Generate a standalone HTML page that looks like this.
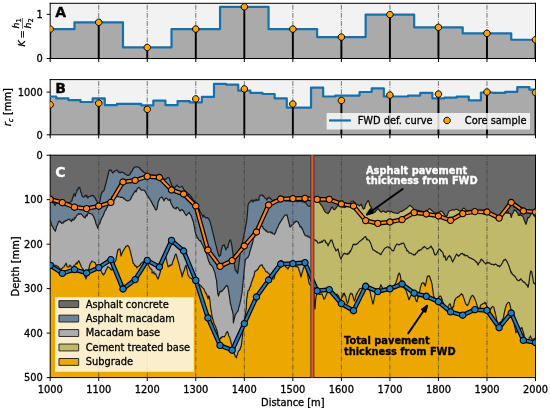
<!DOCTYPE html>
<html><head><meta charset="utf-8"><title>Figure</title>
<style>html,body{margin:0;padding:0;background:#fff;overflow:hidden}svg{display:block}
text{font-family:"DejaVu Sans","Liberation Sans",sans-serif}</style></head>
<body>
<svg width="550" height="410" viewBox="0 0 550 410" version="1.1">
<defs>
<style type="text/css">*{stroke-linejoin: round; stroke-linecap: butt}</style>
</defs>
<g id="figure_1">
<g id="patch_1">
<path d="M 0 410 
L 550 410 
L 550 0 
L 0 0 
z
" style="fill: #ffffff"/>
</g>
<g id="axes_1">
<g id="patch_2">
<path d="M 50.2 58.5 
L 535.5 58.5 
L 535.5 3.3 
L 50.2 3.3 
z
" style="fill: #f2f2f2"/>
</g>
<g id="FillBetweenPolyCollection_1">
<g clip-path="url(#p1112a721fc)">
<path d="M 50.2 -351.5 
L 50.2 -380.86 
L 74.46 -380.86 
L 74.46 -387.71 
L 122.99 -387.71 
L 122.99 -362.54 
L 171.52 -362.54 
L 171.52 -380.95 
L 220.05 -380.95 
L 220.05 -403.16 
L 268.58 -403.16 
L 268.58 -380.91 
L 317.11 -380.91 
L 317.11 -372.91 
L 365.64 -372.91 
L 365.64 -395.43 
L 414.17 -395.43 
L 414.17 -382.63 
L 462.70 -382.63 
L 462.70 -376.67 
L 511.23 -376.67 
L 511.23 -370.26 
L 535.5 -370.26 
L 535.5 -351.5 
L 535.5 -351.5 
L 511.23 -351.5 
L 511.23 -351.5 
L 462.70 -351.5 
L 462.70 -351.5 
L 414.17 -351.5 
L 414.17 -351.5 
L 365.64 -351.5 
L 365.64 -351.5 
L 317.11 -351.5 
L 317.11 -351.5 
L 268.58 -351.5 
L 268.58 -351.5 
L 220.05 -351.5 
L 220.05 -351.5 
L 171.52 -351.5 
L 171.52 -351.5 
L 122.99 -351.5 
L 122.99 -351.5 
L 74.46 -351.5 
L 74.46 -351.5 
L 50.2 -351.5 
z
" transform="translate(0 410)" style="fill: #aaaaaa"/>
</g>
</g>
<g id="line2d_1">
<path d="M 98.73 58.5 
L 98.73 3.3 
" clip-path="url(#p1112a721fc)" style="fill: none; stroke-dasharray: 4.80,1.27,0.80,1.27; stroke-dashoffset: 0; stroke: #3c3c3c; stroke-opacity: 0.8; stroke-width: 0.85"/>
</g>
<g id="line2d_2">
<path d="M 147.26 58.5 
L 147.26 3.3 
" clip-path="url(#p1112a721fc)" style="fill: none; stroke-dasharray: 4.80,1.27,0.80,1.27; stroke-dashoffset: 0; stroke: #3c3c3c; stroke-opacity: 0.8; stroke-width: 0.85"/>
</g>
<g id="line2d_3">
<path d="M 195.79 58.5 
L 195.79 3.3 
" clip-path="url(#p1112a721fc)" style="fill: none; stroke-dasharray: 4.80,1.27,0.80,1.27; stroke-dashoffset: 0; stroke: #3c3c3c; stroke-opacity: 0.8; stroke-width: 0.85"/>
</g>
<g id="line2d_4">
<path d="M 244.32 58.5 
L 244.32 3.3 
" clip-path="url(#p1112a721fc)" style="fill: none; stroke-dasharray: 4.80,1.27,0.80,1.27; stroke-dashoffset: 0; stroke: #3c3c3c; stroke-opacity: 0.8; stroke-width: 0.85"/>
</g>
<g id="line2d_5">
<path d="M 292.85 58.5 
L 292.85 3.3 
" clip-path="url(#p1112a721fc)" style="fill: none; stroke-dasharray: 4.80,1.27,0.80,1.27; stroke-dashoffset: 0; stroke: #3c3c3c; stroke-opacity: 0.8; stroke-width: 0.85"/>
</g>
<g id="line2d_6">
<path d="M 341.38 58.5 
L 341.38 3.3 
" clip-path="url(#p1112a721fc)" style="fill: none; stroke-dasharray: 4.80,1.27,0.80,1.27; stroke-dashoffset: 0; stroke: #3c3c3c; stroke-opacity: 0.8; stroke-width: 0.85"/>
</g>
<g id="line2d_7">
<path d="M 389.91 58.5 
L 389.91 3.3 
" clip-path="url(#p1112a721fc)" style="fill: none; stroke-dasharray: 4.80,1.27,0.80,1.27; stroke-dashoffset: 0; stroke: #3c3c3c; stroke-opacity: 0.8; stroke-width: 0.85"/>
</g>
<g id="line2d_8">
<path d="M 438.44 58.5 
L 438.44 3.3 
" clip-path="url(#p1112a721fc)" style="fill: none; stroke-dasharray: 4.80,1.27,0.80,1.27; stroke-dashoffset: 0; stroke: #3c3c3c; stroke-opacity: 0.8; stroke-width: 0.85"/>
</g>
<g id="line2d_9">
<path d="M 486.97 58.5 
L 486.97 3.3 
" clip-path="url(#p1112a721fc)" style="fill: none; stroke-dasharray: 4.80,1.27,0.80,1.27; stroke-dashoffset: 0; stroke: #3c3c3c; stroke-opacity: 0.8; stroke-width: 0.85"/>
</g>
<g id="patch_3">
<path d="M 50.2 58.5 
L 50.2 3.3 
" style="fill: none; stroke: #000000; stroke-linejoin: miter; stroke-linecap: square"/>
</g>
<g id="patch_4">
<path d="M 535.5 58.5 
L 535.5 3.3 
" style="fill: none; stroke: #000000; stroke-linejoin: miter; stroke-linecap: square"/>
</g>
<g id="patch_5">
<path d="M 50.2 58.5 
L 535.5 58.5 
" style="fill: none; stroke: #000000; stroke-linejoin: miter; stroke-linecap: square"/>
</g>
<g id="patch_6">
<path d="M 50.2 3.3 
L 535.5 3.3 
" style="fill: none; stroke: #000000; stroke-linejoin: miter; stroke-linecap: square"/>
</g>
<g id="matplotlib.axis_1">
<g id="xtick_1">
<g id="line2d_10">
<g>
<path d="M 0 0 
L 0 3.5 
" transform="translate(50.2 58.5)" style="stroke: #000000"/>
</g>
</g>
</g>
<g id="xtick_2">
<g id="line2d_11">
<g>
<path d="M 0 0 
L 0 3.5 
" transform="translate(98.73 58.5)" style="stroke: #000000"/>
</g>
</g>
</g>
<g id="xtick_3">
<g id="line2d_12">
<g>
<path d="M 0 0 
L 0 3.5 
" transform="translate(147.26 58.5)" style="stroke: #000000"/>
</g>
</g>
</g>
<g id="xtick_4">
<g id="line2d_13">
<g>
<path d="M 0 0 
L 0 3.5 
" transform="translate(195.79 58.5)" style="stroke: #000000"/>
</g>
</g>
</g>
<g id="xtick_5">
<g id="line2d_14">
<g>
<path d="M 0 0 
L 0 3.5 
" transform="translate(244.32 58.5)" style="stroke: #000000"/>
</g>
</g>
</g>
<g id="xtick_6">
<g id="line2d_15">
<g>
<path d="M 0 0 
L 0 3.5 
" transform="translate(292.85 58.5)" style="stroke: #000000"/>
</g>
</g>
</g>
<g id="xtick_7">
<g id="line2d_16">
<g>
<path d="M 0 0 
L 0 3.5 
" transform="translate(341.38 58.5)" style="stroke: #000000"/>
</g>
</g>
</g>
<g id="xtick_8">
<g id="line2d_17">
<g>
<path d="M 0 0 
L 0 3.5 
" transform="translate(389.91 58.5)" style="stroke: #000000"/>
</g>
</g>
</g>
<g id="xtick_9">
<g id="line2d_18">
<g>
<path d="M 0 0 
L 0 3.5 
" transform="translate(438.44 58.5)" style="stroke: #000000"/>
</g>
</g>
</g>
<g id="xtick_10">
<g id="line2d_19">
<g>
<path d="M 0 0 
L 0 3.5 
" transform="translate(486.97 58.5)" style="stroke: #000000"/>
</g>
</g>
</g>
<g id="xtick_11">
<g id="line2d_20">
<g>
<path d="M 0 0 
L 0 3.5 
" transform="translate(535.5 58.5)" style="stroke: #000000"/>
</g>
</g>
</g>
</g>
<g id="matplotlib.axis_2">
<g id="ytick_1">
<g id="line2d_21">
<g>
<path d="M 0 0 
L -3.5 0 
" transform="translate(50.2 58.5)" style="stroke: #000000"/>
</g>
</g>
<g id="text_1">
<text style="font-size: 9.85px; font-family: 'DejaVu Sans', sans-serif; text-anchor: end; stroke: #000000; stroke-width: 0.3px" x="42.7" y="62.24" transform="rotate(-0 42.7 62.24)">0</text>
</g>
</g>
<g id="ytick_2">
<g id="line2d_22">
<g>
<path d="M 0 0 
L -3.5 0 
" transform="translate(50.2 14.34)" style="stroke: #000000"/>
</g>
</g>
<g id="text_2">
<text style="font-size: 9.85px; font-family: 'DejaVu Sans', sans-serif; text-anchor: end; stroke: #000000; stroke-width: 0.3px" x="42.7" y="18.08" transform="rotate(-0 42.7 18.08)">1</text>
</g>
</g>
<g id="text_3">
<!-- $K=\dfrac{h_1}{h_2}$ -->
<g transform="translate(25.43 46.43) rotate(-90)">
<text style="stroke: #000000; stroke-width: 0.3px">
<tspan x="0" y="-0.44" style="font-style: oblique; font-size: 9.5px; font-family: 'DejaVu Sans', sans-serif">K</tspan>
<tspan x="17.89" y="-6.40" style="font-style: oblique; font-size: 9.5px; font-family: 'DejaVu Sans', sans-serif">h</tspan>
<tspan x="17.89" y="5.79" style="font-style: oblique; font-size: 9.5px; font-family: 'DejaVu Sans', sans-serif">h</tspan>
<tspan x="8.08" y="-0.44" style="font-size: 9.5px; font-family: 'DejaVu Sans', sans-serif">=</tspan>
<tspan x="23.91" y="-4.76" style="font-size: 6.65px; font-family: 'DejaVu Sans', sans-serif">1</tspan>
<tspan x="23.91" y="7.43" style="font-size: 6.65px; font-family: 'DejaVu Sans', sans-serif">2</tspan>
</text>
<rect x="17.89" y="-3.39" width="10.52" height="0.59"/>
</g>
</g>
</g>
<g id="line2d_23">
<path d="M 50.2 29.13 
L 74.46 29.13 
L 74.46 22.28 
L 122.99 22.28 
L 122.99 47.46 
L 171.52 47.46 
L 171.52 29.04 
L 220.05 29.04 
L 220.05 6.83 
L 268.58 6.83 
L 268.58 29.08 
L 317.11 29.08 
L 317.11 37.08 
L 365.64 37.08 
L 365.64 14.56 
L 414.17 14.56 
L 414.17 27.36 
L 462.70 27.36 
L 462.70 33.32 
L 511.23 33.32 
L 511.23 39.73 
L 535.5 39.73 
" clip-path="url(#p1112a721fc)" style="fill: none; stroke: #1570b0; stroke-width: 2.2; stroke-linecap: square"/>
</g>
<g id="text_4">
<text style="font-weight: 700; font-size: 14px; font-family: 'DejaVu Sans', sans-serif; text-anchor: start; stroke: #000000; stroke-width: 0.3px" x="55.2" y="17.13" transform="rotate(-0 55.2 17.13)">A</text>
</g>
<g id="LineCollection_1">
<path d="M 50.2 58.5 
L 50.2 29.13 
" clip-path="url(#p1112a721fc)" style="fill: none; stroke: #000000; stroke-width: 1.9"/>
<path d="M 98.73 58.5 
L 98.73 22.28 
" clip-path="url(#p1112a721fc)" style="fill: none; stroke: #000000; stroke-width: 1.9"/>
<path d="M 147.26 58.5 
L 147.26 47.46 
" clip-path="url(#p1112a721fc)" style="fill: none; stroke: #000000; stroke-width: 1.9"/>
<path d="M 195.79 58.5 
L 195.79 29.04 
" clip-path="url(#p1112a721fc)" style="fill: none; stroke: #000000; stroke-width: 1.9"/>
<path d="M 244.32 58.5 
L 244.32 6.83 
" clip-path="url(#p1112a721fc)" style="fill: none; stroke: #000000; stroke-width: 1.9"/>
<path d="M 292.85 58.5 
L 292.85 29.08 
" clip-path="url(#p1112a721fc)" style="fill: none; stroke: #000000; stroke-width: 1.9"/>
<path d="M 341.38 58.5 
L 341.38 37.08 
" clip-path="url(#p1112a721fc)" style="fill: none; stroke: #000000; stroke-width: 1.9"/>
<path d="M 389.91 58.5 
L 389.91 14.56 
" clip-path="url(#p1112a721fc)" style="fill: none; stroke: #000000; stroke-width: 1.9"/>
<path d="M 438.44 58.5 
L 438.44 27.36 
" clip-path="url(#p1112a721fc)" style="fill: none; stroke: #000000; stroke-width: 1.9"/>
<path d="M 486.97 58.5 
L 486.97 33.32 
" clip-path="url(#p1112a721fc)" style="fill: none; stroke: #000000; stroke-width: 1.9"/>
<path d="M 535.5 58.5 
L 535.5 39.73 
" clip-path="url(#p1112a721fc)" style="fill: none; stroke: #000000; stroke-width: 1.9"/>
</g>
<g id="line2d_24">
<g clip-path="url(#p1112a721fc)">
<path d="M 0 3.25 
C 0.86 3.25 1.68 2.90 2.29 2.29 
C 2.90 1.68 3.25 0.86 3.25 0 
C 3.25 -0.86 2.90 -1.68 2.29 -2.29 
C 1.68 -2.90 0.86 -3.25 0 -3.25 
C -0.86 -3.25 -1.68 -2.90 -2.29 -2.29 
C -2.90 -1.68 -3.25 -0.86 -3.25 0 
C -3.25 0.86 -2.90 1.68 -2.29 2.29 
C -1.68 2.90 -0.86 3.25 0 3.25 
z
" transform="translate(50.2 29.13)" style="fill: #ffa500; stroke: #000000"/>
<path d="M 0 3.25 
C 0.86 3.25 1.68 2.90 2.29 2.29 
C 2.90 1.68 3.25 0.86 3.25 0 
C 3.25 -0.86 2.90 -1.68 2.29 -2.29 
C 1.68 -2.90 0.86 -3.25 0 -3.25 
C -0.86 -3.25 -1.68 -2.90 -2.29 -2.29 
C -2.90 -1.68 -3.25 -0.86 -3.25 0 
C -3.25 0.86 -2.90 1.68 -2.29 2.29 
C -1.68 2.90 -0.86 3.25 0 3.25 
z
" transform="translate(98.73 22.28)" style="fill: #ffa500; stroke: #000000"/>
<path d="M 0 3.25 
C 0.86 3.25 1.68 2.90 2.29 2.29 
C 2.90 1.68 3.25 0.86 3.25 0 
C 3.25 -0.86 2.90 -1.68 2.29 -2.29 
C 1.68 -2.90 0.86 -3.25 0 -3.25 
C -0.86 -3.25 -1.68 -2.90 -2.29 -2.29 
C -2.90 -1.68 -3.25 -0.86 -3.25 0 
C -3.25 0.86 -2.90 1.68 -2.29 2.29 
C -1.68 2.90 -0.86 3.25 0 3.25 
z
" transform="translate(147.26 47.46)" style="fill: #ffa500; stroke: #000000"/>
<path d="M 0 3.25 
C 0.86 3.25 1.68 2.90 2.29 2.29 
C 2.90 1.68 3.25 0.86 3.25 0 
C 3.25 -0.86 2.90 -1.68 2.29 -2.29 
C 1.68 -2.90 0.86 -3.25 0 -3.25 
C -0.86 -3.25 -1.68 -2.90 -2.29 -2.29 
C -2.90 -1.68 -3.25 -0.86 -3.25 0 
C -3.25 0.86 -2.90 1.68 -2.29 2.29 
C -1.68 2.90 -0.86 3.25 0 3.25 
z
" transform="translate(195.79 29.04)" style="fill: #ffa500; stroke: #000000"/>
<path d="M 0 3.25 
C 0.86 3.25 1.68 2.90 2.29 2.29 
C 2.90 1.68 3.25 0.86 3.25 0 
C 3.25 -0.86 2.90 -1.68 2.29 -2.29 
C 1.68 -2.90 0.86 -3.25 0 -3.25 
C -0.86 -3.25 -1.68 -2.90 -2.29 -2.29 
C -2.90 -1.68 -3.25 -0.86 -3.25 0 
C -3.25 0.86 -2.90 1.68 -2.29 2.29 
C -1.68 2.90 -0.86 3.25 0 3.25 
z
" transform="translate(244.32 6.83)" style="fill: #ffa500; stroke: #000000"/>
<path d="M 0 3.25 
C 0.86 3.25 1.68 2.90 2.29 2.29 
C 2.90 1.68 3.25 0.86 3.25 0 
C 3.25 -0.86 2.90 -1.68 2.29 -2.29 
C 1.68 -2.90 0.86 -3.25 0 -3.25 
C -0.86 -3.25 -1.68 -2.90 -2.29 -2.29 
C -2.90 -1.68 -3.25 -0.86 -3.25 0 
C -3.25 0.86 -2.90 1.68 -2.29 2.29 
C -1.68 2.90 -0.86 3.25 0 3.25 
z
" transform="translate(292.85 29.08)" style="fill: #ffa500; stroke: #000000"/>
<path d="M 0 3.25 
C 0.86 3.25 1.68 2.90 2.29 2.29 
C 2.90 1.68 3.25 0.86 3.25 0 
C 3.25 -0.86 2.90 -1.68 2.29 -2.29 
C 1.68 -2.90 0.86 -3.25 0 -3.25 
C -0.86 -3.25 -1.68 -2.90 -2.29 -2.29 
C -2.90 -1.68 -3.25 -0.86 -3.25 0 
C -3.25 0.86 -2.90 1.68 -2.29 2.29 
C -1.68 2.90 -0.86 3.25 0 3.25 
z
" transform="translate(341.38 37.08)" style="fill: #ffa500; stroke: #000000"/>
<path d="M 0 3.25 
C 0.86 3.25 1.68 2.90 2.29 2.29 
C 2.90 1.68 3.25 0.86 3.25 0 
C 3.25 -0.86 2.90 -1.68 2.29 -2.29 
C 1.68 -2.90 0.86 -3.25 0 -3.25 
C -0.86 -3.25 -1.68 -2.90 -2.29 -2.29 
C -2.90 -1.68 -3.25 -0.86 -3.25 0 
C -3.25 0.86 -2.90 1.68 -2.29 2.29 
C -1.68 2.90 -0.86 3.25 0 3.25 
z
" transform="translate(389.91 14.56)" style="fill: #ffa500; stroke: #000000"/>
<path d="M 0 3.25 
C 0.86 3.25 1.68 2.90 2.29 2.29 
C 2.90 1.68 3.25 0.86 3.25 0 
C 3.25 -0.86 2.90 -1.68 2.29 -2.29 
C 1.68 -2.90 0.86 -3.25 0 -3.25 
C -0.86 -3.25 -1.68 -2.90 -2.29 -2.29 
C -2.90 -1.68 -3.25 -0.86 -3.25 0 
C -3.25 0.86 -2.90 1.68 -2.29 2.29 
C -1.68 2.90 -0.86 3.25 0 3.25 
z
" transform="translate(438.44 27.36)" style="fill: #ffa500; stroke: #000000"/>
<path d="M 0 3.25 
C 0.86 3.25 1.68 2.90 2.29 2.29 
C 2.90 1.68 3.25 0.86 3.25 0 
C 3.25 -0.86 2.90 -1.68 2.29 -2.29 
C 1.68 -2.90 0.86 -3.25 0 -3.25 
C -0.86 -3.25 -1.68 -2.90 -2.29 -2.29 
C -2.90 -1.68 -3.25 -0.86 -3.25 0 
C -3.25 0.86 -2.90 1.68 -2.29 2.29 
C -1.68 2.90 -0.86 3.25 0 3.25 
z
" transform="translate(486.97 33.32)" style="fill: #ffa500; stroke: #000000"/>
<path d="M 0 3.25 
C 0.86 3.25 1.68 2.90 2.29 2.29 
C 2.90 1.68 3.25 0.86 3.25 0 
C 3.25 -0.86 2.90 -1.68 2.29 -2.29 
C 1.68 -2.90 0.86 -3.25 0 -3.25 
C -0.86 -3.25 -1.68 -2.90 -2.29 -2.29 
C -2.90 -1.68 -3.25 -0.86 -3.25 0 
C -3.25 0.86 -2.90 1.68 -2.29 2.29 
C -1.68 2.90 -0.86 3.25 0 3.25 
z
" transform="translate(535.5 39.73)" style="fill: #ffa500; stroke: #000000"/>
</g>
</g>
</g>
<g id="axes_2">
<g id="patch_7">
<path d="M 50.2 134.8 
L 535.5 134.8 
L 535.5 79.6 
L 50.2 79.6 
z
" style="fill: #f2f2f2"/>
</g>
<g id="FillBetweenPolyCollection_2">
<g clip-path="url(#p58a53e73a0)">
<path d="M 50.2 -275.2 
L 50.2 -313.49 
L 56.26 -313.49 
L 56.26 -311.57 
L 68.39 -311.57 
L 68.39 -309.78 
L 80.53 -309.78 
L 80.53 -307.98 
L 92.66 -307.98 
L 92.66 -311.57 
L 104.79 -311.57 
L 104.79 -304.87 
L 116.92 -304.87 
L 116.92 -306.19 
L 129.06 -306.19 
L 129.06 -306.19 
L 141.19 -306.19 
L 141.19 -304.69 
L 153.32 -304.69 
L 153.32 -309.31 
L 165.45 -309.31 
L 165.45 -304.87 
L 177.59 -304.87 
L 177.59 -308.88 
L 189.72 -308.88 
L 189.72 -307.60 
L 201.85 -307.60 
L 201.85 -313.10 
L 213.98 -313.10 
L 213.98 -326.17 
L 226.12 -326.17 
L 226.12 -325.27 
L 238.25 -325.27 
L 238.25 -319.30 
L 250.38 -319.30 
L 250.38 -317.08 
L 262.51 -317.08 
L 262.51 -315.97 
L 274.65 -315.97 
L 274.65 -311.57 
L 286.78 -311.57 
L 286.78 -302.39 
L 298.91 -302.39 
L 298.91 -302.39 
L 311.04 -302.39 
L 311.04 -322.37 
L 323.18 -322.37 
L 323.18 -313.49 
L 335.31 -313.49 
L 335.31 -314.39 
L 347.44 -314.39 
L 347.44 -314.39 
L 359.57 -314.39 
L 359.57 -317.97 
L 371.71 -317.97 
L 371.71 -321.60 
L 383.84 -321.60 
L 383.84 -313.49 
L 395.97 -313.49 
L 395.97 -313.49 
L 408.10 -313.49 
L 408.10 -314.39 
L 420.24 -314.39 
L 420.24 -317.08 
L 432.37 -317.08 
L 432.37 -311.70 
L 444.50 -311.70 
L 444.50 -312.29 
L 456.63 -312.29 
L 456.63 -313.40 
L 468.77 -313.40 
L 468.77 -309.60 
L 480.90 -309.60 
L 480.90 -317.50 
L 493.03 -317.50 
L 493.03 -317.08 
L 505.16 -317.08 
L 505.16 -318.19 
L 517.30 -318.19 
L 517.30 -322.80 
L 529.43 -322.80 
L 529.43 -320.28 
L 535.5 -320.28 
L 535.5 -275.2 
L 535.5 -275.2 
L 529.43 -275.2 
L 529.43 -275.2 
L 517.30 -275.2 
L 517.30 -275.2 
L 505.16 -275.2 
L 505.16 -275.2 
L 493.03 -275.2 
L 493.03 -275.2 
L 480.90 -275.2 
L 480.90 -275.2 
L 468.77 -275.2 
L 468.77 -275.2 
L 456.63 -275.2 
L 456.63 -275.2 
L 444.50 -275.2 
L 444.50 -275.2 
L 432.37 -275.2 
L 432.37 -275.2 
L 420.24 -275.2 
L 420.24 -275.2 
L 408.10 -275.2 
L 408.10 -275.2 
L 395.97 -275.2 
L 395.97 -275.2 
L 383.84 -275.2 
L 383.84 -275.2 
L 371.71 -275.2 
L 371.71 -275.2 
L 359.57 -275.2 
L 359.57 -275.2 
L 347.44 -275.2 
L 347.44 -275.2 
L 335.31 -275.2 
L 335.31 -275.2 
L 323.18 -275.2 
L 323.18 -275.2 
L 311.04 -275.2 
L 311.04 -275.2 
L 298.91 -275.2 
L 298.91 -275.2 
L 286.78 -275.2 
L 286.78 -275.2 
L 274.65 -275.2 
L 274.65 -275.2 
L 262.51 -275.2 
L 262.51 -275.2 
L 250.38 -275.2 
L 250.38 -275.2 
L 238.25 -275.2 
L 238.25 -275.2 
L 226.12 -275.2 
L 226.12 -275.2 
L 213.98 -275.2 
L 213.98 -275.2 
L 201.85 -275.2 
L 201.85 -275.2 
L 189.72 -275.2 
L 189.72 -275.2 
L 177.59 -275.2 
L 177.59 -275.2 
L 165.45 -275.2 
L 165.45 -275.2 
L 153.32 -275.2 
L 153.32 -275.2 
L 141.19 -275.2 
L 141.19 -275.2 
L 129.06 -275.2 
L 129.06 -275.2 
L 116.92 -275.2 
L 116.92 -275.2 
L 104.79 -275.2 
L 104.79 -275.2 
L 92.66 -275.2 
L 92.66 -275.2 
L 80.53 -275.2 
L 80.53 -275.2 
L 68.39 -275.2 
L 68.39 -275.2 
L 56.26 -275.2 
L 56.26 -275.2 
L 50.2 -275.2 
z
" transform="translate(0 410)" style="fill: #aaaaaa"/>
</g>
</g>
<g id="line2d_25">
<path d="M 98.73 134.8 
L 98.73 79.6 
" clip-path="url(#p58a53e73a0)" style="fill: none; stroke-dasharray: 4.80,1.27,0.80,1.27; stroke-dashoffset: 0; stroke: #3c3c3c; stroke-opacity: 0.8; stroke-width: 0.85"/>
</g>
<g id="line2d_26">
<path d="M 147.26 134.8 
L 147.26 79.6 
" clip-path="url(#p58a53e73a0)" style="fill: none; stroke-dasharray: 4.80,1.27,0.80,1.27; stroke-dashoffset: 0; stroke: #3c3c3c; stroke-opacity: 0.8; stroke-width: 0.85"/>
</g>
<g id="line2d_27">
<path d="M 195.79 134.8 
L 195.79 79.6 
" clip-path="url(#p58a53e73a0)" style="fill: none; stroke-dasharray: 4.80,1.27,0.80,1.27; stroke-dashoffset: 0; stroke: #3c3c3c; stroke-opacity: 0.8; stroke-width: 0.85"/>
</g>
<g id="line2d_28">
<path d="M 244.32 134.8 
L 244.32 79.6 
" clip-path="url(#p58a53e73a0)" style="fill: none; stroke-dasharray: 4.80,1.27,0.80,1.27; stroke-dashoffset: 0; stroke: #3c3c3c; stroke-opacity: 0.8; stroke-width: 0.85"/>
</g>
<g id="line2d_29">
<path d="M 292.85 134.8 
L 292.85 79.6 
" clip-path="url(#p58a53e73a0)" style="fill: none; stroke-dasharray: 4.80,1.27,0.80,1.27; stroke-dashoffset: 0; stroke: #3c3c3c; stroke-opacity: 0.8; stroke-width: 0.85"/>
</g>
<g id="line2d_30">
<path d="M 341.38 134.8 
L 341.38 79.6 
" clip-path="url(#p58a53e73a0)" style="fill: none; stroke-dasharray: 4.80,1.27,0.80,1.27; stroke-dashoffset: 0; stroke: #3c3c3c; stroke-opacity: 0.8; stroke-width: 0.85"/>
</g>
<g id="line2d_31">
<path d="M 389.91 134.8 
L 389.91 79.6 
" clip-path="url(#p58a53e73a0)" style="fill: none; stroke-dasharray: 4.80,1.27,0.80,1.27; stroke-dashoffset: 0; stroke: #3c3c3c; stroke-opacity: 0.8; stroke-width: 0.85"/>
</g>
<g id="line2d_32">
<path d="M 438.44 134.8 
L 438.44 79.6 
" clip-path="url(#p58a53e73a0)" style="fill: none; stroke-dasharray: 4.80,1.27,0.80,1.27; stroke-dashoffset: 0; stroke: #3c3c3c; stroke-opacity: 0.8; stroke-width: 0.85"/>
</g>
<g id="line2d_33">
<path d="M 486.97 134.8 
L 486.97 79.6 
" clip-path="url(#p58a53e73a0)" style="fill: none; stroke-dasharray: 4.80,1.27,0.80,1.27; stroke-dashoffset: 0; stroke: #3c3c3c; stroke-opacity: 0.8; stroke-width: 0.85"/>
</g>
<g id="patch_8">
<path d="M 50.2 134.8 
L 50.2 79.6 
" style="fill: none; stroke: #000000; stroke-linejoin: miter; stroke-linecap: square"/>
</g>
<g id="patch_9">
<path d="M 535.5 134.8 
L 535.5 79.6 
" style="fill: none; stroke: #000000; stroke-linejoin: miter; stroke-linecap: square"/>
</g>
<g id="patch_10">
<path d="M 50.2 134.8 
L 535.5 134.8 
" style="fill: none; stroke: #000000; stroke-linejoin: miter; stroke-linecap: square"/>
</g>
<g id="patch_11">
<path d="M 50.2 79.6 
L 535.5 79.6 
" style="fill: none; stroke: #000000; stroke-linejoin: miter; stroke-linecap: square"/>
</g>
<g id="matplotlib.axis_3">
<g id="xtick_12">
<g id="line2d_34">
<g>
<path d="M 0 0 
L 0 3.5 
" transform="translate(50.2 134.8)" style="stroke: #000000"/>
</g>
</g>
</g>
<g id="xtick_13">
<g id="line2d_35">
<g>
<path d="M 0 0 
L 0 3.5 
" transform="translate(98.73 134.8)" style="stroke: #000000"/>
</g>
</g>
</g>
<g id="xtick_14">
<g id="line2d_36">
<g>
<path d="M 0 0 
L 0 3.5 
" transform="translate(147.26 134.8)" style="stroke: #000000"/>
</g>
</g>
</g>
<g id="xtick_15">
<g id="line2d_37">
<g>
<path d="M 0 0 
L 0 3.5 
" transform="translate(195.79 134.8)" style="stroke: #000000"/>
</g>
</g>
</g>
<g id="xtick_16">
<g id="line2d_38">
<g>
<path d="M 0 0 
L 0 3.5 
" transform="translate(244.32 134.8)" style="stroke: #000000"/>
</g>
</g>
</g>
<g id="xtick_17">
<g id="line2d_39">
<g>
<path d="M 0 0 
L 0 3.5 
" transform="translate(292.85 134.8)" style="stroke: #000000"/>
</g>
</g>
</g>
<g id="xtick_18">
<g id="line2d_40">
<g>
<path d="M 0 0 
L 0 3.5 
" transform="translate(341.38 134.8)" style="stroke: #000000"/>
</g>
</g>
</g>
<g id="xtick_19">
<g id="line2d_41">
<g>
<path d="M 0 0 
L 0 3.5 
" transform="translate(389.91 134.8)" style="stroke: #000000"/>
</g>
</g>
</g>
<g id="xtick_20">
<g id="line2d_42">
<g>
<path d="M 0 0 
L 0 3.5 
" transform="translate(438.44 134.8)" style="stroke: #000000"/>
</g>
</g>
</g>
<g id="xtick_21">
<g id="line2d_43">
<g>
<path d="M 0 0 
L 0 3.5 
" transform="translate(486.97 134.8)" style="stroke: #000000"/>
</g>
</g>
</g>
<g id="xtick_22">
<g id="line2d_44">
<g>
<path d="M 0 0 
L 0 3.5 
" transform="translate(535.5 134.8)" style="stroke: #000000"/>
</g>
</g>
</g>
</g>
<g id="matplotlib.axis_4">
<g id="ytick_3">
<g id="line2d_45">
<g>
<path d="M 0 0 
L -3.5 0 
" transform="translate(50.2 134.8)" style="stroke: #000000"/>
</g>
</g>
<g id="text_5">
<text style="font-size: 9.85px; font-family: 'DejaVu Sans', sans-serif; text-anchor: end; stroke: #000000; stroke-width: 0.3px" x="42.7" y="138.54" transform="rotate(-0 42.7 138.54)">0</text>
</g>
</g>
<g id="ytick_4">
<g id="line2d_46">
<g>
<path d="M 0 0 
L -3.5 0 
" transform="translate(50.2 92.10)" style="stroke: #000000"/>
</g>
</g>
<g id="text_6">
<text style="font-size: 9.85px; font-family: 'DejaVu Sans', sans-serif; text-anchor: end; stroke: #000000; stroke-width: 0.3px" x="42.7" y="95.85" transform="rotate(-0 42.7 95.85)">1000</text>
</g>
</g>
<g id="text_7">
<!-- $r_c$ [mm] -->
<g transform="translate(11.58 126.25) rotate(-90)">
<text style="stroke: #000000; stroke-width: 0.3px">
<tspan x="0" y="-0.40" style="font-style: oblique; font-size: 9.85px; font-family: 'DejaVu Sans', sans-serif">r</tspan>
<tspan x="4.05" y="1.23" style="font-style: oblique; font-size: 6.89px; font-family: 'DejaVu Sans', sans-serif">c</tspan>
<tspan x="8.13" y="-0.40" style="font-size: 9.85px; font-family: 'DejaVu Sans', sans-serif"> </tspan>
<tspan x="11.27" y="-0.40" style="font-size: 9.85px; font-family: 'DejaVu Sans', sans-serif">[</tspan>
<tspan x="15.12" y="-0.40" style="font-size: 9.85px; font-family: 'DejaVu Sans', sans-serif">m</tspan>
<tspan x="24.74" y="-0.40" style="font-size: 9.85px; font-family: 'DejaVu Sans', sans-serif">m</tspan>
<tspan x="34.36" y="-0.40" style="font-size: 9.85px; font-family: 'DejaVu Sans', sans-serif">]</tspan>
</text>
</g>
</g>
</g>
<g id="line2d_47">
<path d="M 50.2 96.50 
L 56.26 96.50 
L 56.26 98.42 
L 68.39 98.42 
L 68.39 100.21 
L 80.53 100.21 
L 80.53 102.01 
L 92.66 102.01 
L 92.66 98.42 
L 104.79 98.42 
L 104.79 105.12 
L 116.92 105.12 
L 116.92 103.80 
L 129.06 103.80 
L 129.06 103.80 
L 141.19 103.80 
L 141.19 105.30 
L 153.32 105.30 
L 153.32 100.68 
L 165.45 100.68 
L 165.45 105.12 
L 177.59 105.12 
L 177.59 101.11 
L 189.72 101.11 
L 189.72 102.39 
L 201.85 102.39 
L 201.85 96.89 
L 213.98 96.89 
L 213.98 83.82 
L 226.12 83.82 
L 226.12 84.72 
L 238.25 84.72 
L 238.25 90.69 
L 250.38 90.69 
L 250.38 92.91 
L 262.51 92.91 
L 262.51 94.02 
L 274.65 94.02 
L 274.65 98.42 
L 286.78 98.42 
L 286.78 107.60 
L 298.91 107.60 
L 298.91 107.60 
L 311.04 107.60 
L 311.04 87.62 
L 323.18 87.62 
L 323.18 96.50 
L 335.31 96.50 
L 335.31 95.60 
L 347.44 95.60 
L 347.44 95.60 
L 359.57 95.60 
L 359.57 92.02 
L 371.71 92.02 
L 371.71 88.39 
L 383.84 88.39 
L 383.84 96.50 
L 395.97 96.50 
L 395.97 96.50 
L 408.10 96.50 
L 408.10 95.60 
L 420.24 95.60 
L 420.24 92.91 
L 432.37 92.91 
L 432.37 98.29 
L 444.50 98.29 
L 444.50 97.70 
L 456.63 97.70 
L 456.63 96.59 
L 468.77 96.59 
L 468.77 100.39 
L 480.90 100.39 
L 480.90 92.49 
L 493.03 92.49 
L 493.03 92.91 
L 505.16 92.91 
L 505.16 91.80 
L 517.30 91.80 
L 517.30 87.19 
L 529.43 87.19 
L 529.43 89.71 
L 535.5 89.71 
" clip-path="url(#p58a53e73a0)" style="fill: none; stroke: #1570b0; stroke-width: 2.2; stroke-linecap: square"/>
</g>
<g id="text_8">
<text style="font-weight: 700; font-size: 14px; font-family: 'DejaVu Sans', sans-serif; text-anchor: start; stroke: #000000; stroke-width: 0.3px" x="55.2" y="93.43" transform="rotate(-0 55.2 93.43)">B</text>
</g>
<g id="LineCollection_2">
<path d="M 50.2 134.8 
L 50.2 104.70 
" clip-path="url(#p58a53e73a0)" style="fill: none; stroke: #000000; stroke-width: 1.9"/>
<path d="M 98.73 134.8 
L 98.73 103.20 
" clip-path="url(#p58a53e73a0)" style="fill: none; stroke: #000000; stroke-width: 1.9"/>
<path d="M 147.26 134.8 
L 147.26 109.31 
" clip-path="url(#p58a53e73a0)" style="fill: none; stroke: #000000; stroke-width: 1.9"/>
<path d="M 195.79 134.8 
L 195.79 98.89 
" clip-path="url(#p58a53e73a0)" style="fill: none; stroke: #000000; stroke-width: 1.9"/>
<path d="M 244.32 134.8 
L 244.32 88.90 
" clip-path="url(#p58a53e73a0)" style="fill: none; stroke: #000000; stroke-width: 1.9"/>
<path d="M 292.85 134.8 
L 292.85 104.01 
" clip-path="url(#p58a53e73a0)" style="fill: none; stroke: #000000; stroke-width: 1.9"/>
<path d="M 341.38 134.8 
L 341.38 100.51 
" clip-path="url(#p58a53e73a0)" style="fill: none; stroke: #000000; stroke-width: 1.9"/>
<path d="M 389.91 134.8 
L 389.91 95.09 
" clip-path="url(#p58a53e73a0)" style="fill: none; stroke: #000000; stroke-width: 1.9"/>
<path d="M 438.44 134.8 
L 438.44 94.11 
" clip-path="url(#p58a53e73a0)" style="fill: none; stroke: #000000; stroke-width: 1.9"/>
<path d="M 486.97 134.8 
L 486.97 92.02 
" clip-path="url(#p58a53e73a0)" style="fill: none; stroke: #000000; stroke-width: 1.9"/>
<path d="M 535.5 134.8 
L 535.5 92.49 
" clip-path="url(#p58a53e73a0)" style="fill: none; stroke: #000000; stroke-width: 1.9"/>
</g>
<g id="line2d_48">
<g clip-path="url(#p58a53e73a0)">
<path d="M 0 3.25 
C 0.86 3.25 1.68 2.90 2.29 2.29 
C 2.90 1.68 3.25 0.86 3.25 0 
C 3.25 -0.86 2.90 -1.68 2.29 -2.29 
C 1.68 -2.90 0.86 -3.25 0 -3.25 
C -0.86 -3.25 -1.68 -2.90 -2.29 -2.29 
C -2.90 -1.68 -3.25 -0.86 -3.25 0 
C -3.25 0.86 -2.90 1.68 -2.29 2.29 
C -1.68 2.90 -0.86 3.25 0 3.25 
z
" transform="translate(50.2 104.70)" style="fill: #ffa500; stroke: #000000"/>
<path d="M 0 3.25 
C 0.86 3.25 1.68 2.90 2.29 2.29 
C 2.90 1.68 3.25 0.86 3.25 0 
C 3.25 -0.86 2.90 -1.68 2.29 -2.29 
C 1.68 -2.90 0.86 -3.25 0 -3.25 
C -0.86 -3.25 -1.68 -2.90 -2.29 -2.29 
C -2.90 -1.68 -3.25 -0.86 -3.25 0 
C -3.25 0.86 -2.90 1.68 -2.29 2.29 
C -1.68 2.90 -0.86 3.25 0 3.25 
z
" transform="translate(98.73 103.20)" style="fill: #ffa500; stroke: #000000"/>
<path d="M 0 3.25 
C 0.86 3.25 1.68 2.90 2.29 2.29 
C 2.90 1.68 3.25 0.86 3.25 0 
C 3.25 -0.86 2.90 -1.68 2.29 -2.29 
C 1.68 -2.90 0.86 -3.25 0 -3.25 
C -0.86 -3.25 -1.68 -2.90 -2.29 -2.29 
C -2.90 -1.68 -3.25 -0.86 -3.25 0 
C -3.25 0.86 -2.90 1.68 -2.29 2.29 
C -1.68 2.90 -0.86 3.25 0 3.25 
z
" transform="translate(147.26 109.31)" style="fill: #ffa500; stroke: #000000"/>
<path d="M 0 3.25 
C 0.86 3.25 1.68 2.90 2.29 2.29 
C 2.90 1.68 3.25 0.86 3.25 0 
C 3.25 -0.86 2.90 -1.68 2.29 -2.29 
C 1.68 -2.90 0.86 -3.25 0 -3.25 
C -0.86 -3.25 -1.68 -2.90 -2.29 -2.29 
C -2.90 -1.68 -3.25 -0.86 -3.25 0 
C -3.25 0.86 -2.90 1.68 -2.29 2.29 
C -1.68 2.90 -0.86 3.25 0 3.25 
z
" transform="translate(195.79 98.89)" style="fill: #ffa500; stroke: #000000"/>
<path d="M 0 3.25 
C 0.86 3.25 1.68 2.90 2.29 2.29 
C 2.90 1.68 3.25 0.86 3.25 0 
C 3.25 -0.86 2.90 -1.68 2.29 -2.29 
C 1.68 -2.90 0.86 -3.25 0 -3.25 
C -0.86 -3.25 -1.68 -2.90 -2.29 -2.29 
C -2.90 -1.68 -3.25 -0.86 -3.25 0 
C -3.25 0.86 -2.90 1.68 -2.29 2.29 
C -1.68 2.90 -0.86 3.25 0 3.25 
z
" transform="translate(244.32 88.90)" style="fill: #ffa500; stroke: #000000"/>
<path d="M 0 3.25 
C 0.86 3.25 1.68 2.90 2.29 2.29 
C 2.90 1.68 3.25 0.86 3.25 0 
C 3.25 -0.86 2.90 -1.68 2.29 -2.29 
C 1.68 -2.90 0.86 -3.25 0 -3.25 
C -0.86 -3.25 -1.68 -2.90 -2.29 -2.29 
C -2.90 -1.68 -3.25 -0.86 -3.25 0 
C -3.25 0.86 -2.90 1.68 -2.29 2.29 
C -1.68 2.90 -0.86 3.25 0 3.25 
z
" transform="translate(292.85 104.01)" style="fill: #ffa500; stroke: #000000"/>
<path d="M 0 3.25 
C 0.86 3.25 1.68 2.90 2.29 2.29 
C 2.90 1.68 3.25 0.86 3.25 0 
C 3.25 -0.86 2.90 -1.68 2.29 -2.29 
C 1.68 -2.90 0.86 -3.25 0 -3.25 
C -0.86 -3.25 -1.68 -2.90 -2.29 -2.29 
C -2.90 -1.68 -3.25 -0.86 -3.25 0 
C -3.25 0.86 -2.90 1.68 -2.29 2.29 
C -1.68 2.90 -0.86 3.25 0 3.25 
z
" transform="translate(341.38 100.51)" style="fill: #ffa500; stroke: #000000"/>
<path d="M 0 3.25 
C 0.86 3.25 1.68 2.90 2.29 2.29 
C 2.90 1.68 3.25 0.86 3.25 0 
C 3.25 -0.86 2.90 -1.68 2.29 -2.29 
C 1.68 -2.90 0.86 -3.25 0 -3.25 
C -0.86 -3.25 -1.68 -2.90 -2.29 -2.29 
C -2.90 -1.68 -3.25 -0.86 -3.25 0 
C -3.25 0.86 -2.90 1.68 -2.29 2.29 
C -1.68 2.90 -0.86 3.25 0 3.25 
z
" transform="translate(389.91 95.09)" style="fill: #ffa500; stroke: #000000"/>
<path d="M 0 3.25 
C 0.86 3.25 1.68 2.90 2.29 2.29 
C 2.90 1.68 3.25 0.86 3.25 0 
C 3.25 -0.86 2.90 -1.68 2.29 -2.29 
C 1.68 -2.90 0.86 -3.25 0 -3.25 
C -0.86 -3.25 -1.68 -2.90 -2.29 -2.29 
C -2.90 -1.68 -3.25 -0.86 -3.25 0 
C -3.25 0.86 -2.90 1.68 -2.29 2.29 
C -1.68 2.90 -0.86 3.25 0 3.25 
z
" transform="translate(438.44 94.11)" style="fill: #ffa500; stroke: #000000"/>
<path d="M 0 3.25 
C 0.86 3.25 1.68 2.90 2.29 2.29 
C 2.90 1.68 3.25 0.86 3.25 0 
C 3.25 -0.86 2.90 -1.68 2.29 -2.29 
C 1.68 -2.90 0.86 -3.25 0 -3.25 
C -0.86 -3.25 -1.68 -2.90 -2.29 -2.29 
C -2.90 -1.68 -3.25 -0.86 -3.25 0 
C -3.25 0.86 -2.90 1.68 -2.29 2.29 
C -1.68 2.90 -0.86 3.25 0 3.25 
z
" transform="translate(486.97 92.02)" style="fill: #ffa500; stroke: #000000"/>
<path d="M 0 3.25 
C 0.86 3.25 1.68 2.90 2.29 2.29 
C 2.90 1.68 3.25 0.86 3.25 0 
C 3.25 -0.86 2.90 -1.68 2.29 -2.29 
C 1.68 -2.90 0.86 -3.25 0 -3.25 
C -0.86 -3.25 -1.68 -2.90 -2.29 -2.29 
C -2.90 -1.68 -3.25 -0.86 -3.25 0 
C -3.25 0.86 -2.90 1.68 -2.29 2.29 
C -1.68 2.90 -0.86 3.25 0 3.25 
z
" transform="translate(535.5 92.49)" style="fill: #ffa500; stroke: #000000"/>
</g>
</g>
<g id="legend_1">
<g id="patch_12">
<path d="M 326.63 129.4 
L 530 129.4 
L 530 112.97 
L 326.63 112.97 
z
" style="fill: #ffffff; opacity: 0.8"/>
</g>
<g id="line2d_49">
<path d="M 330.07 120.45 
L 335.00 120.45 
L 335.00 120.45 
L 344.85 120.45 
L 344.85 120.45 
L 349.77 120.45 
" style="fill: none; stroke: #1570b0; stroke-width: 2.2; stroke-linecap: square"/>
</g>
<g id="text_9">
<text style="font-size: 9.85px; font-family: 'DejaVu Sans', sans-serif; text-anchor: start; stroke: #000000; stroke-width: 0.3px" x="357.65" y="123.90" transform="rotate(-0 357.65 123.90)">FWD def. curve</text>
</g>
<g id="line2d_50">
<g>
<path d="M 0 3.25 
C 0.86 3.25 1.68 2.90 2.29 2.29 
C 2.90 1.68 3.25 0.86 3.25 0 
C 3.25 -0.86 2.90 -1.68 2.29 -2.29 
C 1.68 -2.90 0.86 -3.25 0 -3.25 
C -0.86 -3.25 -1.68 -2.90 -2.29 -2.29 
C -2.90 -1.68 -3.25 -0.86 -3.25 0 
C -3.25 0.86 -2.90 1.68 -2.29 2.29 
C -1.68 2.90 -0.86 3.25 0 3.25 
z
" transform="translate(447.08 120.45)" style="fill: #ffa500; stroke: #000000"/>
</g>
</g>
<g id="text_10">
<text style="font-size: 9.85px; font-family: 'DejaVu Sans', sans-serif; text-anchor: start; stroke: #000000; stroke-width: 0.3px" x="464.81" y="123.90" transform="rotate(-0 464.81 123.90)">Core sample</text>
</g>
</g>
</g>
<g id="axes_3">
<g id="patch_13">
<path d="M 50.2 377.6 
L 535.5 377.6 
L 535.5 155.2 
L 50.2 155.2 
z
" style="fill: #eca800"/>
</g>
<g id="FillBetweenPolyCollection_3">
<g clip-path="url(#pb78dd19eea)">
<path d="M 50.2 -254.8 
L 50.2 -147.21 
L 50.4 -147.21 
L 50.4 -147 
L 51.8 -146.14 
L 53 -147 
L 53.2 -145.18 
L 54.6 -144.82 
L 56 -144.75 
L 56 -144 
L 57.4 -144.01 
L 58.8 -142.57 
L 59 -142 
L 60.2 -141.26 
L 61 -140 
L 61.6 -141.30 
L 63 -142.62 
L 64 -143 
L 64.4 -144.12 
L 65.8 -145.95 
L 66 -147 
L 67.2 -143.30 
L 68 -143 
L 68.6 -142.77 
L 70 -144.80 
L 70 -145 
L 71.4 -142.77 
L 72 -142 
L 72.8 -142.84 
L 74.2 -144.57 
L 75 -145 
L 75.6 -146.01 
L 77 -147.31 
L 77 -146 
L 78.4 -149.11 
L 79 -149 
L 79.8 -147.01 
L 81 -144 
L 81.2 -143.51 
L 82.6 -141.22 
L 83 -141 
L 84 -136.85 
L 85 -133 
L 85.4 -133.17 
L 86 -131 
L 86.8 -134.33 
L 88 -137 
L 88.2 -137.91 
L 89.6 -144.02 
L 90 -146 
L 91 -147.29 
L 92 -149 
L 92.4 -148.23 
L 93.8 -148.02 
L 94 -148 
L 95.2 -147.14 
L 96 -145 
L 96.6 -144.78 
L 98 -141.65 
L 98 -142 
L 99.4 -140.64 
L 100 -140 
L 100.8 -139.39 
L 102 -137 
L 102.2 -136.48 
L 103.6 -135.03 
L 104 -136 
L 105 -137.12 
L 106 -140 
L 106.4 -140.51 
L 107.8 -143.33 
L 108 -143 
L 109.2 -142.40 
L 110 -142 
L 110.6 -140.56 
L 112 -139.86 
L 112 -141 
L 113.4 -144.49 
L 114 -147 
L 114.8 -148.06 
L 116 -150 
L 116.2 -151.59 
L 117.6 -159.06 
L 118 -160 
L 119 -160.93 
L 120 -161 
L 120.4 -158.10 
L 121 -154 
L 121.8 -156.13 
L 123 -159 
L 123.2 -158.93 
L 124.6 -161.18 
L 125 -162 
L 126 -163.67 
L 127 -164 
L 127.4 -164.55 
L 128.8 -163.54 
L 129 -163 
L 130.2 -159.12 
L 131 -156 
L 131.6 -153.88 
L 133 -147.74 
L 133 -147 
L 134.4 -145.63 
L 135 -144 
L 135.8 -144.29 
L 137 -142 
L 137.2 -143.29 
L 138.6 -143.75 
L 139 -144 
L 140 -144.94 
L 141.4 -147.05 
L 142 -147 
L 142.8 -148.05 
L 144 -148 
L 144.2 -148.78 
L 145.6 -149.32 
L 146 -149 
L 147 -147.43 
L 148 -146 
L 148.4 -144.80 
L 149.8 -141.89 
L 150 -142 
L 151.2 -140.70 
L 152 -140 
L 152 -137 
L 152.6 -137.37 
L 154 -138.24 
L 154 -138 
L 154 -136 
L 155.4 -136.34 
L 156 -136 
L 156 -135 
L 156.8 -133.32 
L 158 -131 
L 158.2 -131.33 
L 159.6 -135.49 
L 160 -137 
L 161 -141.17 
L 162 -145 
L 162.4 -146.69 
L 163.8 -149.87 
L 164 -150 
L 165.2 -151.51 
L 166 -153 
L 166.6 -149.68 
L 168 -143.26 
L 168 -143 
L 169.4 -144.51 
L 170 -144 
L 170.8 -145.24 
L 172 -145 
L 172.2 -146.05 
L 173.6 -150.79 
L 174 -151 
L 175 -154.92 
L 176 -156 
L 176.4 -154.84 
L 177.8 -149.51 
L 178 -149 
L 179.2 -145.10 
L 180 -141 
L 180.6 -139.93 
L 182 -134.11 
L 182 -133 
L 183.4 -137.98 
L 184 -139 
L 184.8 -141.75 
L 186 -145 
L 186.2 -144.58 
L 187.6 -137.50 
L 188 -135 
L 189 -133.59 
L 190 -132 
L 190.4 -131.94 
L 191.8 -131.35 
L 192 -131 
L 193.2 -129.41 
L 194 -127 
L 194.6 -129.16 
L 196 -129.90 
L 196 -129 
L 197.4 -127.12 
L 198 -127 
L 198.8 -125.76 
L 200 -125 
L 200.2 -124.75 
L 201.6 -123.29 
L 202 -123 
L 203 -121.89 
L 204 -121 
L 204.4 -119.54 
L 205.8 -116.55 
L 206 -117 
L 207.2 -113.91 
L 208 -111 
L 208.6 -114.07 
L 209.1 -113.8 
L 209.8 -109.8 
L 210 -109.47 
L 210.4 -104.4 
L 211.1 -99 
L 211.4 -98.16 
L 211.8 -95 
L 212.8 -90.70 
L 213.5 -88.2 
L 214.2 -85.92 
L 215.6 -83.41 
L 216.8 -79.5 
L 217 -79.82 
L 218.4 -72.51 
L 219 -69.6 
L 219.8 -70.51 
L 221.2 -72.91 
L 221.2 -71.8 
L 222.6 -73.28 
L 224 -73.24 
L 224.5 -73.3 
L 225.4 -74.96 
L 226.8 -77.90 
L 227.3 -78.4 
L 228.2 -76.70 
L 228.8 -74 
L 229.6 -72.91 
L 231 -68.12 
L 231 -67.5 
L 232.4 -61.81 
L 233.2 -59.8 
L 233.8 -57.23 
L 235.2 -54.14 
L 235.4 -53.3 
L 236.5 -52.2 
L 236.6 -53.74 
L 237.5 -55.5 
L 238 -57.99 
L 239.4 -60.02 
L 239.7 -59.8 
L 240.8 -62.98 
L 241.3 -64.2 
L 242.2 -72.11 
L 242.3 -72.9 
L 243.4 -81.6 
L 243.6 -83.37 
L 244.7 -90.4 
L 245 -93.16 
L 246.3 -101.3 
L 246.4 -104.52 
L 246.6 -109.8 
L 247.8 -117.51 
L 248 -119.2 
L 249.2 -120.27 
L 250 -123.2 
L 250.6 -123.58 
L 251.3 -127.2 
L 252 -128.68 
L 253.4 -132.93 
L 254 -133.9 
L 254.7 -137.9 
L 254.8 -138.42 
L 256.2 -139.55 
L 256.7 -139.3 
L 257.6 -140.84 
L 258 -140.6 
L 259 -143.09 
L 259.4 -143.3 
L 260.4 -144.76 
L 260.7 -144.6 
L 261.8 -145.17 
L 262 -145.3 
L 263.2 -142.27 
L 263.4 -142 
L 264 -142 
L 264.6 -140.73 
L 266 -138.25 
L 266 -138 
L 267.4 -138.07 
L 268 -137 
L 268.8 -136.65 
L 270 -134 
L 270.2 -134.29 
L 271.6 -131.93 
L 272 -131 
L 273 -131.02 
L 274 -131 
L 274.4 -132.94 
L 275.8 -138.99 
L 276 -139 
L 277.2 -143.37 
L 278 -145 
L 278.6 -146.57 
L 280 -147.86 
L 280 -147 
L 281.4 -149.38 
L 282 -149 
L 282.8 -148.70 
L 284 -145 
L 284.2 -145.32 
L 285.6 -143.32 
L 286 -143 
L 287 -142.17 
L 288 -141 
L 288.4 -142.01 
L 289.8 -144.34 
L 290 -144 
L 291.2 -146.57 
L 292 -147 
L 292.6 -147.32 
L 294 -146.38 
L 294 -146 
L 295.4 -144.37 
L 296 -143 
L 296.8 -143.62 
L 298 -143 
L 298.2 -142.57 
L 299.6 -138.08 
L 300 -137 
L 301 -133.17 
L 301 -133 
L 302 -137 
L 302.4 -138.34 
L 303.8 -142.69 
L 304 -143 
L 305.2 -144.89 
L 306 -145 
L 306.6 -141.55 
L 308 -132.63 
L 308 -133 
L 309 -127 
L 309.4 -125.95 
L 310 -125 
L 312.35 -125 
L 312.35 -254.8 
L 312.35 -254.8 
L 310 -254.8 
L 309.4 -254.8 
L 309 -254.8 
L 308 -254.8 
L 308 -254.8 
L 306.6 -254.8 
L 306 -254.8 
L 305.2 -254.8 
L 304 -254.8 
L 303.8 -254.8 
L 302.4 -254.8 
L 302 -254.8 
L 301 -254.8 
L 301 -254.8 
L 300 -254.8 
L 299.6 -254.8 
L 298.2 -254.8 
L 298 -254.8 
L 296.8 -254.8 
L 296 -254.8 
L 295.4 -254.8 
L 294 -254.8 
L 294 -254.8 
L 292.6 -254.8 
L 292 -254.8 
L 291.2 -254.8 
L 290 -254.8 
L 289.8 -254.8 
L 288.4 -254.8 
L 288 -254.8 
L 287 -254.8 
L 286 -254.8 
L 285.6 -254.8 
L 284.2 -254.8 
L 284 -254.8 
L 282.8 -254.8 
L 282 -254.8 
L 281.4 -254.8 
L 280 -254.8 
L 280 -254.8 
L 278.6 -254.8 
L 278 -254.8 
L 277.2 -254.8 
L 276 -254.8 
L 275.8 -254.8 
L 274.4 -254.8 
L 274 -254.8 
L 273 -254.8 
L 272 -254.8 
L 271.6 -254.8 
L 270.2 -254.8 
L 270 -254.8 
L 268.8 -254.8 
L 268 -254.8 
L 267.4 -254.8 
L 266 -254.8 
L 266 -254.8 
L 264.6 -254.8 
L 264 -254.8 
L 263.4 -254.8 
L 263.2 -254.8 
L 262 -254.8 
L 261.8 -254.8 
L 260.7 -254.8 
L 260.4 -254.8 
L 259.4 -254.8 
L 259 -254.8 
L 258 -254.8 
L 257.6 -254.8 
L 256.7 -254.8 
L 256.2 -254.8 
L 254.8 -254.8 
L 254.7 -254.8 
L 254 -254.8 
L 253.4 -254.8 
L 252 -254.8 
L 251.3 -254.8 
L 250.6 -254.8 
L 250 -254.8 
L 249.2 -254.8 
L 248 -254.8 
L 247.8 -254.8 
L 246.6 -254.8 
L 246.4 -254.8 
L 246.3 -254.8 
L 245 -254.8 
L 244.7 -254.8 
L 243.6 -254.8 
L 243.4 -254.8 
L 242.3 -254.8 
L 242.2 -254.8 
L 241.3 -254.8 
L 240.8 -254.8 
L 239.7 -254.8 
L 239.4 -254.8 
L 238 -254.8 
L 237.5 -254.8 
L 236.6 -254.8 
L 236.5 -254.8 
L 235.4 -254.8 
L 235.2 -254.8 
L 233.8 -254.8 
L 233.2 -254.8 
L 232.4 -254.8 
L 231 -254.8 
L 231 -254.8 
L 229.6 -254.8 
L 228.8 -254.8 
L 228.2 -254.8 
L 227.3 -254.8 
L 226.8 -254.8 
L 225.4 -254.8 
L 224.5 -254.8 
L 224 -254.8 
L 222.6 -254.8 
L 221.2 -254.8 
L 221.2 -254.8 
L 219.8 -254.8 
L 219 -254.8 
L 218.4 -254.8 
L 217 -254.8 
L 216.8 -254.8 
L 215.6 -254.8 
L 214.2 -254.8 
L 213.5 -254.8 
L 212.8 -254.8 
L 211.8 -254.8 
L 211.4 -254.8 
L 211.1 -254.8 
L 210.4 -254.8 
L 210 -254.8 
L 209.8 -254.8 
L 209.1 -254.8 
L 208.6 -254.8 
L 208 -254.8 
L 207.2 -254.8 
L 206 -254.8 
L 205.8 -254.8 
L 204.4 -254.8 
L 204 -254.8 
L 203 -254.8 
L 202 -254.8 
L 201.6 -254.8 
L 200.2 -254.8 
L 200 -254.8 
L 198.8 -254.8 
L 198 -254.8 
L 197.4 -254.8 
L 196 -254.8 
L 196 -254.8 
L 194.6 -254.8 
L 194 -254.8 
L 193.2 -254.8 
L 192 -254.8 
L 191.8 -254.8 
L 190.4 -254.8 
L 190 -254.8 
L 189 -254.8 
L 188 -254.8 
L 187.6 -254.8 
L 186.2 -254.8 
L 186 -254.8 
L 184.8 -254.8 
L 184 -254.8 
L 183.4 -254.8 
L 182 -254.8 
L 182 -254.8 
L 180.6 -254.8 
L 180 -254.8 
L 179.2 -254.8 
L 178 -254.8 
L 177.8 -254.8 
L 176.4 -254.8 
L 176 -254.8 
L 175 -254.8 
L 174 -254.8 
L 173.6 -254.8 
L 172.2 -254.8 
L 172 -254.8 
L 170.8 -254.8 
L 170 -254.8 
L 169.4 -254.8 
L 168 -254.8 
L 168 -254.8 
L 166.6 -254.8 
L 166 -254.8 
L 165.2 -254.8 
L 164 -254.8 
L 163.8 -254.8 
L 162.4 -254.8 
L 162 -254.8 
L 161 -254.8 
L 160 -254.8 
L 159.6 -254.8 
L 158.2 -254.8 
L 158 -254.8 
L 156.8 -254.8 
L 156 -254.8 
L 156 -254.8 
L 155.4 -254.8 
L 154 -254.8 
L 154 -254.8 
L 154 -254.8 
L 152.6 -254.8 
L 152 -254.8 
L 152 -254.8 
L 151.2 -254.8 
L 150 -254.8 
L 149.8 -254.8 
L 148.4 -254.8 
L 148 -254.8 
L 147 -254.8 
L 146 -254.8 
L 145.6 -254.8 
L 144.2 -254.8 
L 144 -254.8 
L 142.8 -254.8 
L 142 -254.8 
L 141.4 -254.8 
L 140 -254.8 
L 139 -254.8 
L 138.6 -254.8 
L 137.2 -254.8 
L 137 -254.8 
L 135.8 -254.8 
L 135 -254.8 
L 134.4 -254.8 
L 133 -254.8 
L 133 -254.8 
L 131.6 -254.8 
L 131 -254.8 
L 130.2 -254.8 
L 129 -254.8 
L 128.8 -254.8 
L 127.4 -254.8 
L 127 -254.8 
L 126 -254.8 
L 125 -254.8 
L 124.6 -254.8 
L 123.2 -254.8 
L 123 -254.8 
L 121.8 -254.8 
L 121 -254.8 
L 120.4 -254.8 
L 120 -254.8 
L 119 -254.8 
L 118 -254.8 
L 117.6 -254.8 
L 116.2 -254.8 
L 116 -254.8 
L 114.8 -254.8 
L 114 -254.8 
L 113.4 -254.8 
L 112 -254.8 
L 112 -254.8 
L 110.6 -254.8 
L 110 -254.8 
L 109.2 -254.8 
L 108 -254.8 
L 107.8 -254.8 
L 106.4 -254.8 
L 106 -254.8 
L 105 -254.8 
L 104 -254.8 
L 103.6 -254.8 
L 102.2 -254.8 
L 102 -254.8 
L 100.8 -254.8 
L 100 -254.8 
L 99.4 -254.8 
L 98 -254.8 
L 98 -254.8 
L 96.6 -254.8 
L 96 -254.8 
L 95.2 -254.8 
L 94 -254.8 
L 93.8 -254.8 
L 92.4 -254.8 
L 92 -254.8 
L 91 -254.8 
L 90 -254.8 
L 89.6 -254.8 
L 88.2 -254.8 
L 88 -254.8 
L 86.8 -254.8 
L 86 -254.8 
L 85.4 -254.8 
L 85 -254.8 
L 84 -254.8 
L 83 -254.8 
L 82.6 -254.8 
L 81.2 -254.8 
L 81 -254.8 
L 79.8 -254.8 
L 79 -254.8 
L 78.4 -254.8 
L 77 -254.8 
L 77 -254.8 
L 75.6 -254.8 
L 75 -254.8 
L 74.2 -254.8 
L 72.8 -254.8 
L 72 -254.8 
L 71.4 -254.8 
L 70 -254.8 
L 70 -254.8 
L 68.6 -254.8 
L 68 -254.8 
L 67.2 -254.8 
L 66 -254.8 
L 65.8 -254.8 
L 64.4 -254.8 
L 64 -254.8 
L 63 -254.8 
L 61.6 -254.8 
L 61 -254.8 
L 60.2 -254.8 
L 59 -254.8 
L 58.8 -254.8 
L 57.4 -254.8 
L 56 -254.8 
L 56 -254.8 
L 54.6 -254.8 
L 53.2 -254.8 
L 53 -254.8 
L 51.8 -254.8 
L 50.4 -254.8 
L 50.4 -254.8 
L 50.2 -254.8 
z
" transform="translate(0 410)" style="fill: #adadad"/>
</g>
</g>
<g id="FillBetweenPolyCollection_4">
<g clip-path="url(#pb78dd19eea)">
<path d="M 312.35 -254.8 
L 312.35 -124.53 
L 312.63 -114.55 
L 313.27 -126.63 
L 313.41 -130.24 
L 314.02 -115.60 
L 314.63 -103.41 
L 314.67 -102.33 
L 315 -100.97 
L 315.48 -108.29 
L 316.07 -113.58 
L 316.09 -113.78 
L 317.07 -116.21 
L 317.47 -116.62 
L 318.29 -116.82 
L 318.87 -115.78 
L 319.51 -115.60 
L 320.27 -115.53 
L 320.73 -116.21 
L 321.67 -116.16 
L 321.95 -116.21 
L 322.92 -113.78 
L 323.07 -113.36 
L 323.90 -110.73 
L 324.47 -111.24 
L 324.63 -111.34 
L 325.60 -113.78 
L 325.87 -114.35 
L 326.82 -116.21 
L 327.27 -117.15 
L 328.29 -118.04 
L 328.67 -118.90 
L 330.07 -118.73 
L 330.12 -118.65 
L 331.47 -117.52 
L 331.95 -117.43 
L 332.87 -117.21 
L 333.78 -116.21 
L 334.27 -116.12 
L 335.60 -115 
L 335.67 -115.01 
L 337.07 -115.99 
L 337.07 -115.60 
L 338.29 -114.14 
L 338.47 -114.26 
L 339.51 -111.34 
L 339.87 -110.97 
L 340.73 -109.26 
L 341.27 -110.20 
L 341.95 -113.78 
L 342.67 -113.09 
L 343.17 -116.58 
L 344.07 -114.92 
L 344.39 -116.82 
L 345.47 -113.43 
L 345.60 -113.78 
L 346.58 -108.90 
L 346.87 -107.77 
L 347.56 -106.46 
L 348.27 -108.35 
L 348.53 -109.51 
L 349.67 -114.05 
L 349.75 -115 
L 350.97 -116.82 
L 351.07 -116.21 
L 352.19 -116.21 
L 352.47 -115.26 
L 353.41 -111.95 
L 353.87 -110.30 
L 354.39 -108.90 
L 355.27 -110.94 
L 355.36 -111.95 
L 356.58 -116.21 
L 356.67 -115.47 
L 357.80 -118.29 
L 358.07 -118.30 
L 359.02 -119.87 
L 359.47 -120.72 
L 360.24 -121.46 
L 360.87 -121.47 
L 361.82 -121.95 
L 362.27 -121.65 
L 363.65 -122.92 
L 363.67 -122.54 
L 365.07 -123.72 
L 365.48 -124.14 
L 365.97 -122.80 
L 366.47 -123.28 
L 367.43 -121.82 
L 367.87 -122.70 
L 369.26 -120.60 
L 369.27 -120.49 
L 370.48 -116.95 
L 370.67 -115.30 
L 371.70 -110.85 
L 372.07 -109.08 
L 372.92 -105.97 
L 373.47 -107.75 
L 374.14 -110.85 
L 374.87 -113.96 
L 375.36 -116.95 
L 376.27 -118.48 
L 376.58 -118.78 
L 377.67 -120.48 
L 377.80 -120 
L 379.02 -121.21 
L 379.07 -121.25 
L 380.24 -123.04 
L 380.47 -123.71 
L 380.85 -125.48 
L 381.46 -123.65 
L 381.87 -123.16 
L 382.68 -121.82 
L 383.27 -121.52 
L 384.51 -121.21 
L 384.67 -121.57 
L 386.07 -121.69 
L 386.34 -121.21 
L 387.47 -121.19 
L 388.17 -121.82 
L 388.87 -122.13 
L 390 -122.43 
L 390.27 -123.44 
L 391.67 -123.32 
L 391.82 -123.04 
L 393.07 -123.06 
L 393.65 -124.26 
L 394.47 -124.48 
L 395.48 -126.70 
L 395.87 -127.44 
L 396.95 -130.36 
L 397.27 -131.31 
L 398.17 -135.24 
L 398.67 -135.82 
L 399.14 -137.07 
L 400.07 -135.40 
L 400.12 -135.24 
L 400.97 -130.36 
L 401.47 -127.38 
L 401.58 -126.70 
L 402.80 -125.48 
L 402.87 -125.36 
L 404.02 -121.82 
L 404.27 -122.06 
L 405.24 -120.60 
L 405.67 -120.19 
L 406.46 -118.17 
L 407.07 -116.44 
L 407.68 -114.51 
L 408.47 -111.88 
L 408.90 -110.24 
L 409.87 -112.51 
L 409.87 -112.07 
L 411.09 -115.12 
L 411.27 -115.35 
L 412.56 -116.34 
L 412.67 -115.68 
L 413.78 -115.73 
L 414.07 -114.42 
L 415 -113.29 
L 415.47 -110.69 
L 416.21 -109.02 
L 416.87 -108.26 
L 417.19 -109.63 
L 418.17 -113.29 
L 418.27 -112.33 
L 419.26 -118.17 
L 419.67 -118.48 
L 420.48 -123.04 
L 421.07 -124.36 
L 421.70 -126.70 
L 422.47 -126.94 
L 422.92 -127.31 
L 423.87 -126.23 
L 424.14 -126.70 
L 425 -124.26 
L 425.27 -123.82 
L 426.67 -130.00 
L 427.13 -132.87 
L 428.07 -134.17 
L 429.17 -133.63 
L 429.47 -133.97 
L 430.87 -129.65 
L 430.95 -129.82 
L 432.19 -125 
L 432.27 -123.50 
L 432.80 -120.12 
L 433.41 -115.24 
L 433.67 -113.94 
L 434.63 -112.19 
L 435.07 -111.44 
L 436.46 -110.36 
L 436.47 -109.92 
L 437.87 -110.94 
L 438.04 -111.58 
L 438.90 -113.41 
L 439.27 -113.14 
L 440.12 -114.02 
L 440.67 -113.56 
L 441.34 -112.80 
L 441.95 -110.36 
L 442.07 -110.86 
L 442.56 -108.53 
L 443.47 -106.87 
L 443.78 -105.48 
L 444.87 -104.17 
L 445.60 -103.04 
L 446.27 -102.63 
L 447.43 -102.43 
L 447.67 -102.90 
L 448.65 -104.26 
L 449.07 -105.37 
L 449.87 -106.09 
L 450.47 -105.82 
L 450.48 -105.48 
L 451.09 -102.43 
L 451.87 -102.37 
L 452.31 -101.21 
L 453.27 -103.94 
L 453.53 -103.04 
L 454.67 -109.93 
L 454.75 -109.14 
L 455.97 -111.58 
L 456.07 -112.01 
L 457.47 -112.48 
L 457.80 -113.41 
L 458.87 -113.40 
L 459.63 -114.63 
L 460.27 -114.73 
L 461.46 -116.46 
L 461.67 -115.66 
L 462.68 -115.24 
L 463.07 -113.78 
L 463.90 -111.58 
L 464.47 -109.76 
L 465.12 -107.92 
L 465.87 -105.79 
L 466.34 -105.48 
L 467.27 -104.31 
L 467.56 -104.87 
L 468.67 -106.50 
L 468.78 -106.70 
L 470 -110.36 
L 470.07 -110.83 
L 471.21 -113.41 
L 471.47 -113.81 
L 472.43 -114.63 
L 472.87 -114.47 
L 473.65 -113.41 
L 474.27 -112.39 
L 474.87 -110.97 
L 475.67 -108.76 
L 476.09 -107.92 
L 477.07 -104.31 
L 477.31 -103.65 
L 478.47 -100.86 
L 478.53 -100.60 
L 479.75 -100 
L 479.87 -101.02 
L 480.43 -104.63 
L 481.27 -105.17 
L 482.67 -106.09 
L 482.87 -106.46 
L 484.07 -106.78 
L 484.70 -107.68 
L 485.47 -106.10 
L 485.92 -107.07 
L 486.87 -103.35 
L 487.14 -104.02 
L 488.27 -100.31 
L 488.36 -101.58 
L 489.67 -99.80 
L 490.19 -100.36 
L 491.07 -101.90 
L 491.41 -102.19 
L 492.47 -103.54 
L 492.63 -103.41 
L 493.85 -102.80 
L 493.87 -102.57 
L 495.07 -97.92 
L 495.27 -96.75 
L 496.29 -91.82 
L 496.67 -90.35 
L 497.51 -86.95 
L 498.07 -87.09 
L 498.73 -85.73 
L 499.47 -87.33 
L 500.87 -88.14 
L 501.17 -86.95 
L 502.27 -90.43 
L 502.39 -89.39 
L 503.60 -93.04 
L 503.67 -94.01 
L 504.82 -99.14 
L 505.07 -100.64 
L 506.04 -104.02 
L 506.47 -105.58 
L 507.26 -106.46 
L 507.87 -107.32 
L 508.48 -107.68 
L 509.27 -107.52 
L 509.46 -107.07 
L 510.31 -104.02 
L 510.67 -102.50 
L 510.92 -99.14 
L 511.53 -96.70 
L 512.07 -96.72 
L 513.36 -90.60 
L 513.47 -91.76 
L 514.58 -83.29 
L 514.87 -83.70 
L 515.80 -77.19 
L 516.27 -78.37 
L 517.02 -78.41 
L 517.67 -78.71 
L 518.24 -79.63 
L 519.07 -81.24 
L 519.46 -82.07 
L 520.47 -81.40 
L 520.68 -80.85 
L 521.87 -82.57 
L 521.90 -82.07 
L 523.12 -78.41 
L 523.27 -78.14 
L 524.34 -73.53 
L 524.67 -72.99 
L 525.56 -71.09 
L 526.07 -70.80 
L 526.78 -70.48 
L 527.47 -69.29 
L 528 -69.87 
L 528.87 -70.33 
L 529.21 -72.31 
L 530.27 -73.21 
L 530.43 -74.14 
L 531.65 -71.09 
L 531.67 -71.25 
L 532.87 -70.48 
L 533.07 -70.95 
L 534.09 -71.09 
L 534.47 -71.36 
L 535.5 -72.31 
L 535.5 -254.8 
L 535.5 -254.8 
L 534.47 -254.8 
L 534.09 -254.8 
L 533.07 -254.8 
L 532.87 -254.8 
L 531.67 -254.8 
L 531.65 -254.8 
L 530.43 -254.8 
L 530.27 -254.8 
L 529.21 -254.8 
L 528.87 -254.8 
L 528 -254.8 
L 527.47 -254.8 
L 526.78 -254.8 
L 526.07 -254.8 
L 525.56 -254.8 
L 524.67 -254.8 
L 524.34 -254.8 
L 523.27 -254.8 
L 523.12 -254.8 
L 521.90 -254.8 
L 521.87 -254.8 
L 520.68 -254.8 
L 520.47 -254.8 
L 519.46 -254.8 
L 519.07 -254.8 
L 518.24 -254.8 
L 517.67 -254.8 
L 517.02 -254.8 
L 516.27 -254.8 
L 515.80 -254.8 
L 514.87 -254.8 
L 514.58 -254.8 
L 513.47 -254.8 
L 513.36 -254.8 
L 512.07 -254.8 
L 511.53 -254.8 
L 510.92 -254.8 
L 510.67 -254.8 
L 510.31 -254.8 
L 509.46 -254.8 
L 509.27 -254.8 
L 508.48 -254.8 
L 507.87 -254.8 
L 507.26 -254.8 
L 506.47 -254.8 
L 506.04 -254.8 
L 505.07 -254.8 
L 504.82 -254.8 
L 503.67 -254.8 
L 503.60 -254.8 
L 502.39 -254.8 
L 502.27 -254.8 
L 501.17 -254.8 
L 500.87 -254.8 
L 499.47 -254.8 
L 498.73 -254.8 
L 498.07 -254.8 
L 497.51 -254.8 
L 496.67 -254.8 
L 496.29 -254.8 
L 495.27 -254.8 
L 495.07 -254.8 
L 493.87 -254.8 
L 493.85 -254.8 
L 492.63 -254.8 
L 492.47 -254.8 
L 491.41 -254.8 
L 491.07 -254.8 
L 490.19 -254.8 
L 489.67 -254.8 
L 488.36 -254.8 
L 488.27 -254.8 
L 487.14 -254.8 
L 486.87 -254.8 
L 485.92 -254.8 
L 485.47 -254.8 
L 484.70 -254.8 
L 484.07 -254.8 
L 482.87 -254.8 
L 482.67 -254.8 
L 481.27 -254.8 
L 480.43 -254.8 
L 479.87 -254.8 
L 479.75 -254.8 
L 478.53 -254.8 
L 478.47 -254.8 
L 477.31 -254.8 
L 477.07 -254.8 
L 476.09 -254.8 
L 475.67 -254.8 
L 474.87 -254.8 
L 474.27 -254.8 
L 473.65 -254.8 
L 472.87 -254.8 
L 472.43 -254.8 
L 471.47 -254.8 
L 471.21 -254.8 
L 470.07 -254.8 
L 470 -254.8 
L 468.78 -254.8 
L 468.67 -254.8 
L 467.56 -254.8 
L 467.27 -254.8 
L 466.34 -254.8 
L 465.87 -254.8 
L 465.12 -254.8 
L 464.47 -254.8 
L 463.90 -254.8 
L 463.07 -254.8 
L 462.68 -254.8 
L 461.67 -254.8 
L 461.46 -254.8 
L 460.27 -254.8 
L 459.63 -254.8 
L 458.87 -254.8 
L 457.80 -254.8 
L 457.47 -254.8 
L 456.07 -254.8 
L 455.97 -254.8 
L 454.75 -254.8 
L 454.67 -254.8 
L 453.53 -254.8 
L 453.27 -254.8 
L 452.31 -254.8 
L 451.87 -254.8 
L 451.09 -254.8 
L 450.48 -254.8 
L 450.47 -254.8 
L 449.87 -254.8 
L 449.07 -254.8 
L 448.65 -254.8 
L 447.67 -254.8 
L 447.43 -254.8 
L 446.27 -254.8 
L 445.60 -254.8 
L 444.87 -254.8 
L 443.78 -254.8 
L 443.47 -254.8 
L 442.56 -254.8 
L 442.07 -254.8 
L 441.95 -254.8 
L 441.34 -254.8 
L 440.67 -254.8 
L 440.12 -254.8 
L 439.27 -254.8 
L 438.90 -254.8 
L 438.04 -254.8 
L 437.87 -254.8 
L 436.47 -254.8 
L 436.46 -254.8 
L 435.07 -254.8 
L 434.63 -254.8 
L 433.67 -254.8 
L 433.41 -254.8 
L 432.80 -254.8 
L 432.27 -254.8 
L 432.19 -254.8 
L 430.95 -254.8 
L 430.87 -254.8 
L 429.47 -254.8 
L 429.17 -254.8 
L 428.07 -254.8 
L 427.13 -254.8 
L 426.67 -254.8 
L 425.27 -254.8 
L 425 -254.8 
L 424.14 -254.8 
L 423.87 -254.8 
L 422.92 -254.8 
L 422.47 -254.8 
L 421.70 -254.8 
L 421.07 -254.8 
L 420.48 -254.8 
L 419.67 -254.8 
L 419.26 -254.8 
L 418.27 -254.8 
L 418.17 -254.8 
L 417.19 -254.8 
L 416.87 -254.8 
L 416.21 -254.8 
L 415.47 -254.8 
L 415 -254.8 
L 414.07 -254.8 
L 413.78 -254.8 
L 412.67 -254.8 
L 412.56 -254.8 
L 411.27 -254.8 
L 411.09 -254.8 
L 409.87 -254.8 
L 409.87 -254.8 
L 408.90 -254.8 
L 408.47 -254.8 
L 407.68 -254.8 
L 407.07 -254.8 
L 406.46 -254.8 
L 405.67 -254.8 
L 405.24 -254.8 
L 404.27 -254.8 
L 404.02 -254.8 
L 402.87 -254.8 
L 402.80 -254.8 
L 401.58 -254.8 
L 401.47 -254.8 
L 400.97 -254.8 
L 400.12 -254.8 
L 400.07 -254.8 
L 399.14 -254.8 
L 398.67 -254.8 
L 398.17 -254.8 
L 397.27 -254.8 
L 396.95 -254.8 
L 395.87 -254.8 
L 395.48 -254.8 
L 394.47 -254.8 
L 393.65 -254.8 
L 393.07 -254.8 
L 391.82 -254.8 
L 391.67 -254.8 
L 390.27 -254.8 
L 390 -254.8 
L 388.87 -254.8 
L 388.17 -254.8 
L 387.47 -254.8 
L 386.34 -254.8 
L 386.07 -254.8 
L 384.67 -254.8 
L 384.51 -254.8 
L 383.27 -254.8 
L 382.68 -254.8 
L 381.87 -254.8 
L 381.46 -254.8 
L 380.85 -254.8 
L 380.47 -254.8 
L 380.24 -254.8 
L 379.07 -254.8 
L 379.02 -254.8 
L 377.80 -254.8 
L 377.67 -254.8 
L 376.58 -254.8 
L 376.27 -254.8 
L 375.36 -254.8 
L 374.87 -254.8 
L 374.14 -254.8 
L 373.47 -254.8 
L 372.92 -254.8 
L 372.07 -254.8 
L 371.70 -254.8 
L 370.67 -254.8 
L 370.48 -254.8 
L 369.27 -254.8 
L 369.26 -254.8 
L 367.87 -254.8 
L 367.43 -254.8 
L 366.47 -254.8 
L 365.97 -254.8 
L 365.48 -254.8 
L 365.07 -254.8 
L 363.67 -254.8 
L 363.65 -254.8 
L 362.27 -254.8 
L 361.82 -254.8 
L 360.87 -254.8 
L 360.24 -254.8 
L 359.47 -254.8 
L 359.02 -254.8 
L 358.07 -254.8 
L 357.80 -254.8 
L 356.67 -254.8 
L 356.58 -254.8 
L 355.36 -254.8 
L 355.27 -254.8 
L 354.39 -254.8 
L 353.87 -254.8 
L 353.41 -254.8 
L 352.47 -254.8 
L 352.19 -254.8 
L 351.07 -254.8 
L 350.97 -254.8 
L 349.75 -254.8 
L 349.67 -254.8 
L 348.53 -254.8 
L 348.27 -254.8 
L 347.56 -254.8 
L 346.87 -254.8 
L 346.58 -254.8 
L 345.60 -254.8 
L 345.47 -254.8 
L 344.39 -254.8 
L 344.07 -254.8 
L 343.17 -254.8 
L 342.67 -254.8 
L 341.95 -254.8 
L 341.27 -254.8 
L 340.73 -254.8 
L 339.87 -254.8 
L 339.51 -254.8 
L 338.47 -254.8 
L 338.29 -254.8 
L 337.07 -254.8 
L 337.07 -254.8 
L 335.67 -254.8 
L 335.60 -254.8 
L 334.27 -254.8 
L 333.78 -254.8 
L 332.87 -254.8 
L 331.95 -254.8 
L 331.47 -254.8 
L 330.12 -254.8 
L 330.07 -254.8 
L 328.67 -254.8 
L 328.29 -254.8 
L 327.27 -254.8 
L 326.82 -254.8 
L 325.87 -254.8 
L 325.60 -254.8 
L 324.63 -254.8 
L 324.47 -254.8 
L 323.90 -254.8 
L 323.07 -254.8 
L 322.92 -254.8 
L 321.95 -254.8 
L 321.67 -254.8 
L 320.73 -254.8 
L 320.27 -254.8 
L 319.51 -254.8 
L 318.87 -254.8 
L 318.29 -254.8 
L 317.47 -254.8 
L 317.07 -254.8 
L 316.09 -254.8 
L 316.07 -254.8 
L 315.48 -254.8 
L 315 -254.8 
L 314.67 -254.8 
L 314.63 -254.8 
L 314.02 -254.8 
L 313.41 -254.8 
L 313.27 -254.8 
L 312.63 -254.8 
L 312.35 -254.8 
z
" transform="translate(0 410)" style="fill: #c0b96a"/>
</g>
</g>
<g id="FillBetweenPolyCollection_5">
<g clip-path="url(#pb78dd19eea)">
<path d="M 50.2 -254.8 
L 50.2 -189.07 
L 50.4 -189.07 
L 50.4 -189.6 
L 51.7 -184.8 
L 51.8 -184.32 
L 53.2 -182.35 
L 53.5 -181.1 
L 54.6 -180.34 
L 55.3 -178.7 
L 56 -181.05 
L 56.5 -183.5 
L 57.4 -184.99 
L 58.4 -188.4 
L 58.8 -188.23 
L 59.6 -189 
L 60.2 -187.88 
L 60.8 -187.8 
L 61.6 -186.51 
L 62 -187.2 
L 63 -186.82 
L 63.9 -188.4 
L 64.4 -188.06 
L 65.7 -189.6 
L 65.8 -189.17 
L 67.2 -189.70 
L 67.5 -190.2 
L 68.6 -190.66 
L 69.3 -190.9 
L 70 -189.90 
L 71.2 -189 
L 71.4 -188.49 
L 72.4 -190.9 
L 72.8 -189.93 
L 74.2 -190.26 
L 74.2 -192.1 
L 75.6 -191.92 
L 76 -193.3 
L 77 -194.99 
L 77.9 -195.1 
L 78.4 -196.37 
L 79.7 -195.7 
L 79.8 -196.02 
L 81.2 -196.06 
L 81.5 -195.7 
L 82.6 -194.37 
L 83.4 -193.3 
L 84 -192.89 
L 85.2 -192.1 
L 85.4 -193.66 
L 86.8 -195.38 
L 87 -193.9 
L 88 -197 
L 88.2 -197.41 
L 89.6 -196.56 
L 90 -196.5 
L 91 -196.22 
L 92 -195.7 
L 92.4 -195.26 
L 93.8 -193.32 
L 94 -192 
L 95.2 -189.61 
L 96 -186 
L 96.6 -185.41 
L 97.8 -181.7 
L 98 -183.30 
L 99.4 -186.64 
L 99.6 -186 
L 100.8 -189.87 
L 101.4 -191.5 
L 102.2 -192.59 
L 103.2 -194.5 
L 103.6 -195.52 
L 104.5 -197.6 
L 105 -199.10 
L 106.3 -200.6 
L 106.4 -201.79 
L 107.5 -203 
L 107.8 -204.37 
L 109.2 -205.56 
L 109.3 -204.9 
L 110.6 -209.18 
L 112 -213.30 
L 112 -213 
L 113.4 -213.26 
L 114.8 -212.78 
L 116 -214 
L 116.2 -213.05 
L 117.6 -213.56 
L 119 -213.16 
L 120 -213 
L 120.4 -212.59 
L 121.8 -212.57 
L 123.2 -212.41 
L 124 -211 
L 124.6 -211.18 
L 126 -209.71 
L 127.4 -209.10 
L 128 -209 
L 128.8 -209.46 
L 130 -210 
L 130.2 -210.20 
L 131.6 -212.60 
L 132 -214 
L 133 -215.32 
L 134.4 -217.93 
L 135.8 -219.46 
L 136 -218 
L 137.2 -221.26 
L 138.6 -222.65 
L 140 -221.89 
L 140 -221 
L 141.4 -219.87 
L 142.8 -219.99 
L 143 -220 
L 144.2 -219.77 
L 145.6 -217.97 
L 146 -217 
L 147 -215.05 
L 148 -214 
L 148.4 -212.88 
L 149.8 -210.93 
L 151 -209 
L 151.2 -208.60 
L 152 -207 
L 152.6 -205.85 
L 154 -203.33 
L 154 -204 
L 154 -204 
L 155.4 -200.56 
L 156 -200 
L 156.8 -200.81 
L 157 -201 
L 158 -207 
L 158.2 -207.90 
L 159.6 -211.21 
L 160 -212 
L 161 -212.42 
L 162 -213 
L 162.4 -212.13 
L 163.8 -209.87 
L 164 -209 
L 165.2 -211.26 
L 166 -212 
L 166.6 -211.84 
L 168 -210.28 
L 168 -210 
L 169.4 -209.62 
L 170 -211 
L 170.8 -207.34 
L 172 -205 
L 172.2 -204.30 
L 173.6 -202.16 
L 174 -202 
L 175 -201.82 
L 176 -201 
L 176.4 -202.57 
L 177.8 -202.55 
L 178 -202 
L 179.2 -200.13 
L 180 -199 
L 180.6 -199.59 
L 182 -200.70 
L 182 -200 
L 183.4 -199.13 
L 184 -198 
L 184.8 -196.63 
L 186 -195 
L 186.2 -194.44 
L 187.6 -196.04 
L 189 -197.44 
L 189 -198 
L 190.4 -195.15 
L 191 -195 
L 191.8 -192.59 
L 193 -189 
L 193.2 -188.94 
L 194.6 -181.73 
L 195 -179 
L 196 -175.23 
L 196.3 -175 
L 197.4 -171.73 
L 198 -172 
L 198.8 -170.12 
L 200.2 -168.99 
L 200.4 -169.5 
L 201.6 -166.72 
L 203 -164.11 
L 203 -164.2 
L 204.4 -161.05 
L 205.8 -157.80 
L 207 -154.8 
L 207.2 -153.79 
L 208.6 -149.08 
L 209.8 -146.7 
L 210 -145.66 
L 211.4 -144.64 
L 212.4 -143.3 
L 212.8 -142.86 
L 214.2 -138.90 
L 215.1 -136.6 
L 215.6 -133.28 
L 216.5 -129.9 
L 217 -123.51 
L 217.1 -123.2 
L 217.8 -116.5 
L 218.4 -114.09 
L 218.5 -113.8 
L 219.8 -118.32 
L 219.8 -117.8 
L 221.2 -119.07 
L 221.8 -118.5 
L 222.6 -119.69 
L 223.8 -121.2 
L 224 -121.05 
L 225.4 -123.19 
L 226.5 -124.5 
L 226.8 -124.54 
L 227.9 -123.2 
L 228.2 -121.36 
L 228.5 -119.2 
L 229.6 -112.97 
L 229.6 -112.5 
L 230.5 -105.7 
L 231 -104.80 
L 231.9 -100.4 
L 232.4 -99.19 
L 233.2 -95 
L 233.4 -87.1 
L 233.8 -89.17 
L 235.2 -94.95 
L 235.2 -95 
L 236.6 -97.09 
L 237.9 -99 
L 238 -98.81 
L 239.3 -104.4 
L 239.4 -103.82 
L 240.6 -109.8 
L 240.8 -110.74 
L 241.9 -116.5 
L 242.2 -119.76 
L 242.6 -123.2 
L 243.3 -129.9 
L 243.6 -133.31 
L 243.9 -136.6 
L 244.6 -143.3 
L 245 -147.37 
L 245.3 -150 
L 246.4 -151.68 
L 247.8 -152.19 
L 248 -153 
L 249.2 -155.32 
L 250 -159 
L 250.6 -160.41 
L 252 -165.51 
L 252 -165 
L 253.4 -171.19 
L 254 -173 
L 254.8 -175.89 
L 256 -179 
L 256.2 -180.38 
L 257.6 -182.85 
L 258 -183 
L 258 -185 
L 259 -185.16 
L 260.4 -185.63 
L 261 -186 
L 261.8 -183.96 
L 263 -183 
L 263.2 -181.48 
L 264.6 -180.62 
L 266 -179.00 
L 266 -180 
L 267.4 -177.78 
L 268.8 -177.84 
L 269 -178 
L 270.2 -178.22 
L 271 -177 
L 271.6 -177.77 
L 273 -176.27 
L 274 -176 
L 274.4 -175.41 
L 275.8 -177.96 
L 276 -179 
L 277.2 -181.93 
L 278 -183 
L 278.6 -185.14 
L 280 -187.47 
L 281 -189 
L 281.4 -189.63 
L 282.8 -191.67 
L 283 -192 
L 284.2 -193.64 
L 285 -195 
L 285.6 -194.84 
L 287 -195.10 
L 287 -195 
L 288.4 -189.45 
L 289 -187 
L 289.8 -183.71 
L 290 -183 
L 291.2 -184.03 
L 292 -185 
L 292.6 -185.06 
L 294 -186.54 
L 294 -188 
L 295.4 -187.76 
L 296 -189 
L 296.8 -188.49 
L 298.2 -187.67 
L 299 -186 
L 299.6 -185.05 
L 300 -183 
L 301 -183.47 
L 302 -181 
L 302 -181 
L 302.4 -181.37 
L 303.8 -177.09 
L 304 -177 
L 304 -177 
L 305.2 -174.56 
L 306 -174 
L 306.6 -174.09 
L 308 -174.18 
L 308 -173 
L 309.4 -173.03 
L 310 -172 
L 312.35 -172 
L 312.35 -254.8 
L 312.35 -254.8 
L 310 -254.8 
L 309.4 -254.8 
L 308 -254.8 
L 308 -254.8 
L 306.6 -254.8 
L 306 -254.8 
L 305.2 -254.8 
L 304 -254.8 
L 304 -254.8 
L 303.8 -254.8 
L 302.4 -254.8 
L 302 -254.8 
L 302 -254.8 
L 301 -254.8 
L 300 -254.8 
L 299.6 -254.8 
L 299 -254.8 
L 298.2 -254.8 
L 296.8 -254.8 
L 296 -254.8 
L 295.4 -254.8 
L 294 -254.8 
L 294 -254.8 
L 292.6 -254.8 
L 292 -254.8 
L 291.2 -254.8 
L 290 -254.8 
L 289.8 -254.8 
L 289 -254.8 
L 288.4 -254.8 
L 287 -254.8 
L 287 -254.8 
L 285.6 -254.8 
L 285 -254.8 
L 284.2 -254.8 
L 283 -254.8 
L 282.8 -254.8 
L 281.4 -254.8 
L 281 -254.8 
L 280 -254.8 
L 278.6 -254.8 
L 278 -254.8 
L 277.2 -254.8 
L 276 -254.8 
L 275.8 -254.8 
L 274.4 -254.8 
L 274 -254.8 
L 273 -254.8 
L 271.6 -254.8 
L 271 -254.8 
L 270.2 -254.8 
L 269 -254.8 
L 268.8 -254.8 
L 267.4 -254.8 
L 266 -254.8 
L 266 -254.8 
L 264.6 -254.8 
L 263.2 -254.8 
L 263 -254.8 
L 261.8 -254.8 
L 261 -254.8 
L 260.4 -254.8 
L 259 -254.8 
L 258 -254.8 
L 258 -254.8 
L 257.6 -254.8 
L 256.2 -254.8 
L 256 -254.8 
L 254.8 -254.8 
L 254 -254.8 
L 253.4 -254.8 
L 252 -254.8 
L 252 -254.8 
L 250.6 -254.8 
L 250 -254.8 
L 249.2 -254.8 
L 248 -254.8 
L 247.8 -254.8 
L 246.4 -254.8 
L 245.3 -254.8 
L 245 -254.8 
L 244.6 -254.8 
L 243.9 -254.8 
L 243.6 -254.8 
L 243.3 -254.8 
L 242.6 -254.8 
L 242.2 -254.8 
L 241.9 -254.8 
L 240.8 -254.8 
L 240.6 -254.8 
L 239.4 -254.8 
L 239.3 -254.8 
L 238 -254.8 
L 237.9 -254.8 
L 236.6 -254.8 
L 235.2 -254.8 
L 235.2 -254.8 
L 233.8 -254.8 
L 233.4 -254.8 
L 233.2 -254.8 
L 232.4 -254.8 
L 231.9 -254.8 
L 231 -254.8 
L 230.5 -254.8 
L 229.6 -254.8 
L 229.6 -254.8 
L 228.5 -254.8 
L 228.2 -254.8 
L 227.9 -254.8 
L 226.8 -254.8 
L 226.5 -254.8 
L 225.4 -254.8 
L 224 -254.8 
L 223.8 -254.8 
L 222.6 -254.8 
L 221.8 -254.8 
L 221.2 -254.8 
L 219.8 -254.8 
L 219.8 -254.8 
L 218.5 -254.8 
L 218.4 -254.8 
L 217.8 -254.8 
L 217.1 -254.8 
L 217 -254.8 
L 216.5 -254.8 
L 215.6 -254.8 
L 215.1 -254.8 
L 214.2 -254.8 
L 212.8 -254.8 
L 212.4 -254.8 
L 211.4 -254.8 
L 210 -254.8 
L 209.8 -254.8 
L 208.6 -254.8 
L 207.2 -254.8 
L 207 -254.8 
L 205.8 -254.8 
L 204.4 -254.8 
L 203 -254.8 
L 203 -254.8 
L 201.6 -254.8 
L 200.4 -254.8 
L 200.2 -254.8 
L 198.8 -254.8 
L 198 -254.8 
L 197.4 -254.8 
L 196.3 -254.8 
L 196 -254.8 
L 195 -254.8 
L 194.6 -254.8 
L 193.2 -254.8 
L 193 -254.8 
L 191.8 -254.8 
L 191 -254.8 
L 190.4 -254.8 
L 189 -254.8 
L 189 -254.8 
L 187.6 -254.8 
L 186.2 -254.8 
L 186 -254.8 
L 184.8 -254.8 
L 184 -254.8 
L 183.4 -254.8 
L 182 -254.8 
L 182 -254.8 
L 180.6 -254.8 
L 180 -254.8 
L 179.2 -254.8 
L 178 -254.8 
L 177.8 -254.8 
L 176.4 -254.8 
L 176 -254.8 
L 175 -254.8 
L 174 -254.8 
L 173.6 -254.8 
L 172.2 -254.8 
L 172 -254.8 
L 170.8 -254.8 
L 170 -254.8 
L 169.4 -254.8 
L 168 -254.8 
L 168 -254.8 
L 166.6 -254.8 
L 166 -254.8 
L 165.2 -254.8 
L 164 -254.8 
L 163.8 -254.8 
L 162.4 -254.8 
L 162 -254.8 
L 161 -254.8 
L 160 -254.8 
L 159.6 -254.8 
L 158.2 -254.8 
L 158 -254.8 
L 157 -254.8 
L 156.8 -254.8 
L 156 -254.8 
L 155.4 -254.8 
L 154 -254.8 
L 154 -254.8 
L 154 -254.8 
L 152.6 -254.8 
L 152 -254.8 
L 151.2 -254.8 
L 151 -254.8 
L 149.8 -254.8 
L 148.4 -254.8 
L 148 -254.8 
L 147 -254.8 
L 146 -254.8 
L 145.6 -254.8 
L 144.2 -254.8 
L 143 -254.8 
L 142.8 -254.8 
L 141.4 -254.8 
L 140 -254.8 
L 140 -254.8 
L 138.6 -254.8 
L 137.2 -254.8 
L 136 -254.8 
L 135.8 -254.8 
L 134.4 -254.8 
L 133 -254.8 
L 132 -254.8 
L 131.6 -254.8 
L 130.2 -254.8 
L 130 -254.8 
L 128.8 -254.8 
L 128 -254.8 
L 127.4 -254.8 
L 126 -254.8 
L 124.6 -254.8 
L 124 -254.8 
L 123.2 -254.8 
L 121.8 -254.8 
L 120.4 -254.8 
L 120 -254.8 
L 119 -254.8 
L 117.6 -254.8 
L 116.2 -254.8 
L 116 -254.8 
L 114.8 -254.8 
L 113.4 -254.8 
L 112 -254.8 
L 112 -254.8 
L 110.6 -254.8 
L 109.3 -254.8 
L 109.2 -254.8 
L 107.8 -254.8 
L 107.5 -254.8 
L 106.4 -254.8 
L 106.3 -254.8 
L 105 -254.8 
L 104.5 -254.8 
L 103.6 -254.8 
L 103.2 -254.8 
L 102.2 -254.8 
L 101.4 -254.8 
L 100.8 -254.8 
L 99.6 -254.8 
L 99.4 -254.8 
L 98 -254.8 
L 97.8 -254.8 
L 96.6 -254.8 
L 96 -254.8 
L 95.2 -254.8 
L 94 -254.8 
L 93.8 -254.8 
L 92.4 -254.8 
L 92 -254.8 
L 91 -254.8 
L 90 -254.8 
L 89.6 -254.8 
L 88.2 -254.8 
L 88 -254.8 
L 87 -254.8 
L 86.8 -254.8 
L 85.4 -254.8 
L 85.2 -254.8 
L 84 -254.8 
L 83.4 -254.8 
L 82.6 -254.8 
L 81.5 -254.8 
L 81.2 -254.8 
L 79.8 -254.8 
L 79.7 -254.8 
L 78.4 -254.8 
L 77.9 -254.8 
L 77 -254.8 
L 76 -254.8 
L 75.6 -254.8 
L 74.2 -254.8 
L 74.2 -254.8 
L 72.8 -254.8 
L 72.4 -254.8 
L 71.4 -254.8 
L 71.2 -254.8 
L 70 -254.8 
L 69.3 -254.8 
L 68.6 -254.8 
L 67.5 -254.8 
L 67.2 -254.8 
L 65.8 -254.8 
L 65.7 -254.8 
L 64.4 -254.8 
L 63.9 -254.8 
L 63 -254.8 
L 62 -254.8 
L 61.6 -254.8 
L 60.8 -254.8 
L 60.2 -254.8 
L 59.6 -254.8 
L 58.8 -254.8 
L 58.4 -254.8 
L 57.4 -254.8 
L 56.5 -254.8 
L 56 -254.8 
L 55.3 -254.8 
L 54.6 -254.8 
L 53.5 -254.8 
L 53.2 -254.8 
L 51.8 -254.8 
L 51.7 -254.8 
L 50.4 -254.8 
L 50.4 -254.8 
L 50.2 -254.8 
z
" transform="translate(0 410)" style="fill: #6c8297"/>
</g>
</g>
<g id="FillBetweenPolyCollection_6">
<g clip-path="url(#pb78dd19eea)">
<path d="M 50.2 -254.8 
L 50.2 -210.90 
L 50.4 -210.90 
L 50.4 -211 
L 51.8 -208.74 
L 53 -207 
L 53.2 -207.09 
L 54.6 -205.75 
L 55 -204.5 
L 56 -206.67 
L 56.5 -206.5 
L 57.4 -208.11 
L 58 -208 
L 58.8 -207.65 
L 60 -207.5 
L 60.2 -206.75 
L 61.6 -207.04 
L 63 -206.87 
L 63 -206.5 
L 64.4 -206.05 
L 65.8 -205.64 
L 66 -206 
L 67.2 -206.50 
L 68.6 -207.40 
L 69 -207 
L 70 -207.83 
L 71.4 -208.79 
L 71.8 -209.1 
L 72.8 -212.91 
L 73 -212.8 
L 74.2 -216.44 
L 74.2 -215.2 
L 75.4 -214 
L 75.6 -216.23 
L 76.7 -217.7 
L 77 -220.19 
L 77.9 -220.1 
L 78.4 -222.45 
L 79.1 -222 
L 79.8 -222.52 
L 80 -221.3 
L 80.9 -217.7 
L 81.2 -217.52 
L 82.1 -214 
L 82.6 -213.70 
L 83.4 -212.8 
L 84 -212.98 
L 84.6 -213.4 
L 85.4 -214.62 
L 85.8 -214 
L 86.8 -214.72 
L 87 -212.8 
L 88 -212 
L 88.2 -213.22 
L 89.6 -213.22 
L 91 -214.40 
L 91 -214 
L 92.4 -214.56 
L 93.8 -214.10 
L 94 -213 
L 95.2 -212.17 
L 96 -210 
L 96.6 -209.33 
L 97.6 -207 
L 98 -206.56 
L 99 -206 
L 99.4 -207.37 
L 100 -209 
L 100.8 -213.79 
L 101 -215 
L 102 -218 
L 102.2 -217.79 
L 103.6 -219.23 
L 104 -219.4 
L 105 -223.40 
L 106 -227 
L 106.4 -228.54 
L 107.8 -234.49 
L 108 -235 
L 109 -239 
L 109.2 -239.79 
L 110.6 -239.71 
L 111 -240 
L 112 -238.12 
L 113 -237 
L 113.4 -237.66 
L 114.8 -238.71 
L 115 -239 
L 116.2 -239.46 
L 117 -240 
L 117.6 -239.34 
L 119 -237.43 
L 120 -238 
L 120.4 -237.20 
L 121.8 -238.01 
L 123.2 -237.34 
L 124 -237 
L 124.6 -236.28 
L 126 -235.40 
L 127 -235 
L 127.4 -234.66 
L 128.8 -234.63 
L 129 -235 
L 130.2 -235.98 
L 131 -238 
L 131.6 -238.03 
L 133 -240.91 
L 133 -241 
L 134.4 -242.61 
L 135 -243 
L 135.8 -243.17 
L 137 -243 
L 137.2 -243.28 
L 138.6 -242.78 
L 140 -241.76 
L 140 -241 
L 141.4 -240.08 
L 142.8 -238.30 
L 143 -239 
L 144.2 -237.24 
L 145.6 -237.08 
L 146 -236 
L 147 -235.17 
L 148 -233 
L 148.4 -233.24 
L 149.8 -233.24 
L 150 -232 
L 150 -235 
L 151.2 -234.70 
L 152 -233 
L 152.6 -234.02 
L 153 -235 
L 154 -234.06 
L 155.4 -234.30 
L 156 -235 
L 156 -235 
L 156.8 -234.67 
L 158.2 -234.22 
L 159 -233.4 
L 159.6 -233.12 
L 161 -232.42 
L 162 -233 
L 162.4 -232.49 
L 163.8 -231.40 
L 165 -230 
L 165.2 -230.11 
L 166.6 -231.62 
L 167 -232 
L 168 -232.48 
L 169 -232 
L 169.4 -231.53 
L 170 -229 
L 170.8 -227.47 
L 172 -224 
L 172.2 -223.85 
L 173.6 -222.70 
L 175 -222.26 
L 175 -223 
L 176.4 -224.01 
L 177 -225 
L 177.8 -223.90 
L 179 -223 
L 179.2 -222.75 
L 180.6 -223.00 
L 182 -223.51 
L 182 -224 
L 183.4 -221.23 
L 184 -220 
L 184.8 -219.49 
L 186.2 -217.93 
L 187.6 -217.01 
L 188 -215 
L 189 -216.06 
L 190.4 -214.26 
L 191.8 -212.73 
L 192 -212 
L 193.2 -210.29 
L 194.6 -208.25 
L 195 -209 
L 196 -207.01 
L 197.4 -204.76 
L 198 -203 
L 198.8 -201.31 
L 200.2 -198.29 
L 201 -197 
L 201.6 -195.81 
L 203 -192.96 
L 203 -193 
L 203.7 -195 
L 204.4 -193.53 
L 205.7 -192.3 
L 205.8 -192.06 
L 207.2 -192.39 
L 208.4 -191.6 
L 208.6 -191.57 
L 209.8 -189 
L 210 -188.59 
L 211.1 -184.3 
L 211.4 -183.59 
L 212.4 -178.9 
L 212.8 -177.77 
L 213.8 -173.5 
L 214.2 -172.01 
L 215.1 -168.2 
L 215.6 -165.88 
L 216.5 -162.8 
L 217 -160.32 
L 217.8 -157.5 
L 218.4 -155.67 
L 219.1 -153.4 
L 219.8 -154.46 
L 220.5 -154.8 
L 221.2 -159.25 
L 221.8 -161.5 
L 222.6 -164.39 
L 223.8 -164.8 
L 224 -165.49 
L 225.4 -161.80 
L 225.8 -160.1 
L 226.8 -162.30 
L 227.9 -162.8 
L 228.2 -164.70 
L 229.2 -168.2 
L 229.6 -169.38 
L 230.5 -170.2 
L 231 -168.38 
L 231.9 -164.2 
L 232.4 -160.63 
L 233.2 -154.8 
L 233.8 -149.91 
L 234.6 -144 
L 235.2 -140.14 
L 235.2 -140 
L 236.6 -138.52 
L 237.6 -136.6 
L 238 -138.89 
L 239.3 -149.4 
L 239.4 -149.11 
L 240.6 -161.5 
L 240.8 -161.85 
L 242.2 -167.09 
L 242.6 -168.2 
L 243.6 -173.45 
L 244 -174.9 
L 245 -180.35 
L 245.3 -181.6 
L 246.4 -187.06 
L 246.6 -188.3 
L 247.3 -195 
L 247.8 -202.15 
L 248 -205 
L 249.2 -207.23 
L 250 -208 
L 250 -208 
L 250.6 -208.97 
L 252 -209.99 
L 252 -209 
L 253 -208 
L 253.4 -209.37 
L 254 -210 
L 254.8 -209.27 
L 256 -209 
L 256 -211 
L 256.2 -210.35 
L 257.6 -209.92 
L 259 -209.91 
L 259 -210 
L 259 -213 
L 260.4 -214.91 
L 261 -215 
L 261.8 -215.17 
L 263 -214 
L 263.2 -214.23 
L 264.6 -212.67 
L 265 -212 
L 266 -211.31 
L 267 -210 
L 267.4 -211.10 
L 268.8 -212.95 
L 269 -212 
L 270.2 -211.80 
L 271 -211 
L 271.6 -209.97 
L 273 -209.62 
L 273 -209.4 
L 274.4 -210.31 
L 275.8 -209.46 
L 276 -209.8 
L 277.2 -209.29 
L 278.6 -210.31 
L 280 -210.55 
L 280 -209.8 
L 281.4 -210.63 
L 282.8 -210.54 
L 284 -209.4 
L 284.2 -209.47 
L 285.6 -209.01 
L 287 -209.28 
L 288 -209 
L 288.4 -209.25 
L 289.8 -208.93 
L 291.2 -208.91 
L 292 -208.6 
L 292.6 -209.18 
L 294 -209.67 
L 295.4 -209.26 
L 296 -208.6 
L 296.8 -208.31 
L 298.2 -208.41 
L 299.6 -208.58 
L 300 -208.6 
L 301 -208.46 
L 302.4 -208.54 
L 303 -208 
L 303.8 -207.98 
L 305.2 -207.13 
L 306 -207 
L 306.6 -206.13 
L 308 -204.17 
L 308 -204 
L 309.4 -203.67 
L 310 -204 
L 310.8 -204.62 
L 311.2 -206 
L 312.35 -206 
L 312.35 -254.8 
L 312.35 -254.8 
L 311.2 -254.8 
L 310.8 -254.8 
L 310 -254.8 
L 309.4 -254.8 
L 308 -254.8 
L 308 -254.8 
L 306.6 -254.8 
L 306 -254.8 
L 305.2 -254.8 
L 303.8 -254.8 
L 303 -254.8 
L 302.4 -254.8 
L 301 -254.8 
L 300 -254.8 
L 299.6 -254.8 
L 298.2 -254.8 
L 296.8 -254.8 
L 296 -254.8 
L 295.4 -254.8 
L 294 -254.8 
L 292.6 -254.8 
L 292 -254.8 
L 291.2 -254.8 
L 289.8 -254.8 
L 288.4 -254.8 
L 288 -254.8 
L 287 -254.8 
L 285.6 -254.8 
L 284.2 -254.8 
L 284 -254.8 
L 282.8 -254.8 
L 281.4 -254.8 
L 280 -254.8 
L 280 -254.8 
L 278.6 -254.8 
L 277.2 -254.8 
L 276 -254.8 
L 275.8 -254.8 
L 274.4 -254.8 
L 273 -254.8 
L 273 -254.8 
L 271.6 -254.8 
L 271 -254.8 
L 270.2 -254.8 
L 269 -254.8 
L 268.8 -254.8 
L 267.4 -254.8 
L 267 -254.8 
L 266 -254.8 
L 265 -254.8 
L 264.6 -254.8 
L 263.2 -254.8 
L 263 -254.8 
L 261.8 -254.8 
L 261 -254.8 
L 260.4 -254.8 
L 259 -254.8 
L 259 -254.8 
L 259 -254.8 
L 257.6 -254.8 
L 256.2 -254.8 
L 256 -254.8 
L 256 -254.8 
L 254.8 -254.8 
L 254 -254.8 
L 253.4 -254.8 
L 253 -254.8 
L 252 -254.8 
L 252 -254.8 
L 250.6 -254.8 
L 250 -254.8 
L 250 -254.8 
L 249.2 -254.8 
L 248 -254.8 
L 247.8 -254.8 
L 247.3 -254.8 
L 246.6 -254.8 
L 246.4 -254.8 
L 245.3 -254.8 
L 245 -254.8 
L 244 -254.8 
L 243.6 -254.8 
L 242.6 -254.8 
L 242.2 -254.8 
L 240.8 -254.8 
L 240.6 -254.8 
L 239.4 -254.8 
L 239.3 -254.8 
L 238 -254.8 
L 237.6 -254.8 
L 236.6 -254.8 
L 235.2 -254.8 
L 235.2 -254.8 
L 234.6 -254.8 
L 233.8 -254.8 
L 233.2 -254.8 
L 232.4 -254.8 
L 231.9 -254.8 
L 231 -254.8 
L 230.5 -254.8 
L 229.6 -254.8 
L 229.2 -254.8 
L 228.2 -254.8 
L 227.9 -254.8 
L 226.8 -254.8 
L 225.8 -254.8 
L 225.4 -254.8 
L 224 -254.8 
L 223.8 -254.8 
L 222.6 -254.8 
L 221.8 -254.8 
L 221.2 -254.8 
L 220.5 -254.8 
L 219.8 -254.8 
L 219.1 -254.8 
L 218.4 -254.8 
L 217.8 -254.8 
L 217 -254.8 
L 216.5 -254.8 
L 215.6 -254.8 
L 215.1 -254.8 
L 214.2 -254.8 
L 213.8 -254.8 
L 212.8 -254.8 
L 212.4 -254.8 
L 211.4 -254.8 
L 211.1 -254.8 
L 210 -254.8 
L 209.8 -254.8 
L 208.6 -254.8 
L 208.4 -254.8 
L 207.2 -254.8 
L 205.8 -254.8 
L 205.7 -254.8 
L 204.4 -254.8 
L 203.7 -254.8 
L 203 -254.8 
L 203 -254.8 
L 201.6 -254.8 
L 201 -254.8 
L 200.2 -254.8 
L 198.8 -254.8 
L 198 -254.8 
L 197.4 -254.8 
L 196 -254.8 
L 195 -254.8 
L 194.6 -254.8 
L 193.2 -254.8 
L 192 -254.8 
L 191.8 -254.8 
L 190.4 -254.8 
L 189 -254.8 
L 188 -254.8 
L 187.6 -254.8 
L 186.2 -254.8 
L 184.8 -254.8 
L 184 -254.8 
L 183.4 -254.8 
L 182 -254.8 
L 182 -254.8 
L 180.6 -254.8 
L 179.2 -254.8 
L 179 -254.8 
L 177.8 -254.8 
L 177 -254.8 
L 176.4 -254.8 
L 175 -254.8 
L 175 -254.8 
L 173.6 -254.8 
L 172.2 -254.8 
L 172 -254.8 
L 170.8 -254.8 
L 170 -254.8 
L 169.4 -254.8 
L 169 -254.8 
L 168 -254.8 
L 167 -254.8 
L 166.6 -254.8 
L 165.2 -254.8 
L 165 -254.8 
L 163.8 -254.8 
L 162.4 -254.8 
L 162 -254.8 
L 161 -254.8 
L 159.6 -254.8 
L 159 -254.8 
L 158.2 -254.8 
L 156.8 -254.8 
L 156 -254.8 
L 156 -254.8 
L 155.4 -254.8 
L 154 -254.8 
L 153 -254.8 
L 152.6 -254.8 
L 152 -254.8 
L 151.2 -254.8 
L 150 -254.8 
L 150 -254.8 
L 149.8 -254.8 
L 148.4 -254.8 
L 148 -254.8 
L 147 -254.8 
L 146 -254.8 
L 145.6 -254.8 
L 144.2 -254.8 
L 143 -254.8 
L 142.8 -254.8 
L 141.4 -254.8 
L 140 -254.8 
L 140 -254.8 
L 138.6 -254.8 
L 137.2 -254.8 
L 137 -254.8 
L 135.8 -254.8 
L 135 -254.8 
L 134.4 -254.8 
L 133 -254.8 
L 133 -254.8 
L 131.6 -254.8 
L 131 -254.8 
L 130.2 -254.8 
L 129 -254.8 
L 128.8 -254.8 
L 127.4 -254.8 
L 127 -254.8 
L 126 -254.8 
L 124.6 -254.8 
L 124 -254.8 
L 123.2 -254.8 
L 121.8 -254.8 
L 120.4 -254.8 
L 120 -254.8 
L 119 -254.8 
L 117.6 -254.8 
L 117 -254.8 
L 116.2 -254.8 
L 115 -254.8 
L 114.8 -254.8 
L 113.4 -254.8 
L 113 -254.8 
L 112 -254.8 
L 111 -254.8 
L 110.6 -254.8 
L 109.2 -254.8 
L 109 -254.8 
L 108 -254.8 
L 107.8 -254.8 
L 106.4 -254.8 
L 106 -254.8 
L 105 -254.8 
L 104 -254.8 
L 103.6 -254.8 
L 102.2 -254.8 
L 102 -254.8 
L 101 -254.8 
L 100.8 -254.8 
L 100 -254.8 
L 99.4 -254.8 
L 99 -254.8 
L 98 -254.8 
L 97.6 -254.8 
L 96.6 -254.8 
L 96 -254.8 
L 95.2 -254.8 
L 94 -254.8 
L 93.8 -254.8 
L 92.4 -254.8 
L 91 -254.8 
L 91 -254.8 
L 89.6 -254.8 
L 88.2 -254.8 
L 88 -254.8 
L 87 -254.8 
L 86.8 -254.8 
L 85.8 -254.8 
L 85.4 -254.8 
L 84.6 -254.8 
L 84 -254.8 
L 83.4 -254.8 
L 82.6 -254.8 
L 82.1 -254.8 
L 81.2 -254.8 
L 80.9 -254.8 
L 80 -254.8 
L 79.8 -254.8 
L 79.1 -254.8 
L 78.4 -254.8 
L 77.9 -254.8 
L 77 -254.8 
L 76.7 -254.8 
L 75.6 -254.8 
L 75.4 -254.8 
L 74.2 -254.8 
L 74.2 -254.8 
L 73 -254.8 
L 72.8 -254.8 
L 71.8 -254.8 
L 71.4 -254.8 
L 70 -254.8 
L 69 -254.8 
L 68.6 -254.8 
L 67.2 -254.8 
L 66 -254.8 
L 65.8 -254.8 
L 64.4 -254.8 
L 63 -254.8 
L 63 -254.8 
L 61.6 -254.8 
L 60.2 -254.8 
L 60 -254.8 
L 58.8 -254.8 
L 58 -254.8 
L 57.4 -254.8 
L 56.5 -254.8 
L 56 -254.8 
L 55 -254.8 
L 54.6 -254.8 
L 53.2 -254.8 
L 53 -254.8 
L 51.8 -254.8 
L 50.4 -254.8 
L 50.4 -254.8 
L 50.2 -254.8 
z
" transform="translate(0 410)" style="fill: #696969"/>
</g>
</g>
<g id="FillBetweenPolyCollection_7">
<g clip-path="url(#pb78dd19eea)">
<path d="M 312.35 -254.8 
L 312.35 -209 
L 312.4 -209 
L 312.4 -209 
L 313.8 -209.39 
L 314.36 -209.54 
L 315.2 -209.33 
L 316.54 -209.00 
L 316.6 -208.98 
L 318 -208.63 
L 318.72 -208.45 
L 319.4 -207.55 
L 320.35 -206.27 
L 320.8 -205.61 
L 321.45 -204.64 
L 322.2 -203.51 
L 322.54 -203.00 
L 323.6 -200.88 
L 323.63 -200.82 
L 324.72 -198.64 
L 325 -198.36 
L 325.81 -197.55 
L 326.4 -197.25 
L 326.90 -197.00 
L 327.8 -196.55 
L 327.99 -196.46 
L 329.08 -197.55 
L 329.2 -197.78 
L 330.17 -199.73 
L 330.6 -200.58 
L 331.26 -201.91 
L 332 -202.64 
L 332.35 -203.00 
L 333.4 -200.91 
L 333.44 -200.82 
L 334.53 -200.27 
L 334.8 -200.54 
L 335.62 -201.36 
L 336.2 -202.22 
L 336.71 -203.00 
L 337.6 -203.88 
L 337.80 -204.09 
L 339 -204.33 
L 339.44 -204.42 
L 340.4 -204.03 
L 341.07 -203.76 
L 341.8 -203.43 
L 342.71 -203.00 
L 343.2 -202.88 
L 344.6 -202.53 
L 344.89 -202.45 
L 346 -203.28 
L 347.07 -204.09 
L 347.4 -204.33 
L 348.8 -205.38 
L 349.25 -205.73 
L 350.2 -206.90 
L 351.43 -208.45 
L 351.6 -208.51 
L 353 -208.97 
L 353.07 -209.00 
L 354.16 -207.91 
L 354.4 -207.67 
L 355.8 -206.27 
L 355.80 -206.27 
L 357.2 -205.57 
L 357.98 -205.18 
L 358.6 -204.77 
L 359.61 -204.09 
L 360 -204.47 
L 361.25 -205.73 
L 361.4 -205.36 
L 362.34 -203.00 
L 362.8 -202.09 
L 363.43 -200.82 
L 364.2 -201.58 
L 364.52 -201.91 
L 365.6 -205.13 
L 365.61 -205.18 
L 366.70 -207.36 
L 367 -207.80 
L 367.79 -209.00 
L 368.05 -209.54 
L 368.4 -209.05 
L 368.81 -208.45 
L 368.88 -208.45 
L 369.36 -206.27 
L 369.8 -204.96 
L 369.90 -204.64 
L 370.99 -203.00 
L 371.2 -202.66 
L 372.6 -200.33 
L 372.63 -200.27 
L 373.72 -198.64 
L 374 -198.36 
L 374.81 -197.55 
L 375.4 -198.42 
L 375.90 -199.18 
L 376.8 -200.08 
L 376.99 -200.27 
L 378.08 -201.36 
L 378.2 -201.19 
L 379.17 -199.73 
L 379.6 -199.30 
L 380.26 -198.64 
L 381 -198.05 
L 381.35 -197.76 
L 382.4 -198.60 
L 382.44 -198.64 
L 383.53 -199.18 
L 383.8 -198.92 
L 384.62 -198.09 
L 385.2 -197.90 
L 386.26 -197.55 
L 386.6 -197.88 
L 387.35 -198.64 
L 388 -198.96 
L 388.44 -199.18 
L 389.4 -198.23 
L 389.53 -198.09 
L 390.8 -198.51 
L 391.17 -198.64 
L 392.2 -197.95 
L 392.80 -197.55 
L 393.6 -197.28 
L 394.44 -197.00 
L 395 -197.00 
L 396.07 -197.00 
L 396.4 -196.89 
L 397.71 -196.46 
L 397.8 -196.51 
L 399.2 -197.45 
L 399.35 -197.55 
L 400.44 -198.64 
L 400.6 -198.64 
L 402 -198.64 
L 402.07 -198.64 
L 403.4 -199.52 
L 403.71 -199.73 
L 404.8 -200.45 
L 405.34 -200.82 
L 406.2 -201.39 
L 406.98 -201.91 
L 407.6 -202.52 
L 408.62 -203.54 
L 409 -203.92 
L 409.71 -204.64 
L 410.4 -204.29 
L 410.80 -204.09 
L 411.8 -203.09 
L 411.89 -203.00 
L 412.98 -201.91 
L 413.2 -201.69 
L 414.07 -200.82 
L 414.6 -200.55 
L 416 -199.85 
L 416.25 -199.73 
L 417.4 -199.73 
L 418.43 -199.73 
L 418.8 -199.44 
L 420.2 -198.36 
L 420.54 -198.09 
L 420.61 -199.18 
L 421.6 -198.78 
L 423 -198.20 
L 423.27 -198.09 
L 424.4 -198.28 
L 425.8 -198.51 
L 426.54 -198.64 
L 427.2 -199.29 
L 428.6 -200.69 
L 428.72 -200.82 
L 429.81 -201.36 
L 430 -201.18 
L 430.90 -200.27 
L 431.4 -199.78 
L 432.54 -198.64 
L 432.8 -198.46 
L 434.17 -197.55 
L 434.2 -197.54 
L 435.6 -196.98 
L 436.35 -196.67 
L 437 -196.88 
L 438.4 -197.33 
L 439.08 -197.55 
L 439.8 -198.26 
L 440.71 -199.18 
L 441.2 -198.94 
L 441.81 -198.64 
L 442.6 -197.85 
L 442.90 -197.55 
L 443.99 -195.91 
L 444 -195.90 
L 445.08 -194.28 
L 445.4 -193.96 
L 446.17 -193.18 
L 446.8 -194.13 
L 447.26 -194.82 
L 448.2 -197.16 
L 448.35 -197.55 
L 449.44 -199.18 
L 449.6 -199.23 
L 451 -199.70 
L 451.07 -199.73 
L 452.4 -200.17 
L 452.71 -200.27 
L 453.8 -200.06 
L 454.35 -199.95 
L 455.2 -200.40 
L 455.98 -200.82 
L 456.6 -200.61 
L 457.62 -200.27 
L 458 -200.02 
L 459.25 -199.18 
L 459.4 -199.15 
L 460.8 -198.87 
L 460.89 -198.86 
L 462.2 -200.42 
L 462.52 -200.82 
L 463.6 -201.89 
L 463.62 -201.91 
L 464.71 -201.36 
L 465 -200.93 
L 465.80 -199.73 
L 466.4 -199.43 
L 467.8 -198.73 
L 467.98 -198.64 
L 469.2 -198.64 
L 470.6 -198.64 
L 471.25 -198.64 
L 472 -198.64 
L 473.4 -198.64 
L 474.52 -198.64 
L 474.8 -198.64 
L 476.2 -198.64 
L 476.70 -198.64 
L 477.6 -198.38 
L 479 -197.98 
L 479.06 -197.96 
L 480.4 -197.29 
L 481.01 -197.38 
L 481.8 -196.65 
L 482.96 -196.40 
L 483.2 -196.15 
L 484.6 -195.65 
L 484.92 -195.42 
L 486 -195.92 
L 486.87 -195.42 
L 487.4 -196.48 
L 488.8 -196.77 
L 488.82 -196.40 
L 490.2 -196.04 
L 490.78 -196.40 
L 491.6 -195.89 
L 492.73 -195.42 
L 493 -195.98 
L 494.4 -195.92 
L 494.68 -195.42 
L 495.8 -194.90 
L 496.64 -194.45 
L 497.2 -194.01 
L 498.59 -192.5 
L 498.6 -193.56 
L 500 -194.41 
L 500.54 -193.47 
L 501.4 -194.53 
L 502.5 -196.40 
L 502.8 -195.01 
L 504.2 -196.80 
L 504.45 -198.35 
L 505.6 -197.35 
L 506.40 -197.38 
L 507 -196.66 
L 508.35 -198.35 
L 508.4 -196.94 
L 509.8 -196.55 
L 510.31 -196.40 
L 511.2 -192.78 
L 511.28 -192.5 
L 512.26 -196.40 
L 512.6 -196.30 
L 514 -199.01 
L 514.21 -200.31 
L 515.4 -199.32 
L 516.17 -199.33 
L 516.8 -197.92 
L 518.12 -196.40 
L 518.2 -194.89 
L 519.6 -194.63 
L 520.07 -196.40 
L 521 -194.42 
L 522.03 -194.45 
L 522.4 -193.74 
L 523.8 -191.73 
L 523.98 -190.54 
L 525.2 -187.79 
L 525.93 -185.66 
L 526.6 -187.44 
L 526.91 -188.59 
L 527.89 -192.5 
L 528 -192.14 
L 529.4 -192.81 
L 529.84 -193.47 
L 530.8 -195.41 
L 531.79 -196.40 
L 532.2 -197.00 
L 533.6 -195.11 
L 533.75 -194.45 
L 535 -193.53 
L 535.5 -192.5 
L 535.5 -254.8 
L 535.5 -254.8 
L 535 -254.8 
L 533.75 -254.8 
L 533.6 -254.8 
L 532.2 -254.8 
L 531.79 -254.8 
L 530.8 -254.8 
L 529.84 -254.8 
L 529.4 -254.8 
L 528 -254.8 
L 527.89 -254.8 
L 526.91 -254.8 
L 526.6 -254.8 
L 525.93 -254.8 
L 525.2 -254.8 
L 523.98 -254.8 
L 523.8 -254.8 
L 522.4 -254.8 
L 522.03 -254.8 
L 521 -254.8 
L 520.07 -254.8 
L 519.6 -254.8 
L 518.2 -254.8 
L 518.12 -254.8 
L 516.8 -254.8 
L 516.17 -254.8 
L 515.4 -254.8 
L 514.21 -254.8 
L 514 -254.8 
L 512.6 -254.8 
L 512.26 -254.8 
L 511.28 -254.8 
L 511.2 -254.8 
L 510.31 -254.8 
L 509.8 -254.8 
L 508.4 -254.8 
L 508.35 -254.8 
L 507 -254.8 
L 506.40 -254.8 
L 505.6 -254.8 
L 504.45 -254.8 
L 504.2 -254.8 
L 502.8 -254.8 
L 502.5 -254.8 
L 501.4 -254.8 
L 500.54 -254.8 
L 500 -254.8 
L 498.6 -254.8 
L 498.59 -254.8 
L 497.2 -254.8 
L 496.64 -254.8 
L 495.8 -254.8 
L 494.68 -254.8 
L 494.4 -254.8 
L 493 -254.8 
L 492.73 -254.8 
L 491.6 -254.8 
L 490.78 -254.8 
L 490.2 -254.8 
L 488.82 -254.8 
L 488.8 -254.8 
L 487.4 -254.8 
L 486.87 -254.8 
L 486 -254.8 
L 484.92 -254.8 
L 484.6 -254.8 
L 483.2 -254.8 
L 482.96 -254.8 
L 481.8 -254.8 
L 481.01 -254.8 
L 480.4 -254.8 
L 479.06 -254.8 
L 479 -254.8 
L 477.6 -254.8 
L 476.70 -254.8 
L 476.2 -254.8 
L 474.8 -254.8 
L 474.52 -254.8 
L 473.4 -254.8 
L 472 -254.8 
L 471.25 -254.8 
L 470.6 -254.8 
L 469.2 -254.8 
L 467.98 -254.8 
L 467.8 -254.8 
L 466.4 -254.8 
L 465.80 -254.8 
L 465 -254.8 
L 464.71 -254.8 
L 463.62 -254.8 
L 463.6 -254.8 
L 462.52 -254.8 
L 462.2 -254.8 
L 460.89 -254.8 
L 460.8 -254.8 
L 459.4 -254.8 
L 459.25 -254.8 
L 458 -254.8 
L 457.62 -254.8 
L 456.6 -254.8 
L 455.98 -254.8 
L 455.2 -254.8 
L 454.35 -254.8 
L 453.8 -254.8 
L 452.71 -254.8 
L 452.4 -254.8 
L 451.07 -254.8 
L 451 -254.8 
L 449.6 -254.8 
L 449.44 -254.8 
L 448.35 -254.8 
L 448.2 -254.8 
L 447.26 -254.8 
L 446.8 -254.8 
L 446.17 -254.8 
L 445.4 -254.8 
L 445.08 -254.8 
L 444 -254.8 
L 443.99 -254.8 
L 442.90 -254.8 
L 442.6 -254.8 
L 441.81 -254.8 
L 441.2 -254.8 
L 440.71 -254.8 
L 439.8 -254.8 
L 439.08 -254.8 
L 438.4 -254.8 
L 437 -254.8 
L 436.35 -254.8 
L 435.6 -254.8 
L 434.2 -254.8 
L 434.17 -254.8 
L 432.8 -254.8 
L 432.54 -254.8 
L 431.4 -254.8 
L 430.90 -254.8 
L 430 -254.8 
L 429.81 -254.8 
L 428.72 -254.8 
L 428.6 -254.8 
L 427.2 -254.8 
L 426.54 -254.8 
L 425.8 -254.8 
L 424.4 -254.8 
L 423.27 -254.8 
L 423 -254.8 
L 421.6 -254.8 
L 420.61 -254.8 
L 420.54 -254.8 
L 420.2 -254.8 
L 418.8 -254.8 
L 418.43 -254.8 
L 417.4 -254.8 
L 416.25 -254.8 
L 416 -254.8 
L 414.6 -254.8 
L 414.07 -254.8 
L 413.2 -254.8 
L 412.98 -254.8 
L 411.89 -254.8 
L 411.8 -254.8 
L 410.80 -254.8 
L 410.4 -254.8 
L 409.71 -254.8 
L 409 -254.8 
L 408.62 -254.8 
L 407.6 -254.8 
L 406.98 -254.8 
L 406.2 -254.8 
L 405.34 -254.8 
L 404.8 -254.8 
L 403.71 -254.8 
L 403.4 -254.8 
L 402.07 -254.8 
L 402 -254.8 
L 400.6 -254.8 
L 400.44 -254.8 
L 399.35 -254.8 
L 399.2 -254.8 
L 397.8 -254.8 
L 397.71 -254.8 
L 396.4 -254.8 
L 396.07 -254.8 
L 395 -254.8 
L 394.44 -254.8 
L 393.6 -254.8 
L 392.80 -254.8 
L 392.2 -254.8 
L 391.17 -254.8 
L 390.8 -254.8 
L 389.53 -254.8 
L 389.4 -254.8 
L 388.44 -254.8 
L 388 -254.8 
L 387.35 -254.8 
L 386.6 -254.8 
L 386.26 -254.8 
L 385.2 -254.8 
L 384.62 -254.8 
L 383.8 -254.8 
L 383.53 -254.8 
L 382.44 -254.8 
L 382.4 -254.8 
L 381.35 -254.8 
L 381 -254.8 
L 380.26 -254.8 
L 379.6 -254.8 
L 379.17 -254.8 
L 378.2 -254.8 
L 378.08 -254.8 
L 376.99 -254.8 
L 376.8 -254.8 
L 375.90 -254.8 
L 375.4 -254.8 
L 374.81 -254.8 
L 374 -254.8 
L 373.72 -254.8 
L 372.63 -254.8 
L 372.6 -254.8 
L 371.2 -254.8 
L 370.99 -254.8 
L 369.90 -254.8 
L 369.8 -254.8 
L 369.36 -254.8 
L 368.88 -254.8 
L 368.81 -254.8 
L 368.4 -254.8 
L 368.05 -254.8 
L 367.79 -254.8 
L 367 -254.8 
L 366.70 -254.8 
L 365.61 -254.8 
L 365.6 -254.8 
L 364.52 -254.8 
L 364.2 -254.8 
L 363.43 -254.8 
L 362.8 -254.8 
L 362.34 -254.8 
L 361.4 -254.8 
L 361.25 -254.8 
L 360 -254.8 
L 359.61 -254.8 
L 358.6 -254.8 
L 357.98 -254.8 
L 357.2 -254.8 
L 355.80 -254.8 
L 355.8 -254.8 
L 354.4 -254.8 
L 354.16 -254.8 
L 353.07 -254.8 
L 353 -254.8 
L 351.6 -254.8 
L 351.43 -254.8 
L 350.2 -254.8 
L 349.25 -254.8 
L 348.8 -254.8 
L 347.4 -254.8 
L 347.07 -254.8 
L 346 -254.8 
L 344.89 -254.8 
L 344.6 -254.8 
L 343.2 -254.8 
L 342.71 -254.8 
L 341.8 -254.8 
L 341.07 -254.8 
L 340.4 -254.8 
L 339.44 -254.8 
L 339 -254.8 
L 337.80 -254.8 
L 337.6 -254.8 
L 336.71 -254.8 
L 336.2 -254.8 
L 335.62 -254.8 
L 334.8 -254.8 
L 334.53 -254.8 
L 333.44 -254.8 
L 333.4 -254.8 
L 332.35 -254.8 
L 332 -254.8 
L 331.26 -254.8 
L 330.6 -254.8 
L 330.17 -254.8 
L 329.2 -254.8 
L 329.08 -254.8 
L 327.99 -254.8 
L 327.8 -254.8 
L 326.90 -254.8 
L 326.4 -254.8 
L 325.81 -254.8 
L 325 -254.8 
L 324.72 -254.8 
L 323.63 -254.8 
L 323.6 -254.8 
L 322.54 -254.8 
L 322.2 -254.8 
L 321.45 -254.8 
L 320.8 -254.8 
L 320.35 -254.8 
L 319.4 -254.8 
L 318.72 -254.8 
L 318 -254.8 
L 316.6 -254.8 
L 316.54 -254.8 
L 315.2 -254.8 
L 314.36 -254.8 
L 313.8 -254.8 
L 312.4 -254.8 
L 312.4 -254.8 
L 312.35 -254.8 
z
" transform="translate(0 410)" style="fill: #696969"/>
</g>
</g>
<g id="line2d_51">
<path d="M 50.2 262.78 
L 50.4 262.78 
L 50.4 263 
L 51.8 263.85 
L 53 263 
L 53.2 264.81 
L 54.6 265.17 
L 56 265.24 
L 56 266 
L 57.4 265.98 
L 58.8 267.42 
L 59 268 
L 60.2 268.73 
L 61 270 
L 61.6 268.69 
L 63 267.37 
L 64 267 
L 64.4 265.87 
L 65.8 264.04 
L 66 263 
L 67.2 266.69 
L 68.6 267.22 
L 70 265 
L 72 268 
L 72.8 267.15 
L 74.2 265.42 
L 75 265 
L 75.6 263.98 
L 77 262.68 
L 77 264 
L 78.4 260.88 
L 79 261 
L 81.2 266.48 
L 82.6 268.77 
L 83 269 
L 85 277 
L 85.4 276.82 
L 86 279 
L 86.8 275.66 
L 88 273 
L 90 264 
L 91 262.70 
L 92 261 
L 92.4 261.76 
L 94 262 
L 95.2 262.85 
L 96 265 
L 96.6 265.21 
L 98 268.34 
L 98 268 
L 100.8 270.60 
L 102.2 273.51 
L 103.6 274.96 
L 104 274 
L 105 272.87 
L 106 270 
L 106.4 269.48 
L 107.8 266.66 
L 108 267 
L 110 268 
L 110.6 269.43 
L 112 270.13 
L 112 269 
L 113.4 265.50 
L 114 263 
L 114.8 261.93 
L 116 260 
L 116.2 258.40 
L 117.6 250.93 
L 118 250 
L 119 249.06 
L 120 249 
L 121 256 
L 121.8 253.86 
L 123 251 
L 123.2 251.06 
L 125 248 
L 126 246.32 
L 127 246 
L 127.4 245.44 
L 128.8 246.45 
L 129 247 
L 130.2 250.87 
L 133 262.25 
L 133 263 
L 134.4 264.36 
L 135 266 
L 135.8 265.70 
L 137 268 
L 137.2 266.70 
L 138.6 266.24 
L 139 266 
L 140 265.05 
L 141.4 262.94 
L 142 263 
L 142.8 261.94 
L 144 262 
L 144.2 261.21 
L 145.6 260.67 
L 146 261 
L 148 264 
L 148.4 265.19 
L 149.8 268.10 
L 150 268 
L 152 270 
L 152 273 
L 154 271.75 
L 154 274 
L 155.4 273.65 
L 156 274 
L 156 275 
L 158 279 
L 158.2 278.66 
L 160 273 
L 162.4 263.30 
L 163.8 260.12 
L 164 260 
L 165.2 258.48 
L 166 257 
L 166.6 260.31 
L 168 267 
L 169.4 265.48 
L 170 266 
L 170.8 264.75 
L 172 265 
L 172.2 263.94 
L 173.6 259.20 
L 174 259 
L 175 255.07 
L 176 254 
L 176.4 255.15 
L 178 261 
L 179.2 264.89 
L 180 269 
L 180.6 270.06 
L 182 275.88 
L 182 277 
L 183.4 272.01 
L 184 271 
L 184.8 268.24 
L 186 265 
L 186.2 265.41 
L 188 275 
L 190 278 
L 190.4 278.05 
L 191.8 278.64 
L 192 279 
L 193.2 280.58 
L 194 283 
L 194.6 280.83 
L 196 280.09 
L 196 281 
L 197.4 282.87 
L 198 283 
L 198.8 284.23 
L 200.2 285.24 
L 203 288.10 
L 204 289 
L 204.4 290.45 
L 205.8 293.44 
L 206 293 
L 207.2 296.08 
L 208 299 
L 208.6 295.92 
L 209.1 296.2 
L 209.8 300.2 
L 210 300.52 
L 210.4 305.6 
L 211.1 311 
L 211.4 311.83 
L 211.8 315 
L 212.8 319.29 
L 214.2 324.07 
L 215.6 326.58 
L 216.8 330.5 
L 217 330.17 
L 219 340.4 
L 219.8 339.48 
L 221.2 337.08 
L 221.2 338.2 
L 222.6 336.71 
L 224.5 336.7 
L 225.4 335.03 
L 226.8 332.09 
L 227.3 331.6 
L 228.2 333.29 
L 228.8 336 
L 229.6 337.08 
L 231 341.87 
L 231 342.5 
L 232.4 348.18 
L 233.2 350.2 
L 233.8 352.76 
L 235.2 355.85 
L 235.4 356.7 
L 236.5 357.8 
L 236.6 356.25 
L 237.5 354.5 
L 238 352.00 
L 239.4 349.97 
L 239.7 350.2 
L 241.3 345.8 
L 242.3 337.1 
L 243.6 326.62 
L 244.7 319.6 
L 245 316.83 
L 246.3 308.7 
L 246.6 300.2 
L 248 290.8 
L 249.2 289.72 
L 250 286.8 
L 250.6 286.41 
L 251.3 282.8 
L 252 281.31 
L 253.4 277.06 
L 254 276.1 
L 254.8 271.57 
L 256.2 270.44 
L 256.7 270.7 
L 257.6 269.15 
L 258 269.4 
L 259 266.90 
L 259.4 266.7 
L 260.4 265.23 
L 260.7 265.4 
L 262 264.7 
L 263.4 268 
L 264 268 
L 264.6 269.26 
L 266 271.74 
L 266 272 
L 267.4 271.92 
L 268 273 
L 268.8 273.34 
L 270 276 
L 270.2 275.70 
L 271.6 278.06 
L 272 279 
L 274 279 
L 274.4 277.05 
L 275.8 271.00 
L 276 271 
L 277.2 266.62 
L 278 265 
L 278.6 263.42 
L 280 262.13 
L 280 263 
L 281.4 260.61 
L 282 261 
L 282.8 261.29 
L 284 265 
L 284.2 264.67 
L 285.6 266.67 
L 287 267.82 
L 288 269 
L 288.4 267.98 
L 289.8 265.65 
L 290 266 
L 291.2 263.42 
L 292.6 262.67 
L 294 263.61 
L 294 264 
L 295.4 265.62 
L 296 267 
L 296.8 266.37 
L 298 267 
L 298.2 267.42 
L 300 273 
L 301 277 
L 302.4 271.65 
L 304 267 
L 305.2 265.10 
L 306 265 
L 306.6 268.44 
L 308 277.36 
L 308 277 
L 309 283 
L 309.4 284.04 
L 310 285 
L 312.35 285 
L 312.35 285 
" clip-path="url(#pb78dd19eea)" style="fill: none; stroke: #1a1a1a; stroke-width: 1.2; stroke-linecap: square"/>
</g>
<g id="line2d_52">
<path d="M 50.2 220.92 
L 50.4 220.92 
L 50.4 220.4 
L 51.8 225.67 
L 53.2 227.64 
L 53.5 228.9 
L 54.6 229.65 
L 55.3 231.3 
L 56 228.94 
L 56.5 226.5 
L 57.4 225.00 
L 58.4 221.6 
L 58.8 221.76 
L 59.6 221 
L 60.2 222.11 
L 60.8 222.2 
L 61.6 223.48 
L 62 222.8 
L 63 223.17 
L 63.9 221.6 
L 64.4 221.93 
L 65.7 220.4 
L 65.8 220.82 
L 67.2 220.29 
L 67.5 219.8 
L 69.3 219.1 
L 70 220.09 
L 71.2 221 
L 71.4 221.50 
L 72.4 219.1 
L 72.8 220.06 
L 74.2 219.73 
L 74.2 217.9 
L 75.6 218.07 
L 76 216.7 
L 77 215.00 
L 77.9 214.9 
L 78.4 213.62 
L 79.7 214.3 
L 79.8 213.97 
L 81.2 213.93 
L 83.4 216.7 
L 85.2 217.9 
L 85.4 216.33 
L 86.8 214.61 
L 87 216.1 
L 88.2 212.58 
L 89.6 213.43 
L 91 213.77 
L 92 214.3 
L 92.4 214.73 
L 93.8 216.67 
L 94 218 
L 95.2 220.38 
L 96 224 
L 96.6 224.58 
L 97.8 228.3 
L 98 226.69 
L 99.4 223.35 
L 99.6 224 
L 101.4 218.5 
L 102.2 217.40 
L 103.2 215.5 
L 105 210.89 
L 106.3 209.4 
L 106.4 208.20 
L 107.5 207 
L 107.8 205.62 
L 109.2 204.43 
L 109.3 205.1 
L 110.6 200.81 
L 112 196.69 
L 112 197 
L 113.4 196.73 
L 114.8 197.21 
L 116 196 
L 116.2 196.94 
L 117.6 196.43 
L 119 196.83 
L 120 197 
L 120.4 197.40 
L 121.8 197.42 
L 123.2 197.58 
L 124 199 
L 124.6 198.81 
L 126 200.28 
L 127.4 200.89 
L 128 201 
L 128.8 200.53 
L 130.2 199.79 
L 131.6 197.39 
L 132 196 
L 133 194.67 
L 134.4 192.06 
L 135.8 190.53 
L 136 192 
L 137.2 188.73 
L 138.6 187.34 
L 140 188.10 
L 140 189 
L 141.4 190.12 
L 143 190 
L 144.2 190.22 
L 145.6 192.02 
L 146 193 
L 147 194.94 
L 148 196 
L 148.4 197.11 
L 149.8 199.06 
L 151.2 201.39 
L 152.6 204.14 
L 154 206.66 
L 154 206 
L 154 206 
L 155.4 209.43 
L 156 210 
L 157 209 
L 158.2 202.09 
L 160 198 
L 161 197.57 
L 162 197 
L 162.4 197.86 
L 163.8 200.12 
L 164 201 
L 165.2 198.73 
L 166 198 
L 166.6 198.15 
L 168 199.71 
L 168 200 
L 169.4 200.37 
L 170 199 
L 170.8 202.65 
L 172 205 
L 172.2 205.69 
L 173.6 207.83 
L 174 208 
L 175 208.17 
L 176 209 
L 176.4 207.42 
L 177.8 207.44 
L 178 208 
L 180 211 
L 180.6 210.40 
L 182 209.29 
L 182 210 
L 183.4 210.86 
L 184.8 213.36 
L 186 215 
L 186.2 215.55 
L 187.6 213.95 
L 189 212.55 
L 189 212 
L 190.4 214.84 
L 191 215 
L 193 221 
L 193.2 221.05 
L 194.6 228.26 
L 195 231 
L 196 234.76 
L 196.3 235 
L 197.4 238.26 
L 198 238 
L 198.8 239.87 
L 200.2 241.00 
L 200.4 240.5 
L 201.6 243.27 
L 203 245.88 
L 203 245.8 
L 205.8 252.19 
L 207 255.2 
L 207.2 256.20 
L 208.6 260.91 
L 209.8 263.3 
L 210 264.33 
L 211.4 265.35 
L 212.8 267.13 
L 215.1 273.4 
L 215.6 276.71 
L 216.5 280.1 
L 217.1 286.8 
L 217.8 293.5 
L 218.5 296.2 
L 219.8 291.67 
L 219.8 292.2 
L 221.2 290.92 
L 221.8 291.5 
L 222.6 290.30 
L 223.8 288.8 
L 224 288.94 
L 225.4 286.80 
L 226.5 285.5 
L 226.8 285.45 
L 227.9 286.8 
L 229.6 297.5 
L 230.5 304.3 
L 231 305.19 
L 231.9 309.6 
L 232.4 310.80 
L 233.2 315 
L 233.4 322.9 
L 233.8 320.82 
L 235.2 315 
L 237.9 311 
L 238 311.18 
L 239.3 305.6 
L 239.4 306.17 
L 241.9 293.5 
L 242.6 286.8 
L 244.6 266.7 
L 245.3 260 
L 246.4 258.31 
L 247.8 257.80 
L 248 257 
L 249.2 254.67 
L 250 251 
L 250.6 249.58 
L 252 244.48 
L 252 245 
L 253.4 238.80 
L 254 237 
L 254.8 234.10 
L 256 231 
L 256.2 229.61 
L 257.6 227.14 
L 258 227 
L 258 225 
L 259 224.83 
L 260.4 224.36 
L 261 224 
L 261.8 226.03 
L 263 227 
L 263.2 228.51 
L 264.6 229.37 
L 266 230.99 
L 266 230 
L 267.4 232.21 
L 268.8 232.15 
L 269 232 
L 270.2 231.77 
L 271 233 
L 271.6 232.22 
L 273 233.72 
L 274 234 
L 274.4 234.58 
L 275.8 232.03 
L 276 231 
L 277.2 228.06 
L 278 227 
L 278.6 224.85 
L 281.4 220.36 
L 285 215 
L 285.6 215.15 
L 287 214.89 
L 287 215 
L 290 227 
L 291.2 225.96 
L 292 225 
L 292.6 224.93 
L 294 223.45 
L 294 222 
L 295.4 222.23 
L 296 221 
L 298.2 222.32 
L 299 224 
L 299.6 224.94 
L 300 227 
L 301 226.52 
L 302 229 
L 302 229 
L 302.4 228.62 
L 303.8 232.90 
L 304 233 
L 304 233 
L 305.2 235.43 
L 306 236 
L 306.6 235.90 
L 308 235.81 
L 308 237 
L 309.4 236.96 
L 310 238 
L 312.35 238 
L 312.35 238 
" clip-path="url(#pb78dd19eea)" style="fill: none; stroke: #1a1a1a; stroke-width: 1.2; stroke-linecap: square"/>
</g>
<g id="line2d_53">
<path d="M 50.2 199.09 
L 50.4 199.09 
L 50.4 199 
L 53 203 
L 53.2 202.90 
L 54.6 204.24 
L 55 205.5 
L 56 203.32 
L 56.5 203.5 
L 57.4 201.88 
L 58 202 
L 58.8 202.34 
L 60 202.5 
L 60.2 203.24 
L 61.6 202.95 
L 63 203.12 
L 63 203.5 
L 65.8 204.35 
L 66 204 
L 67.2 203.49 
L 68.6 202.59 
L 69 203 
L 70 202.16 
L 71.8 200.9 
L 72.8 197.08 
L 73 197.2 
L 74.2 193.55 
L 74.2 194.8 
L 75.4 196 
L 75.6 193.76 
L 76.7 192.3 
L 77 189.80 
L 77.9 189.9 
L 78.4 187.54 
L 79.1 188 
L 79.8 187.47 
L 80 188.7 
L 80.9 192.3 
L 81.2 192.47 
L 82.1 196 
L 82.6 196.29 
L 83.4 197.2 
L 84 197.01 
L 84.6 196.6 
L 85.4 195.37 
L 85.8 196 
L 86.8 195.27 
L 87 197.2 
L 88 198 
L 88.2 196.77 
L 89.6 196.77 
L 91 195.59 
L 91 196 
L 92.4 195.43 
L 93.8 195.89 
L 94 197 
L 95.2 197.82 
L 96 200 
L 96.6 200.66 
L 97.6 203 
L 98 203.43 
L 99 204 
L 99.4 202.62 
L 100 201 
L 101 195 
L 102 192 
L 102.2 192.20 
L 103.6 190.76 
L 104 190.6 
L 106 183 
L 106.4 181.45 
L 108 175 
L 109.2 170.20 
L 110.6 170.28 
L 111 170 
L 112 171.87 
L 113 173 
L 113.4 172.33 
L 115 171 
L 116.2 170.53 
L 117 170 
L 117.6 170.65 
L 119 172.56 
L 120 172 
L 120.4 172.79 
L 121.8 171.98 
L 124 173 
L 124.6 173.71 
L 126 174.59 
L 127 175 
L 127.4 175.33 
L 128.8 175.36 
L 129 175 
L 130.2 174.01 
L 131 172 
L 131.6 171.96 
L 133 169 
L 134.4 167.38 
L 135 167 
L 135.8 166.82 
L 137 167 
L 137.2 166.71 
L 138.6 167.21 
L 140 168.23 
L 140 169 
L 141.4 169.91 
L 142.8 171.69 
L 143 171 
L 144.2 172.75 
L 145.6 172.91 
L 146 174 
L 147 174.82 
L 148 177 
L 148.4 176.75 
L 149.8 176.75 
L 150 178 
L 150 175 
L 151.2 175.29 
L 152 177 
L 152.6 175.97 
L 153 175 
L 154 175.93 
L 155.4 175.69 
L 156 175 
L 156 175 
L 158.2 175.77 
L 159 176.6 
L 161 177.57 
L 162 177 
L 162.4 177.50 
L 163.8 178.59 
L 165 180 
L 165.2 179.88 
L 167 178 
L 168 177.51 
L 169 178 
L 169.4 178.46 
L 170 181 
L 170.8 182.52 
L 172 186 
L 173.6 187.29 
L 175 187.73 
L 175 187 
L 176.4 185.98 
L 177 185 
L 177.8 186.09 
L 179.2 187.24 
L 180.6 186.99 
L 182 186.48 
L 182 186 
L 184 190 
L 184.8 190.50 
L 186.2 192.06 
L 187.6 192.98 
L 188 195 
L 189 193.93 
L 190.4 195.73 
L 191.8 197.26 
L 192 198 
L 194.6 201.74 
L 195 201 
L 196 202.98 
L 197.4 205.23 
L 198 207 
L 200.2 211.70 
L 201.6 214.18 
L 203 217.03 
L 203 217 
L 203.7 215 
L 204.4 216.46 
L 205.8 217.93 
L 207.2 217.60 
L 208.6 218.42 
L 210 221.40 
L 211.1 225.7 
L 211.4 226.40 
L 212.4 231.1 
L 212.8 232.22 
L 215.6 244.11 
L 216.5 247.2 
L 217 249.67 
L 218.4 254.32 
L 219.1 256.6 
L 219.8 255.53 
L 220.5 255.2 
L 221.2 250.74 
L 222.6 245.60 
L 223.8 245.2 
L 224 244.50 
L 225.4 248.19 
L 225.8 249.9 
L 226.8 247.69 
L 227.9 247.2 
L 228.2 245.29 
L 229.6 240.61 
L 230.5 239.8 
L 231 241.61 
L 231.9 245.8 
L 233.8 260.08 
L 235.2 270 
L 236.6 271.47 
L 237.6 273.4 
L 238 271.10 
L 239.3 260.6 
L 239.4 260.88 
L 240.6 248.5 
L 240.8 248.14 
L 242.6 241.8 
L 243.6 236.54 
L 244 235.1 
L 245.3 228.4 
L 246.6 221.7 
L 247.3 215 
L 248 205 
L 249.2 202.76 
L 250 202 
L 250 202 
L 250.6 201.02 
L 252 200.00 
L 252 201 
L 253 202 
L 253.4 200.62 
L 254 200 
L 254.8 200.72 
L 256 201 
L 256 199 
L 256.2 199.64 
L 257.6 200.07 
L 259 200.08 
L 259 200 
L 259 197 
L 260.4 195.08 
L 261.8 194.82 
L 263 196 
L 263.2 195.76 
L 264.6 197.32 
L 265 198 
L 266 198.68 
L 267 200 
L 267.4 198.89 
L 268.8 197.04 
L 269 198 
L 270.2 198.19 
L 271 199 
L 271.6 200.02 
L 273 200.37 
L 273 200.6 
L 274.4 199.68 
L 275.8 200.53 
L 276 200.2 
L 277.2 200.70 
L 278.6 199.68 
L 280 199.44 
L 280 200.2 
L 281.4 199.36 
L 282.8 199.45 
L 284 200.6 
L 284.2 200.52 
L 285.6 200.98 
L 287 200.71 
L 288 201 
L 288.4 200.74 
L 289.8 201.06 
L 291.2 201.08 
L 292 201.4 
L 292.6 200.81 
L 294 200.32 
L 295.4 200.73 
L 296 201.4 
L 296.8 201.68 
L 300 201.4 
L 301 201.53 
L 302.4 201.45 
L 303 202 
L 303.8 202.01 
L 305.2 202.86 
L 306 203 
L 308 206 
L 309.4 206.32 
L 310 206 
L 310.8 205.37 
L 311.2 204 
L 312.35 204 
L 312.35 204 
" clip-path="url(#pb78dd19eea)" style="fill: none; stroke: #1a1a1a; stroke-width: 1.2; stroke-linecap: square"/>
</g>
<g id="line2d_54">
<path d="M 312.35 285.46 
L 312.63 295.44 
L 313.41 279.75 
L 314.67 307.66 
L 315 309.02 
L 315.48 301.70 
L 316.09 296.21 
L 317.07 293.78 
L 317.47 293.37 
L 318.29 293.17 
L 318.87 294.21 
L 319.51 294.39 
L 320.27 294.46 
L 320.73 293.78 
L 321.95 293.78 
L 323.07 296.63 
L 323.90 299.26 
L 324.63 298.65 
L 325.87 295.64 
L 327.27 292.84 
L 328.29 291.95 
L 328.67 291.09 
L 330.12 291.34 
L 331.47 292.47 
L 332.87 292.78 
L 333.78 293.78 
L 334.27 293.87 
L 335.67 294.98 
L 337.07 294.00 
L 337.07 294.39 
L 338.29 295.85 
L 338.47 295.73 
L 339.51 298.65 
L 339.87 299.02 
L 340.73 300.73 
L 341.27 299.79 
L 341.95 296.21 
L 342.67 296.90 
L 343.17 293.41 
L 344.07 295.07 
L 344.39 293.17 
L 345.47 296.56 
L 345.60 296.21 
L 346.87 302.22 
L 347.56 303.53 
L 348.27 301.64 
L 349.75 295 
L 350.97 293.17 
L 351.07 293.78 
L 352.19 293.78 
L 354.39 301.09 
L 355.27 299.05 
L 355.36 298.04 
L 356.58 293.78 
L 356.67 294.52 
L 357.80 291.70 
L 358.07 291.69 
L 359.47 289.27 
L 360.24 288.53 
L 360.87 288.52 
L 361.82 288.04 
L 362.27 288.34 
L 363.65 287.07 
L 363.67 287.45 
L 365.48 285.85 
L 365.97 287.19 
L 366.47 286.71 
L 367.43 288.17 
L 367.87 287.29 
L 369.27 289.50 
L 370.48 293.04 
L 370.67 294.69 
L 372.92 304.02 
L 373.47 302.24 
L 375.36 293.04 
L 376.27 291.51 
L 376.58 291.21 
L 377.67 289.51 
L 377.80 290 
L 379.07 288.74 
L 380.24 286.95 
L 380.47 286.28 
L 380.85 284.51 
L 381.46 286.34 
L 381.87 286.83 
L 382.68 288.17 
L 383.27 288.47 
L 384.51 288.78 
L 384.67 288.42 
L 386.07 288.30 
L 386.34 288.78 
L 387.47 288.80 
L 388.17 288.17 
L 388.87 287.86 
L 390 287.56 
L 390.27 286.55 
L 391.67 286.67 
L 391.82 286.95 
L 393.07 286.93 
L 393.65 285.73 
L 394.47 285.51 
L 395.87 282.55 
L 397.27 278.68 
L 398.17 274.75 
L 398.67 274.17 
L 399.14 272.92 
L 400.12 274.75 
L 401.58 283.29 
L 402.87 284.63 
L 404.02 288.17 
L 404.27 287.93 
L 405.24 289.39 
L 405.67 289.80 
L 407.07 293.55 
L 408.47 298.11 
L 408.90 299.75 
L 409.87 297.48 
L 409.87 297.92 
L 411.27 294.64 
L 412.56 293.65 
L 412.67 294.31 
L 413.78 294.26 
L 414.07 295.57 
L 415 296.70 
L 415.47 299.30 
L 416.21 300.97 
L 416.87 301.73 
L 418.17 296.70 
L 418.27 297.66 
L 419.26 291.82 
L 419.67 291.51 
L 420.48 286.95 
L 421.07 285.63 
L 421.70 283.29 
L 422.47 283.05 
L 422.92 282.68 
L 423.87 283.76 
L 424.14 283.29 
L 425.27 286.17 
L 426.67 279.99 
L 427.13 277.12 
L 428.07 275.82 
L 429.17 276.36 
L 429.47 276.02 
L 430.87 280.34 
L 430.95 280.17 
L 432.19 285 
L 432.27 286.49 
L 432.80 289.87 
L 433.67 296.05 
L 435.07 298.55 
L 436.46 299.63 
L 436.47 300.07 
L 437.87 299.05 
L 438.04 298.41 
L 438.90 296.58 
L 439.27 296.85 
L 440.12 295.97 
L 440.67 296.43 
L 441.34 297.19 
L 441.95 299.63 
L 442.07 299.13 
L 442.56 301.46 
L 443.47 303.12 
L 443.78 304.51 
L 444.87 305.82 
L 445.60 306.95 
L 446.27 307.36 
L 447.43 307.56 
L 447.67 307.09 
L 448.65 305.73 
L 449.07 304.62 
L 449.87 303.90 
L 450.47 304.17 
L 450.48 304.51 
L 451.09 307.56 
L 451.87 307.62 
L 452.31 308.78 
L 453.27 306.05 
L 453.53 306.95 
L 454.67 300.06 
L 454.75 300.85 
L 456.07 297.98 
L 457.47 297.51 
L 457.80 296.58 
L 458.87 296.59 
L 459.63 295.36 
L 460.27 295.26 
L 461.46 293.53 
L 461.67 294.33 
L 462.68 294.75 
L 463.07 296.21 
L 463.90 298.41 
L 465.12 302.07 
L 465.87 304.20 
L 466.34 304.51 
L 467.27 305.68 
L 467.56 305.12 
L 468.78 303.29 
L 470.07 299.16 
L 471.47 296.18 
L 472.43 295.36 
L 472.87 295.52 
L 473.65 296.58 
L 474.27 297.60 
L 474.87 299.02 
L 475.67 301.23 
L 476.09 302.07 
L 477.31 306.34 
L 478.53 309.39 
L 479.75 310 
L 479.87 308.97 
L 480.43 305.36 
L 482.67 303.90 
L 482.87 303.53 
L 484.07 303.21 
L 484.70 302.31 
L 485.47 303.89 
L 485.92 302.92 
L 486.87 306.64 
L 487.14 305.97 
L 488.27 309.68 
L 488.36 308.41 
L 489.67 310.19 
L 490.19 309.63 
L 491.07 308.09 
L 491.41 307.80 
L 492.47 306.45 
L 492.63 306.58 
L 493.85 307.19 
L 493.87 307.42 
L 495.27 313.24 
L 496.67 319.64 
L 497.51 323.04 
L 498.07 322.90 
L 498.73 324.26 
L 499.47 322.66 
L 500.87 321.85 
L 501.17 323.04 
L 502.27 319.56 
L 502.39 320.60 
L 503.60 316.95 
L 503.67 315.98 
L 505.07 309.35 
L 506.47 304.41 
L 507.26 303.53 
L 507.87 302.67 
L 508.48 302.31 
L 509.27 302.47 
L 509.46 302.92 
L 510.67 307.49 
L 510.92 310.85 
L 511.53 313.29 
L 512.07 313.27 
L 513.36 319.39 
L 513.47 318.23 
L 514.58 326.70 
L 514.87 326.29 
L 515.80 332.80 
L 516.27 331.62 
L 517.02 331.58 
L 517.67 331.28 
L 518.24 330.36 
L 519.46 327.92 
L 520.47 328.59 
L 520.68 329.14 
L 521.87 327.42 
L 521.90 327.92 
L 523.27 331.85 
L 524.34 336.46 
L 524.67 337.00 
L 525.56 338.90 
L 526.78 339.51 
L 527.47 340.70 
L 528 340.12 
L 528.87 339.66 
L 529.21 337.68 
L 530.27 336.78 
L 530.43 335.85 
L 531.65 338.90 
L 531.67 338.74 
L 532.87 339.51 
L 533.07 339.04 
L 534.09 338.90 
L 534.47 338.63 
L 535.5 337.68 
L 535.5 337.68 
" clip-path="url(#pb78dd19eea)" style="fill: none; stroke: #1a1a1a; stroke-width: 1.2; stroke-linecap: square"/>
</g>
<g id="line2d_55">
<path d="M 312.35 239.09 
L 312.4 239.09 
L 312.4 239.4 
L 313.8 239.47 
L 314 240 
L 315.2 239.73 
L 316 241 
L 316.6 240.70 
L 318 243.09 
L 318 243 
L 319.4 242.98 
L 320 242 
L 320.8 242.66 
L 322 241 
L 322.2 242.12 
L 323.6 240.25 
L 324 240 
L 325 240.42 
L 326 243 
L 326.4 242.44 
L 327.8 244.78 
L 328 246 
L 329.2 243.08 
L 330 242 
L 330.6 240.23 
L 331 240 
L 332 240.14 
L 332 241 
L 333.4 244.52 
L 334 247 
L 334.8 248.02 
L 336 251 
L 336.2 250.55 
L 338 249 
L 340 257 
L 340.4 257.56 
L 341 259 
L 341.8 256.97 
L 343 255 
L 343.2 254.07 
L 344.6 253.23 
L 345 254 
L 346 253.69 
L 347.4 254.55 
L 348 253 
L 348.8 253.91 
L 350 251 
L 350.2 251.97 
L 351.6 249.09 
L 353 245 
L 353 244.4 
L 354.4 244.63 
L 355 244 
L 355 244.6 
L 355.8 244.66 
L 357 244 
L 357.2 243.68 
L 358 243 
L 358.6 242.26 
L 359 242 
L 360 241.16 
L 361 240.6 
L 361.4 240.07 
L 362.8 238.75 
L 363 239 
L 364.2 237.26 
L 365.6 236.6 
L 367 239.98 
L 367 239 
L 368.4 240.15 
L 369 240 
L 371 244 
L 371.2 244.96 
L 373 250 
L 374 250.08 
L 375 251 
L 375.4 251.05 
L 376.8 252.35 
L 377 252 
L 378.2 252.97 
L 379 253 
L 379.6 253.79 
L 381 254.61 
L 381 254 
L 383 251 
L 383.8 249.55 
L 385 248 
L 385.2 248.02 
L 387 247 
L 388 246.75 
L 389 248 
L 389.4 247.28 
L 390.8 248.64 
L 391 249 
L 392.2 250.53 
L 393 251 
L 393.6 250.58 
L 395 247.43 
L 395 247 
L 396.4 244.65 
L 397 244 
L 397.8 244.31 
L 399 245 
L 399.2 244.77 
L 400.6 243.93 
L 401 244 
L 402 243.37 
L 403 243 
L 403.4 242.98 
L 404.8 245.29 
L 405 247 
L 406.2 248.36 
L 407 251 
L 407.6 250.63 
L 409 252.41 
L 409 253 
L 410.4 253.09 
L 411 253 
L 411.8 254.01 
L 413 254 
L 413.2 254.88 
L 414.6 254.71 
L 415 255 
L 416 253.03 
L 417 253 
L 417.4 251.64 
L 418.8 250.28 
L 419 251 
L 420.2 249.69 
L 421 250 
L 423 247.32 
L 423 248 
L 424.4 246.36 
L 425 247 
L 425.8 247.63 
L 427.2 249.09 
L 428.6 248.36 
L 429 248 
L 430 247.28 
L 431 246 
L 431.4 246.93 
L 432.8 249.16 
L 433 249 
L 434.2 253.30 
L 435 255 
L 435.6 254.99 
L 437 253.38 
L 437 253 
L 439 249 
L 439.8 249.15 
L 441 251 
L 441.2 250.70 
L 443 253 
L 443.90 257.22 
L 444 256.83 
L 445 256 
L 445.85 260.15 
L 446.8 259.68 
L 447 259 
L 447.81 257.22 
L 448.2 257.18 
L 449.6 255.36 
L 449.76 256.25 
L 451 257.54 
L 451.71 260.15 
L 452.4 260.95 
L 452.69 262.10 
L 453.8 259.61 
L 454.64 258.20 
L 455.2 256.75 
L 456.6 254.01 
L 456.60 254.29 
L 458 255.54 
L 458.55 256.25 
L 460.8 253.92 
L 462.46 253.32 
L 463.6 254.96 
L 464.41 254.29 
L 465 255.81 
L 466.4 255.32 
L 467.8 256.03 
L 468.32 257.22 
L 469.2 257.34 
L 470.27 258.20 
L 472 258.58 
L 472.22 259.17 
L 473.4 259.25 
L 474.17 260.15 
L 474.8 260.41 
L 476.13 262.10 
L 476.2 261.50 
L 477.6 263.50 
L 478.08 265.03 
L 479 262.70 
L 480.03 262.10 
L 480.4 260.27 
L 481.8 259.05 
L 481.99 260.15 
L 483.2 260.85 
L 483.94 262.10 
L 484.6 262.69 
L 485.89 264.06 
L 486 263.53 
L 487.4 262.30 
L 487.85 263.08 
L 488.8 262.62 
L 489.80 263.08 
L 490.2 263.68 
L 491.6 264.42 
L 491.75 264.06 
L 493 264.56 
L 493.71 265.03 
L 494.4 264.40 
L 495.66 264.06 
L 495.8 264.14 
L 497.2 265.19 
L 497.61 266.01 
L 498.6 265.61 
L 499.57 266.99 
L 500 266.02 
L 501.4 264.80 
L 501.52 264.06 
L 502.8 262.24 
L 503.47 260.15 
L 504.2 260.28 
L 505.42 259.17 
L 505.6 259.70 
L 507.38 262.10 
L 509.33 266.99 
L 511.2 272.99 
L 511.28 271.87 
L 512.6 274.68 
L 513.24 274.80 
L 514 275.48 
L 515.4 276.98 
L 516.8 279.59 
L 517.14 279.68 
L 518.2 280.75 
L 519.10 280.66 
L 519.6 280.05 
L 521 278.69 
L 521.05 279.68 
L 522.4 280.48 
L 523.00 281.64 
L 524.96 282.61 
L 525.2 283.22 
L 526.6 284.99 
L 526.91 284.57 
L 528 287.37 
L 528.86 283.59 
L 529.84 275.78 
L 530.8 270.87 
L 530.82 270.89 
L 531.79 271.87 
L 532.2 274.94 
L 532.77 277.73 
L 533.6 283.26 
L 533.75 282.61 
L 535 284.11 
L 535.5 283.59 
L 535.5 283.59 
" clip-path="url(#pb78dd19eea)" style="fill: none; stroke: #1a1a1a; stroke-width: 1.2; stroke-linecap: square"/>
</g>
<g id="line2d_56">
<path d="M 312.35 201 
L 312.4 201 
L 312.4 201 
L 314.36 200.45 
L 318.72 201.54 
L 321.45 205.35 
L 322.54 206.99 
L 324.72 211.35 
L 325.81 212.44 
L 327.99 213.53 
L 329.2 212.21 
L 331.26 208.08 
L 332.35 206.99 
L 333.44 209.17 
L 334.53 209.72 
L 335.62 208.63 
L 336.71 206.99 
L 337.80 205.90 
L 339.44 205.57 
L 343.2 207.11 
L 344.89 207.54 
L 349.25 204.26 
L 351.6 201.48 
L 353.07 200.99 
L 355.80 203.72 
L 358.6 205.22 
L 359.61 205.90 
L 361.25 204.26 
L 362.8 207.90 
L 363.43 209.17 
L 364.52 208.08 
L 365.61 204.81 
L 367 202.19 
L 368.05 200.45 
L 368.88 201.54 
L 369.36 203.72 
L 369.90 205.35 
L 371.2 207.33 
L 373.72 211.35 
L 374.81 212.44 
L 375.90 210.81 
L 378.08 208.63 
L 379.17 210.26 
L 381 211.94 
L 381.35 212.23 
L 382.44 211.35 
L 383.53 210.81 
L 384.62 211.90 
L 386.26 212.44 
L 387.35 211.35 
L 388.44 210.81 
L 389.53 211.90 
L 391.17 211.35 
L 392.80 212.44 
L 394.44 212.99 
L 396.4 213.10 
L 397.8 213.48 
L 399.35 212.44 
L 400.44 211.35 
L 402.07 211.35 
L 406.98 208.08 
L 409.71 205.35 
L 410.80 205.90 
L 414.07 209.17 
L 416.25 210.26 
L 418.43 210.26 
L 420.54 211.90 
L 420.61 210.81 
L 423.27 211.90 
L 426.54 211.35 
L 428.72 209.17 
L 429.81 208.63 
L 432.8 211.53 
L 434.2 212.45 
L 436.35 213.32 
L 439.08 212.44 
L 440.71 210.81 
L 441.81 211.35 
L 442.90 212.44 
L 445.4 216.03 
L 446.17 216.81 
L 447.26 215.17 
L 448.35 212.44 
L 449.6 210.76 
L 452.71 209.72 
L 454.35 210.04 
L 455.98 209.17 
L 457.62 209.72 
L 459.4 210.84 
L 460.89 211.13 
L 462.52 209.17 
L 463.62 208.08 
L 464.71 208.63 
L 465.80 210.26 
L 467.98 211.35 
L 476.70 211.35 
L 479.06 212.03 
L 480.4 212.70 
L 481.01 212.61 
L 481.8 213.34 
L 482.96 213.59 
L 483.2 213.84 
L 484.92 214.57 
L 486 214.07 
L 486.87 214.57 
L 487.4 213.51 
L 488.8 213.22 
L 488.82 213.59 
L 490.2 213.95 
L 490.78 213.59 
L 491.6 214.10 
L 492.73 214.57 
L 493 214.01 
L 494.4 214.07 
L 494.68 214.57 
L 496.64 215.54 
L 497.2 215.98 
L 498.59 217.5 
L 498.6 216.43 
L 500 215.58 
L 500.54 216.52 
L 501.4 215.46 
L 502.5 213.59 
L 502.8 214.98 
L 504.2 213.19 
L 504.45 211.64 
L 505.6 212.64 
L 506.40 212.61 
L 507 213.33 
L 508.35 211.64 
L 508.4 213.05 
L 510.31 213.59 
L 511.28 217.5 
L 512.26 213.59 
L 512.6 213.69 
L 514 210.98 
L 514.21 209.68 
L 515.4 210.67 
L 516.17 210.66 
L 516.8 212.07 
L 518.12 213.59 
L 518.2 215.10 
L 519.6 215.36 
L 520.07 213.59 
L 521 215.57 
L 522.03 215.54 
L 522.4 216.25 
L 523.8 218.26 
L 523.98 219.45 
L 525.2 222.20 
L 525.93 224.33 
L 526.91 221.40 
L 527.89 217.5 
L 528 217.85 
L 529.4 217.18 
L 529.84 216.52 
L 530.8 214.58 
L 531.79 213.59 
L 532.2 212.99 
L 533.6 214.88 
L 533.75 215.54 
L 535 216.46 
L 535.5 217.5 
L 535.5 217.5 
" clip-path="url(#pb78dd19eea)" style="fill: none; stroke: #1a1a1a; stroke-width: 1.2; stroke-linecap: square"/>
</g>
<g id="patch_14">
<path d="M 50.2 377.6 
L 50.2 155.2 
" style="fill: none; stroke: #000000; stroke-linejoin: miter; stroke-linecap: square"/>
</g>
<g id="patch_15">
<path d="M 535.5 377.6 
L 535.5 155.2 
" style="fill: none; stroke: #000000; stroke-linejoin: miter; stroke-linecap: square"/>
</g>
<g id="patch_16">
<path d="M 50.2 377.6 
L 535.5 377.6 
" style="fill: none; stroke: #000000; stroke-linejoin: miter; stroke-linecap: square"/>
</g>
<g id="patch_17">
<path d="M 50.2 155.2 
L 535.5 155.2 
" style="fill: none; stroke: #000000; stroke-linejoin: miter; stroke-linecap: square"/>
</g>
<g id="matplotlib.axis_5">
<g id="xtick_23">
<g id="line2d_57">
<g>
<path d="M 0 0 
L 0 3.5 
" transform="translate(50.2 377.6)" style="stroke: #000000"/>
</g>
</g>
<g id="text_11">
<text style="font-size: 9.85px; font-family: 'DejaVu Sans', sans-serif; text-anchor: middle; stroke: #000000; stroke-width: 0.3px" x="50.2" y="392.78" transform="rotate(-0 50.2 392.78)">1000</text>
</g>
</g>
<g id="xtick_24">
<g id="line2d_58">
<g>
<path d="M 0 0 
L 0 3.5 
" transform="translate(98.73 377.6)" style="stroke: #000000"/>
</g>
</g>
<g id="text_12">
<text style="font-size: 9.85px; font-family: 'DejaVu Sans', sans-serif; text-anchor: middle; stroke: #000000; stroke-width: 0.3px" x="98.73" y="392.78" transform="rotate(-0 98.73 392.78)">1100</text>
</g>
</g>
<g id="xtick_25">
<g id="line2d_59">
<g>
<path d="M 0 0 
L 0 3.5 
" transform="translate(147.26 377.6)" style="stroke: #000000"/>
</g>
</g>
<g id="text_13">
<text style="font-size: 9.85px; font-family: 'DejaVu Sans', sans-serif; text-anchor: middle; stroke: #000000; stroke-width: 0.3px" x="147.26" y="392.78" transform="rotate(-0 147.26 392.78)">1200</text>
</g>
</g>
<g id="xtick_26">
<g id="line2d_60">
<g>
<path d="M 0 0 
L 0 3.5 
" transform="translate(195.79 377.6)" style="stroke: #000000"/>
</g>
</g>
<g id="text_14">
<text style="font-size: 9.85px; font-family: 'DejaVu Sans', sans-serif; text-anchor: middle; stroke: #000000; stroke-width: 0.3px" x="195.79" y="392.78" transform="rotate(-0 195.79 392.78)">1300</text>
</g>
</g>
<g id="xtick_27">
<g id="line2d_61">
<g>
<path d="M 0 0 
L 0 3.5 
" transform="translate(244.32 377.6)" style="stroke: #000000"/>
</g>
</g>
<g id="text_15">
<text style="font-size: 9.85px; font-family: 'DejaVu Sans', sans-serif; text-anchor: middle; stroke: #000000; stroke-width: 0.3px" x="244.32" y="392.78" transform="rotate(-0 244.32 392.78)">1400</text>
</g>
</g>
<g id="xtick_28">
<g id="line2d_62">
<g>
<path d="M 0 0 
L 0 3.5 
" transform="translate(292.85 377.6)" style="stroke: #000000"/>
</g>
</g>
<g id="text_16">
<text style="font-size: 9.85px; font-family: 'DejaVu Sans', sans-serif; text-anchor: middle; stroke: #000000; stroke-width: 0.3px" x="292.85" y="392.78" transform="rotate(-0 292.85 392.78)">1500</text>
</g>
</g>
<g id="xtick_29">
<g id="line2d_63">
<g>
<path d="M 0 0 
L 0 3.5 
" transform="translate(341.38 377.6)" style="stroke: #000000"/>
</g>
</g>
<g id="text_17">
<text style="font-size: 9.85px; font-family: 'DejaVu Sans', sans-serif; text-anchor: middle; stroke: #000000; stroke-width: 0.3px" x="341.38" y="392.78" transform="rotate(-0 341.38 392.78)">1600</text>
</g>
</g>
<g id="xtick_30">
<g id="line2d_64">
<g>
<path d="M 0 0 
L 0 3.5 
" transform="translate(389.91 377.6)" style="stroke: #000000"/>
</g>
</g>
<g id="text_18">
<text style="font-size: 9.85px; font-family: 'DejaVu Sans', sans-serif; text-anchor: middle; stroke: #000000; stroke-width: 0.3px" x="389.91" y="392.78" transform="rotate(-0 389.91 392.78)">1700</text>
</g>
</g>
<g id="xtick_31">
<g id="line2d_65">
<g>
<path d="M 0 0 
L 0 3.5 
" transform="translate(438.44 377.6)" style="stroke: #000000"/>
</g>
</g>
<g id="text_19">
<text style="font-size: 9.85px; font-family: 'DejaVu Sans', sans-serif; text-anchor: middle; stroke: #000000; stroke-width: 0.3px" x="438.44" y="392.78" transform="rotate(-0 438.44 392.78)">1800</text>
</g>
</g>
<g id="xtick_32">
<g id="line2d_66">
<g>
<path d="M 0 0 
L 0 3.5 
" transform="translate(486.97 377.6)" style="stroke: #000000"/>
</g>
</g>
<g id="text_20">
<text style="font-size: 9.85px; font-family: 'DejaVu Sans', sans-serif; text-anchor: middle; stroke: #000000; stroke-width: 0.3px" x="486.97" y="392.78" transform="rotate(-0 486.97 392.78)">1900</text>
</g>
</g>
<g id="xtick_33">
<g id="line2d_67">
<g>
<path d="M 0 0 
L 0 3.5 
" transform="translate(535.5 377.6)" style="stroke: #000000"/>
</g>
</g>
<g id="text_21">
<text style="font-size: 9.85px; font-family: 'DejaVu Sans', sans-serif; text-anchor: middle; stroke: #000000; stroke-width: 0.3px" x="535.5" y="392.78" transform="rotate(-0 535.5 392.78)">2000</text>
</g>
</g>
<g id="text_22">
<text style="font-size: 9.85px; font-family: 'DejaVu Sans', sans-serif; text-anchor: middle; stroke: #000000; stroke-width: 0.3px" x="292.85" y="406.31" transform="rotate(-0 292.85 406.31)">Distance [m]</text>
</g>
</g>
<g id="matplotlib.axis_6">
<g id="ytick_5">
<g id="line2d_68">
<g>
<path d="M 0 0 
L -3.5 0 
" transform="translate(50.2 155.2)" style="stroke: #000000"/>
</g>
</g>
<g id="text_23">
<text style="font-size: 9.85px; font-family: 'DejaVu Sans', sans-serif; text-anchor: end; stroke: #000000; stroke-width: 0.3px" x="42.7" y="158.94" transform="rotate(-0 42.7 158.94)">0</text>
</g>
</g>
<g id="ytick_6">
<g id="line2d_69">
<g>
<path d="M 0 0 
L -3.5 0 
" transform="translate(50.2 199.68)" style="stroke: #000000"/>
</g>
</g>
<g id="text_24">
<text style="font-size: 9.85px; font-family: 'DejaVu Sans', sans-serif; text-anchor: end; stroke: #000000; stroke-width: 0.3px" x="42.7" y="203.42" transform="rotate(-0 42.7 203.42)">100</text>
</g>
</g>
<g id="ytick_7">
<g id="line2d_70">
<g>
<path d="M 0 0 
L -3.5 0 
" transform="translate(50.2 244.16)" style="stroke: #000000"/>
</g>
</g>
<g id="text_25">
<text style="font-size: 9.85px; font-family: 'DejaVu Sans', sans-serif; text-anchor: end; stroke: #000000; stroke-width: 0.3px" x="42.7" y="247.90" transform="rotate(-0 42.7 247.90)">200</text>
</g>
</g>
<g id="ytick_8">
<g id="line2d_71">
<g>
<path d="M 0 0 
L -3.5 0 
" transform="translate(50.2 288.64)" style="stroke: #000000"/>
</g>
</g>
<g id="text_26">
<text style="font-size: 9.85px; font-family: 'DejaVu Sans', sans-serif; text-anchor: end; stroke: #000000; stroke-width: 0.3px" x="42.7" y="292.38" transform="rotate(-0 42.7 292.38)">300</text>
</g>
</g>
<g id="ytick_9">
<g id="line2d_72">
<g>
<path d="M 0 0 
L -3.5 0 
" transform="translate(50.2 333.12)" style="stroke: #000000"/>
</g>
</g>
<g id="text_27">
<text style="font-size: 9.85px; font-family: 'DejaVu Sans', sans-serif; text-anchor: end; stroke: #000000; stroke-width: 0.3px" x="42.7" y="336.86" transform="rotate(-0 42.7 336.86)">400</text>
</g>
</g>
<g id="ytick_10">
<g id="line2d_73">
<g>
<path d="M 0 0 
L -3.5 0 
" transform="translate(50.2 377.6)" style="stroke: #000000"/>
</g>
</g>
<g id="text_28">
<text style="font-size: 9.85px; font-family: 'DejaVu Sans', sans-serif; text-anchor: end; stroke: #000000; stroke-width: 0.3px" x="42.7" y="381.34" transform="rotate(-0 42.7 381.34)">500</text>
</g>
</g>
<g id="text_29">
<text style="font-size: 9.85px; font-family: 'DejaVu Sans', sans-serif; text-anchor: middle; stroke: #000000; stroke-width: 0.3px" x="18.85" y="266.4" transform="rotate(-90 18.85 266.4)">Depth [mm]</text>
</g>
</g>
<g id="line2d_74">
<path d="M 98.73 377.6 
L 98.73 155.2 
" clip-path="url(#pb78dd19eea)" style="fill: none; stroke-dasharray: 4.80,1.27,0.80,1.27; stroke-dashoffset: 0; stroke: #3c3c3c; stroke-opacity: 0.8; stroke-width: 0.85"/>
</g>
<g id="line2d_75">
<path d="M 147.26 377.6 
L 147.26 155.2 
" clip-path="url(#pb78dd19eea)" style="fill: none; stroke-dasharray: 4.80,1.27,0.80,1.27; stroke-dashoffset: 0; stroke: #3c3c3c; stroke-opacity: 0.8; stroke-width: 0.85"/>
</g>
<g id="line2d_76">
<path d="M 195.79 377.6 
L 195.79 155.2 
" clip-path="url(#pb78dd19eea)" style="fill: none; stroke-dasharray: 4.80,1.27,0.80,1.27; stroke-dashoffset: 0; stroke: #3c3c3c; stroke-opacity: 0.8; stroke-width: 0.85"/>
</g>
<g id="line2d_77">
<path d="M 244.32 377.6 
L 244.32 155.2 
" clip-path="url(#pb78dd19eea)" style="fill: none; stroke-dasharray: 4.80,1.27,0.80,1.27; stroke-dashoffset: 0; stroke: #3c3c3c; stroke-opacity: 0.8; stroke-width: 0.85"/>
</g>
<g id="line2d_78">
<path d="M 292.85 377.6 
L 292.85 155.2 
" clip-path="url(#pb78dd19eea)" style="fill: none; stroke-dasharray: 4.80,1.27,0.80,1.27; stroke-dashoffset: 0; stroke: #3c3c3c; stroke-opacity: 0.8; stroke-width: 0.85"/>
</g>
<g id="line2d_79">
<path d="M 341.38 377.6 
L 341.38 155.2 
" clip-path="url(#pb78dd19eea)" style="fill: none; stroke-dasharray: 4.80,1.27,0.80,1.27; stroke-dashoffset: 0; stroke: #3c3c3c; stroke-opacity: 0.8; stroke-width: 0.85"/>
</g>
<g id="line2d_80">
<path d="M 389.91 377.6 
L 389.91 155.2 
" clip-path="url(#pb78dd19eea)" style="fill: none; stroke-dasharray: 4.80,1.27,0.80,1.27; stroke-dashoffset: 0; stroke: #3c3c3c; stroke-opacity: 0.8; stroke-width: 0.85"/>
</g>
<g id="line2d_81">
<path d="M 438.44 377.6 
L 438.44 155.2 
" clip-path="url(#pb78dd19eea)" style="fill: none; stroke-dasharray: 4.80,1.27,0.80,1.27; stroke-dashoffset: 0; stroke: #3c3c3c; stroke-opacity: 0.8; stroke-width: 0.85"/>
</g>
<g id="line2d_82">
<path d="M 486.97 377.6 
L 486.97 155.2 
" clip-path="url(#pb78dd19eea)" style="fill: none; stroke-dasharray: 4.80,1.27,0.80,1.27; stroke-dashoffset: 0; stroke: #3c3c3c; stroke-opacity: 0.8; stroke-width: 0.85"/>
</g>
<g id="line2d_83">
<path d="M 50.2 199.3 
L 62.33 202.6 
L 74.46 207.2 
L 86.59 208.6 
L 98.73 206.2 
L 110.86 202.4 
L 122.99 182 
L 135.12 180.4 
L 147.26 176.4 
L 159.39 177.5 
L 171.52 190 
L 183.65 194 
L 195.79 206 
L 207.92 250 
L 220.05 266.4 
L 232.18 260.6 
L 244.32 246 
L 256.45 232 
L 268.58 205 
L 280.71 199 
L 292.85 198.6 
L 304.98 198.4 
L 317.11 199.4 
L 329.24 199.4 
L 341.38 204 
L 353.51 206 
L 365.64 220.6 
L 377.77 223.4 
L 389.91 222 
L 402.04 219.6 
L 414.17 212.6 
L 426.30 214 
L 438.44 216 
L 450.57 220.3 
L 462.70 213.6 
L 474.83 211.6 
L 486.97 212 
L 499.10 218.1 
L 511.23 202.5 
L 523.36 211 
L 535.5 212 
" clip-path="url(#pb78dd19eea)" style="fill: none; stroke: #000000; stroke-width: 4.6; stroke-linecap: square"/>
<path d="M 50.2 199.3 
L 62.33 202.6 
L 74.46 207.2 
L 86.59 208.6 
L 98.73 206.2 
L 110.86 202.4 
L 122.99 182 
L 135.12 180.4 
L 147.26 176.4 
L 159.39 177.5 
L 171.52 190 
L 183.65 194 
L 195.79 206 
L 207.92 250 
L 220.05 266.4 
L 232.18 260.6 
L 244.32 246 
L 256.45 232 
L 268.58 205 
L 280.71 199 
L 292.85 198.6 
L 304.98 198.4 
L 317.11 199.4 
L 329.24 199.4 
L 341.38 204 
L 353.51 206 
L 365.64 220.6 
L 377.77 223.4 
L 389.91 222 
L 402.04 219.6 
L 414.17 212.6 
L 426.30 214 
L 438.44 216 
L 450.57 220.3 
L 462.70 213.6 
L 474.83 211.6 
L 486.97 212 
L 499.10 218.1 
L 511.23 202.5 
L 523.36 211 
L 535.5 212 
" clip-path="url(#pb78dd19eea)" style="fill: none; stroke: #ff8515; stroke-width: 2.1; stroke-linecap: square"/>
</g>
<g id="line2d_84">
<path d="M 50.2 265.4 
L 62.33 273.4 
L 74.46 269.6 
L 86.59 273 
L 98.73 267.6 
L 110.86 259.6 
L 122.99 289 
L 135.12 279.6 
L 147.26 260.4 
L 159.39 267 
L 171.52 240.4 
L 183.65 251 
L 195.79 280.4 
L 207.92 317.9 
L 220.05 345.4 
L 232.18 350.2 
L 244.32 323.6 
L 256.45 297 
L 268.58 280 
L 280.71 264 
L 292.85 263.6 
L 304.98 262.6 
L 317.11 290.8 
L 329.24 289.6 
L 341.38 303.7 
L 353.51 310.7 
L 365.64 286.3 
L 377.77 291.6 
L 389.91 288.8 
L 402.04 284 
L 414.17 293.2 
L 426.30 296.3 
L 438.44 301.7 
L 450.57 311.9 
L 462.70 315.2 
L 474.83 309.7 
L 486.97 310.4 
L 499.10 327.7 
L 511.23 313 
L 523.36 340.4 
L 535.5 342.6 
" clip-path="url(#pb78dd19eea)" style="fill: none; stroke: #000000; stroke-width: 4.6; stroke-linecap: square"/>
<path d="M 50.2 265.4 
L 62.33 273.4 
L 74.46 269.6 
L 86.59 273 
L 98.73 267.6 
L 110.86 259.6 
L 122.99 289 
L 135.12 279.6 
L 147.26 260.4 
L 159.39 267 
L 171.52 240.4 
L 183.65 251 
L 195.79 280.4 
L 207.92 317.9 
L 220.05 345.4 
L 232.18 350.2 
L 244.32 323.6 
L 256.45 297 
L 268.58 280 
L 280.71 264 
L 292.85 263.6 
L 304.98 262.6 
L 317.11 290.8 
L 329.24 289.6 
L 341.38 303.7 
L 353.51 310.7 
L 365.64 286.3 
L 377.77 291.6 
L 389.91 288.8 
L 402.04 284 
L 414.17 293.2 
L 426.30 296.3 
L 438.44 301.7 
L 450.57 311.9 
L 462.70 315.2 
L 474.83 309.7 
L 486.97 310.4 
L 499.10 327.7 
L 511.23 313 
L 523.36 340.4 
L 535.5 342.6 
" clip-path="url(#pb78dd19eea)" style="fill: none; stroke: #1b80c4; stroke-width: 2.1; stroke-linecap: square"/>
</g>
<g id="line2d_85">
<g clip-path="url(#pb78dd19eea)">
<path d="M 0 3.15 
C 0.83 3.15 1.63 2.81 2.22 2.22 
C 2.81 1.63 3.15 0.83 3.15 0 
C 3.15 -0.83 2.81 -1.63 2.22 -2.22 
C 1.63 -2.81 0.83 -3.15 0 -3.15 
C -0.83 -3.15 -1.63 -2.81 -2.22 -2.22 
C -2.81 -1.63 -3.15 -0.83 -3.15 0 
C -3.15 0.83 -2.81 1.63 -2.22 2.22 
C -1.63 2.81 -0.83 3.15 0 3.15 
z
" transform="translate(50.2 199.3)" style="fill: #ff8515; stroke: #000000; stroke-width: 1.1"/>
<path d="M 0 3.15 
C 0.83 3.15 1.63 2.81 2.22 2.22 
C 2.81 1.63 3.15 0.83 3.15 0 
C 3.15 -0.83 2.81 -1.63 2.22 -2.22 
C 1.63 -2.81 0.83 -3.15 0 -3.15 
C -0.83 -3.15 -1.63 -2.81 -2.22 -2.22 
C -2.81 -1.63 -3.15 -0.83 -3.15 0 
C -3.15 0.83 -2.81 1.63 -2.22 2.22 
C -1.63 2.81 -0.83 3.15 0 3.15 
z
" transform="translate(62.33 202.6)" style="fill: #ff8515; stroke: #000000; stroke-width: 1.1"/>
<path d="M 0 3.15 
C 0.83 3.15 1.63 2.81 2.22 2.22 
C 2.81 1.63 3.15 0.83 3.15 0 
C 3.15 -0.83 2.81 -1.63 2.22 -2.22 
C 1.63 -2.81 0.83 -3.15 0 -3.15 
C -0.83 -3.15 -1.63 -2.81 -2.22 -2.22 
C -2.81 -1.63 -3.15 -0.83 -3.15 0 
C -3.15 0.83 -2.81 1.63 -2.22 2.22 
C -1.63 2.81 -0.83 3.15 0 3.15 
z
" transform="translate(74.46 207.2)" style="fill: #ff8515; stroke: #000000; stroke-width: 1.1"/>
<path d="M 0 3.15 
C 0.83 3.15 1.63 2.81 2.22 2.22 
C 2.81 1.63 3.15 0.83 3.15 0 
C 3.15 -0.83 2.81 -1.63 2.22 -2.22 
C 1.63 -2.81 0.83 -3.15 0 -3.15 
C -0.83 -3.15 -1.63 -2.81 -2.22 -2.22 
C -2.81 -1.63 -3.15 -0.83 -3.15 0 
C -3.15 0.83 -2.81 1.63 -2.22 2.22 
C -1.63 2.81 -0.83 3.15 0 3.15 
z
" transform="translate(86.59 208.6)" style="fill: #ff8515; stroke: #000000; stroke-width: 1.1"/>
<path d="M 0 3.15 
C 0.83 3.15 1.63 2.81 2.22 2.22 
C 2.81 1.63 3.15 0.83 3.15 0 
C 3.15 -0.83 2.81 -1.63 2.22 -2.22 
C 1.63 -2.81 0.83 -3.15 0 -3.15 
C -0.83 -3.15 -1.63 -2.81 -2.22 -2.22 
C -2.81 -1.63 -3.15 -0.83 -3.15 0 
C -3.15 0.83 -2.81 1.63 -2.22 2.22 
C -1.63 2.81 -0.83 3.15 0 3.15 
z
" transform="translate(98.73 206.2)" style="fill: #ff8515; stroke: #000000; stroke-width: 1.1"/>
<path d="M 0 3.15 
C 0.83 3.15 1.63 2.81 2.22 2.22 
C 2.81 1.63 3.15 0.83 3.15 0 
C 3.15 -0.83 2.81 -1.63 2.22 -2.22 
C 1.63 -2.81 0.83 -3.15 0 -3.15 
C -0.83 -3.15 -1.63 -2.81 -2.22 -2.22 
C -2.81 -1.63 -3.15 -0.83 -3.15 0 
C -3.15 0.83 -2.81 1.63 -2.22 2.22 
C -1.63 2.81 -0.83 3.15 0 3.15 
z
" transform="translate(110.86 202.4)" style="fill: #ff8515; stroke: #000000; stroke-width: 1.1"/>
<path d="M 0 3.15 
C 0.83 3.15 1.63 2.81 2.22 2.22 
C 2.81 1.63 3.15 0.83 3.15 0 
C 3.15 -0.83 2.81 -1.63 2.22 -2.22 
C 1.63 -2.81 0.83 -3.15 0 -3.15 
C -0.83 -3.15 -1.63 -2.81 -2.22 -2.22 
C -2.81 -1.63 -3.15 -0.83 -3.15 0 
C -3.15 0.83 -2.81 1.63 -2.22 2.22 
C -1.63 2.81 -0.83 3.15 0 3.15 
z
" transform="translate(122.99 182)" style="fill: #ff8515; stroke: #000000; stroke-width: 1.1"/>
<path d="M 0 3.15 
C 0.83 3.15 1.63 2.81 2.22 2.22 
C 2.81 1.63 3.15 0.83 3.15 0 
C 3.15 -0.83 2.81 -1.63 2.22 -2.22 
C 1.63 -2.81 0.83 -3.15 0 -3.15 
C -0.83 -3.15 -1.63 -2.81 -2.22 -2.22 
C -2.81 -1.63 -3.15 -0.83 -3.15 0 
C -3.15 0.83 -2.81 1.63 -2.22 2.22 
C -1.63 2.81 -0.83 3.15 0 3.15 
z
" transform="translate(135.12 180.4)" style="fill: #ff8515; stroke: #000000; stroke-width: 1.1"/>
<path d="M 0 3.15 
C 0.83 3.15 1.63 2.81 2.22 2.22 
C 2.81 1.63 3.15 0.83 3.15 0 
C 3.15 -0.83 2.81 -1.63 2.22 -2.22 
C 1.63 -2.81 0.83 -3.15 0 -3.15 
C -0.83 -3.15 -1.63 -2.81 -2.22 -2.22 
C -2.81 -1.63 -3.15 -0.83 -3.15 0 
C -3.15 0.83 -2.81 1.63 -2.22 2.22 
C -1.63 2.81 -0.83 3.15 0 3.15 
z
" transform="translate(147.26 176.4)" style="fill: #ff8515; stroke: #000000; stroke-width: 1.1"/>
<path d="M 0 3.15 
C 0.83 3.15 1.63 2.81 2.22 2.22 
C 2.81 1.63 3.15 0.83 3.15 0 
C 3.15 -0.83 2.81 -1.63 2.22 -2.22 
C 1.63 -2.81 0.83 -3.15 0 -3.15 
C -0.83 -3.15 -1.63 -2.81 -2.22 -2.22 
C -2.81 -1.63 -3.15 -0.83 -3.15 0 
C -3.15 0.83 -2.81 1.63 -2.22 2.22 
C -1.63 2.81 -0.83 3.15 0 3.15 
z
" transform="translate(159.39 177.5)" style="fill: #ff8515; stroke: #000000; stroke-width: 1.1"/>
<path d="M 0 3.15 
C 0.83 3.15 1.63 2.81 2.22 2.22 
C 2.81 1.63 3.15 0.83 3.15 0 
C 3.15 -0.83 2.81 -1.63 2.22 -2.22 
C 1.63 -2.81 0.83 -3.15 0 -3.15 
C -0.83 -3.15 -1.63 -2.81 -2.22 -2.22 
C -2.81 -1.63 -3.15 -0.83 -3.15 0 
C -3.15 0.83 -2.81 1.63 -2.22 2.22 
C -1.63 2.81 -0.83 3.15 0 3.15 
z
" transform="translate(171.52 190)" style="fill: #ff8515; stroke: #000000; stroke-width: 1.1"/>
<path d="M 0 3.15 
C 0.83 3.15 1.63 2.81 2.22 2.22 
C 2.81 1.63 3.15 0.83 3.15 0 
C 3.15 -0.83 2.81 -1.63 2.22 -2.22 
C 1.63 -2.81 0.83 -3.15 0 -3.15 
C -0.83 -3.15 -1.63 -2.81 -2.22 -2.22 
C -2.81 -1.63 -3.15 -0.83 -3.15 0 
C -3.15 0.83 -2.81 1.63 -2.22 2.22 
C -1.63 2.81 -0.83 3.15 0 3.15 
z
" transform="translate(183.65 194)" style="fill: #ff8515; stroke: #000000; stroke-width: 1.1"/>
<path d="M 0 3.15 
C 0.83 3.15 1.63 2.81 2.22 2.22 
C 2.81 1.63 3.15 0.83 3.15 0 
C 3.15 -0.83 2.81 -1.63 2.22 -2.22 
C 1.63 -2.81 0.83 -3.15 0 -3.15 
C -0.83 -3.15 -1.63 -2.81 -2.22 -2.22 
C -2.81 -1.63 -3.15 -0.83 -3.15 0 
C -3.15 0.83 -2.81 1.63 -2.22 2.22 
C -1.63 2.81 -0.83 3.15 0 3.15 
z
" transform="translate(195.79 206)" style="fill: #ff8515; stroke: #000000; stroke-width: 1.1"/>
<path d="M 0 3.15 
C 0.83 3.15 1.63 2.81 2.22 2.22 
C 2.81 1.63 3.15 0.83 3.15 0 
C 3.15 -0.83 2.81 -1.63 2.22 -2.22 
C 1.63 -2.81 0.83 -3.15 0 -3.15 
C -0.83 -3.15 -1.63 -2.81 -2.22 -2.22 
C -2.81 -1.63 -3.15 -0.83 -3.15 0 
C -3.15 0.83 -2.81 1.63 -2.22 2.22 
C -1.63 2.81 -0.83 3.15 0 3.15 
z
" transform="translate(207.92 250)" style="fill: #ff8515; stroke: #000000; stroke-width: 1.1"/>
<path d="M 0 3.15 
C 0.83 3.15 1.63 2.81 2.22 2.22 
C 2.81 1.63 3.15 0.83 3.15 0 
C 3.15 -0.83 2.81 -1.63 2.22 -2.22 
C 1.63 -2.81 0.83 -3.15 0 -3.15 
C -0.83 -3.15 -1.63 -2.81 -2.22 -2.22 
C -2.81 -1.63 -3.15 -0.83 -3.15 0 
C -3.15 0.83 -2.81 1.63 -2.22 2.22 
C -1.63 2.81 -0.83 3.15 0 3.15 
z
" transform="translate(220.05 266.4)" style="fill: #ff8515; stroke: #000000; stroke-width: 1.1"/>
<path d="M 0 3.15 
C 0.83 3.15 1.63 2.81 2.22 2.22 
C 2.81 1.63 3.15 0.83 3.15 0 
C 3.15 -0.83 2.81 -1.63 2.22 -2.22 
C 1.63 -2.81 0.83 -3.15 0 -3.15 
C -0.83 -3.15 -1.63 -2.81 -2.22 -2.22 
C -2.81 -1.63 -3.15 -0.83 -3.15 0 
C -3.15 0.83 -2.81 1.63 -2.22 2.22 
C -1.63 2.81 -0.83 3.15 0 3.15 
z
" transform="translate(232.18 260.6)" style="fill: #ff8515; stroke: #000000; stroke-width: 1.1"/>
<path d="M 0 3.15 
C 0.83 3.15 1.63 2.81 2.22 2.22 
C 2.81 1.63 3.15 0.83 3.15 0 
C 3.15 -0.83 2.81 -1.63 2.22 -2.22 
C 1.63 -2.81 0.83 -3.15 0 -3.15 
C -0.83 -3.15 -1.63 -2.81 -2.22 -2.22 
C -2.81 -1.63 -3.15 -0.83 -3.15 0 
C -3.15 0.83 -2.81 1.63 -2.22 2.22 
C -1.63 2.81 -0.83 3.15 0 3.15 
z
" transform="translate(244.32 246)" style="fill: #ff8515; stroke: #000000; stroke-width: 1.1"/>
<path d="M 0 3.15 
C 0.83 3.15 1.63 2.81 2.22 2.22 
C 2.81 1.63 3.15 0.83 3.15 0 
C 3.15 -0.83 2.81 -1.63 2.22 -2.22 
C 1.63 -2.81 0.83 -3.15 0 -3.15 
C -0.83 -3.15 -1.63 -2.81 -2.22 -2.22 
C -2.81 -1.63 -3.15 -0.83 -3.15 0 
C -3.15 0.83 -2.81 1.63 -2.22 2.22 
C -1.63 2.81 -0.83 3.15 0 3.15 
z
" transform="translate(256.45 232)" style="fill: #ff8515; stroke: #000000; stroke-width: 1.1"/>
<path d="M 0 3.15 
C 0.83 3.15 1.63 2.81 2.22 2.22 
C 2.81 1.63 3.15 0.83 3.15 0 
C 3.15 -0.83 2.81 -1.63 2.22 -2.22 
C 1.63 -2.81 0.83 -3.15 0 -3.15 
C -0.83 -3.15 -1.63 -2.81 -2.22 -2.22 
C -2.81 -1.63 -3.15 -0.83 -3.15 0 
C -3.15 0.83 -2.81 1.63 -2.22 2.22 
C -1.63 2.81 -0.83 3.15 0 3.15 
z
" transform="translate(268.58 205)" style="fill: #ff8515; stroke: #000000; stroke-width: 1.1"/>
<path d="M 0 3.15 
C 0.83 3.15 1.63 2.81 2.22 2.22 
C 2.81 1.63 3.15 0.83 3.15 0 
C 3.15 -0.83 2.81 -1.63 2.22 -2.22 
C 1.63 -2.81 0.83 -3.15 0 -3.15 
C -0.83 -3.15 -1.63 -2.81 -2.22 -2.22 
C -2.81 -1.63 -3.15 -0.83 -3.15 0 
C -3.15 0.83 -2.81 1.63 -2.22 2.22 
C -1.63 2.81 -0.83 3.15 0 3.15 
z
" transform="translate(280.71 199)" style="fill: #ff8515; stroke: #000000; stroke-width: 1.1"/>
<path d="M 0 3.15 
C 0.83 3.15 1.63 2.81 2.22 2.22 
C 2.81 1.63 3.15 0.83 3.15 0 
C 3.15 -0.83 2.81 -1.63 2.22 -2.22 
C 1.63 -2.81 0.83 -3.15 0 -3.15 
C -0.83 -3.15 -1.63 -2.81 -2.22 -2.22 
C -2.81 -1.63 -3.15 -0.83 -3.15 0 
C -3.15 0.83 -2.81 1.63 -2.22 2.22 
C -1.63 2.81 -0.83 3.15 0 3.15 
z
" transform="translate(292.85 198.6)" style="fill: #ff8515; stroke: #000000; stroke-width: 1.1"/>
<path d="M 0 3.15 
C 0.83 3.15 1.63 2.81 2.22 2.22 
C 2.81 1.63 3.15 0.83 3.15 0 
C 3.15 -0.83 2.81 -1.63 2.22 -2.22 
C 1.63 -2.81 0.83 -3.15 0 -3.15 
C -0.83 -3.15 -1.63 -2.81 -2.22 -2.22 
C -2.81 -1.63 -3.15 -0.83 -3.15 0 
C -3.15 0.83 -2.81 1.63 -2.22 2.22 
C -1.63 2.81 -0.83 3.15 0 3.15 
z
" transform="translate(304.98 198.4)" style="fill: #ff8515; stroke: #000000; stroke-width: 1.1"/>
<path d="M 0 3.15 
C 0.83 3.15 1.63 2.81 2.22 2.22 
C 2.81 1.63 3.15 0.83 3.15 0 
C 3.15 -0.83 2.81 -1.63 2.22 -2.22 
C 1.63 -2.81 0.83 -3.15 0 -3.15 
C -0.83 -3.15 -1.63 -2.81 -2.22 -2.22 
C -2.81 -1.63 -3.15 -0.83 -3.15 0 
C -3.15 0.83 -2.81 1.63 -2.22 2.22 
C -1.63 2.81 -0.83 3.15 0 3.15 
z
" transform="translate(317.11 199.4)" style="fill: #ff8515; stroke: #000000; stroke-width: 1.1"/>
<path d="M 0 3.15 
C 0.83 3.15 1.63 2.81 2.22 2.22 
C 2.81 1.63 3.15 0.83 3.15 0 
C 3.15 -0.83 2.81 -1.63 2.22 -2.22 
C 1.63 -2.81 0.83 -3.15 0 -3.15 
C -0.83 -3.15 -1.63 -2.81 -2.22 -2.22 
C -2.81 -1.63 -3.15 -0.83 -3.15 0 
C -3.15 0.83 -2.81 1.63 -2.22 2.22 
C -1.63 2.81 -0.83 3.15 0 3.15 
z
" transform="translate(329.24 199.4)" style="fill: #ff8515; stroke: #000000; stroke-width: 1.1"/>
<path d="M 0 3.15 
C 0.83 3.15 1.63 2.81 2.22 2.22 
C 2.81 1.63 3.15 0.83 3.15 0 
C 3.15 -0.83 2.81 -1.63 2.22 -2.22 
C 1.63 -2.81 0.83 -3.15 0 -3.15 
C -0.83 -3.15 -1.63 -2.81 -2.22 -2.22 
C -2.81 -1.63 -3.15 -0.83 -3.15 0 
C -3.15 0.83 -2.81 1.63 -2.22 2.22 
C -1.63 2.81 -0.83 3.15 0 3.15 
z
" transform="translate(341.38 204)" style="fill: #ff8515; stroke: #000000; stroke-width: 1.1"/>
<path d="M 0 3.15 
C 0.83 3.15 1.63 2.81 2.22 2.22 
C 2.81 1.63 3.15 0.83 3.15 0 
C 3.15 -0.83 2.81 -1.63 2.22 -2.22 
C 1.63 -2.81 0.83 -3.15 0 -3.15 
C -0.83 -3.15 -1.63 -2.81 -2.22 -2.22 
C -2.81 -1.63 -3.15 -0.83 -3.15 0 
C -3.15 0.83 -2.81 1.63 -2.22 2.22 
C -1.63 2.81 -0.83 3.15 0 3.15 
z
" transform="translate(353.51 206)" style="fill: #ff8515; stroke: #000000; stroke-width: 1.1"/>
<path d="M 0 3.15 
C 0.83 3.15 1.63 2.81 2.22 2.22 
C 2.81 1.63 3.15 0.83 3.15 0 
C 3.15 -0.83 2.81 -1.63 2.22 -2.22 
C 1.63 -2.81 0.83 -3.15 0 -3.15 
C -0.83 -3.15 -1.63 -2.81 -2.22 -2.22 
C -2.81 -1.63 -3.15 -0.83 -3.15 0 
C -3.15 0.83 -2.81 1.63 -2.22 2.22 
C -1.63 2.81 -0.83 3.15 0 3.15 
z
" transform="translate(365.64 220.6)" style="fill: #ff8515; stroke: #000000; stroke-width: 1.1"/>
<path d="M 0 3.15 
C 0.83 3.15 1.63 2.81 2.22 2.22 
C 2.81 1.63 3.15 0.83 3.15 0 
C 3.15 -0.83 2.81 -1.63 2.22 -2.22 
C 1.63 -2.81 0.83 -3.15 0 -3.15 
C -0.83 -3.15 -1.63 -2.81 -2.22 -2.22 
C -2.81 -1.63 -3.15 -0.83 -3.15 0 
C -3.15 0.83 -2.81 1.63 -2.22 2.22 
C -1.63 2.81 -0.83 3.15 0 3.15 
z
" transform="translate(377.77 223.4)" style="fill: #ff8515; stroke: #000000; stroke-width: 1.1"/>
<path d="M 0 3.15 
C 0.83 3.15 1.63 2.81 2.22 2.22 
C 2.81 1.63 3.15 0.83 3.15 0 
C 3.15 -0.83 2.81 -1.63 2.22 -2.22 
C 1.63 -2.81 0.83 -3.15 0 -3.15 
C -0.83 -3.15 -1.63 -2.81 -2.22 -2.22 
C -2.81 -1.63 -3.15 -0.83 -3.15 0 
C -3.15 0.83 -2.81 1.63 -2.22 2.22 
C -1.63 2.81 -0.83 3.15 0 3.15 
z
" transform="translate(389.91 222)" style="fill: #ff8515; stroke: #000000; stroke-width: 1.1"/>
<path d="M 0 3.15 
C 0.83 3.15 1.63 2.81 2.22 2.22 
C 2.81 1.63 3.15 0.83 3.15 0 
C 3.15 -0.83 2.81 -1.63 2.22 -2.22 
C 1.63 -2.81 0.83 -3.15 0 -3.15 
C -0.83 -3.15 -1.63 -2.81 -2.22 -2.22 
C -2.81 -1.63 -3.15 -0.83 -3.15 0 
C -3.15 0.83 -2.81 1.63 -2.22 2.22 
C -1.63 2.81 -0.83 3.15 0 3.15 
z
" transform="translate(402.04 219.6)" style="fill: #ff8515; stroke: #000000; stroke-width: 1.1"/>
<path d="M 0 3.15 
C 0.83 3.15 1.63 2.81 2.22 2.22 
C 2.81 1.63 3.15 0.83 3.15 0 
C 3.15 -0.83 2.81 -1.63 2.22 -2.22 
C 1.63 -2.81 0.83 -3.15 0 -3.15 
C -0.83 -3.15 -1.63 -2.81 -2.22 -2.22 
C -2.81 -1.63 -3.15 -0.83 -3.15 0 
C -3.15 0.83 -2.81 1.63 -2.22 2.22 
C -1.63 2.81 -0.83 3.15 0 3.15 
z
" transform="translate(414.17 212.6)" style="fill: #ff8515; stroke: #000000; stroke-width: 1.1"/>
<path d="M 0 3.15 
C 0.83 3.15 1.63 2.81 2.22 2.22 
C 2.81 1.63 3.15 0.83 3.15 0 
C 3.15 -0.83 2.81 -1.63 2.22 -2.22 
C 1.63 -2.81 0.83 -3.15 0 -3.15 
C -0.83 -3.15 -1.63 -2.81 -2.22 -2.22 
C -2.81 -1.63 -3.15 -0.83 -3.15 0 
C -3.15 0.83 -2.81 1.63 -2.22 2.22 
C -1.63 2.81 -0.83 3.15 0 3.15 
z
" transform="translate(426.30 214)" style="fill: #ff8515; stroke: #000000; stroke-width: 1.1"/>
<path d="M 0 3.15 
C 0.83 3.15 1.63 2.81 2.22 2.22 
C 2.81 1.63 3.15 0.83 3.15 0 
C 3.15 -0.83 2.81 -1.63 2.22 -2.22 
C 1.63 -2.81 0.83 -3.15 0 -3.15 
C -0.83 -3.15 -1.63 -2.81 -2.22 -2.22 
C -2.81 -1.63 -3.15 -0.83 -3.15 0 
C -3.15 0.83 -2.81 1.63 -2.22 2.22 
C -1.63 2.81 -0.83 3.15 0 3.15 
z
" transform="translate(438.44 216)" style="fill: #ff8515; stroke: #000000; stroke-width: 1.1"/>
<path d="M 0 3.15 
C 0.83 3.15 1.63 2.81 2.22 2.22 
C 2.81 1.63 3.15 0.83 3.15 0 
C 3.15 -0.83 2.81 -1.63 2.22 -2.22 
C 1.63 -2.81 0.83 -3.15 0 -3.15 
C -0.83 -3.15 -1.63 -2.81 -2.22 -2.22 
C -2.81 -1.63 -3.15 -0.83 -3.15 0 
C -3.15 0.83 -2.81 1.63 -2.22 2.22 
C -1.63 2.81 -0.83 3.15 0 3.15 
z
" transform="translate(450.57 220.3)" style="fill: #ff8515; stroke: #000000; stroke-width: 1.1"/>
<path d="M 0 3.15 
C 0.83 3.15 1.63 2.81 2.22 2.22 
C 2.81 1.63 3.15 0.83 3.15 0 
C 3.15 -0.83 2.81 -1.63 2.22 -2.22 
C 1.63 -2.81 0.83 -3.15 0 -3.15 
C -0.83 -3.15 -1.63 -2.81 -2.22 -2.22 
C -2.81 -1.63 -3.15 -0.83 -3.15 0 
C -3.15 0.83 -2.81 1.63 -2.22 2.22 
C -1.63 2.81 -0.83 3.15 0 3.15 
z
" transform="translate(462.70 213.6)" style="fill: #ff8515; stroke: #000000; stroke-width: 1.1"/>
<path d="M 0 3.15 
C 0.83 3.15 1.63 2.81 2.22 2.22 
C 2.81 1.63 3.15 0.83 3.15 0 
C 3.15 -0.83 2.81 -1.63 2.22 -2.22 
C 1.63 -2.81 0.83 -3.15 0 -3.15 
C -0.83 -3.15 -1.63 -2.81 -2.22 -2.22 
C -2.81 -1.63 -3.15 -0.83 -3.15 0 
C -3.15 0.83 -2.81 1.63 -2.22 2.22 
C -1.63 2.81 -0.83 3.15 0 3.15 
z
" transform="translate(474.83 211.6)" style="fill: #ff8515; stroke: #000000; stroke-width: 1.1"/>
<path d="M 0 3.15 
C 0.83 3.15 1.63 2.81 2.22 2.22 
C 2.81 1.63 3.15 0.83 3.15 0 
C 3.15 -0.83 2.81 -1.63 2.22 -2.22 
C 1.63 -2.81 0.83 -3.15 0 -3.15 
C -0.83 -3.15 -1.63 -2.81 -2.22 -2.22 
C -2.81 -1.63 -3.15 -0.83 -3.15 0 
C -3.15 0.83 -2.81 1.63 -2.22 2.22 
C -1.63 2.81 -0.83 3.15 0 3.15 
z
" transform="translate(486.97 212)" style="fill: #ff8515; stroke: #000000; stroke-width: 1.1"/>
<path d="M 0 3.15 
C 0.83 3.15 1.63 2.81 2.22 2.22 
C 2.81 1.63 3.15 0.83 3.15 0 
C 3.15 -0.83 2.81 -1.63 2.22 -2.22 
C 1.63 -2.81 0.83 -3.15 0 -3.15 
C -0.83 -3.15 -1.63 -2.81 -2.22 -2.22 
C -2.81 -1.63 -3.15 -0.83 -3.15 0 
C -3.15 0.83 -2.81 1.63 -2.22 2.22 
C -1.63 2.81 -0.83 3.15 0 3.15 
z
" transform="translate(499.10 218.1)" style="fill: #ff8515; stroke: #000000; stroke-width: 1.1"/>
<path d="M 0 3.15 
C 0.83 3.15 1.63 2.81 2.22 2.22 
C 2.81 1.63 3.15 0.83 3.15 0 
C 3.15 -0.83 2.81 -1.63 2.22 -2.22 
C 1.63 -2.81 0.83 -3.15 0 -3.15 
C -0.83 -3.15 -1.63 -2.81 -2.22 -2.22 
C -2.81 -1.63 -3.15 -0.83 -3.15 0 
C -3.15 0.83 -2.81 1.63 -2.22 2.22 
C -1.63 2.81 -0.83 3.15 0 3.15 
z
" transform="translate(511.23 202.5)" style="fill: #ff8515; stroke: #000000; stroke-width: 1.1"/>
<path d="M 0 3.15 
C 0.83 3.15 1.63 2.81 2.22 2.22 
C 2.81 1.63 3.15 0.83 3.15 0 
C 3.15 -0.83 2.81 -1.63 2.22 -2.22 
C 1.63 -2.81 0.83 -3.15 0 -3.15 
C -0.83 -3.15 -1.63 -2.81 -2.22 -2.22 
C -2.81 -1.63 -3.15 -0.83 -3.15 0 
C -3.15 0.83 -2.81 1.63 -2.22 2.22 
C -1.63 2.81 -0.83 3.15 0 3.15 
z
" transform="translate(523.36 211)" style="fill: #ff8515; stroke: #000000; stroke-width: 1.1"/>
<path d="M 0 3.15 
C 0.83 3.15 1.63 2.81 2.22 2.22 
C 2.81 1.63 3.15 0.83 3.15 0 
C 3.15 -0.83 2.81 -1.63 2.22 -2.22 
C 1.63 -2.81 0.83 -3.15 0 -3.15 
C -0.83 -3.15 -1.63 -2.81 -2.22 -2.22 
C -2.81 -1.63 -3.15 -0.83 -3.15 0 
C -3.15 0.83 -2.81 1.63 -2.22 2.22 
C -1.63 2.81 -0.83 3.15 0 3.15 
z
" transform="translate(535.5 212)" style="fill: #ff8515; stroke: #000000; stroke-width: 1.1"/>
</g>
</g>
<g id="line2d_86">
<g clip-path="url(#pb78dd19eea)">
<path d="M 0 3.15 
C 0.83 3.15 1.63 2.81 2.22 2.22 
C 2.81 1.63 3.15 0.83 3.15 0 
C 3.15 -0.83 2.81 -1.63 2.22 -2.22 
C 1.63 -2.81 0.83 -3.15 0 -3.15 
C -0.83 -3.15 -1.63 -2.81 -2.22 -2.22 
C -2.81 -1.63 -3.15 -0.83 -3.15 0 
C -3.15 0.83 -2.81 1.63 -2.22 2.22 
C -1.63 2.81 -0.83 3.15 0 3.15 
z
" transform="translate(50.2 265.4)" style="fill: #1b80c4; stroke: #000000; stroke-width: 1.1"/>
<path d="M 0 3.15 
C 0.83 3.15 1.63 2.81 2.22 2.22 
C 2.81 1.63 3.15 0.83 3.15 0 
C 3.15 -0.83 2.81 -1.63 2.22 -2.22 
C 1.63 -2.81 0.83 -3.15 0 -3.15 
C -0.83 -3.15 -1.63 -2.81 -2.22 -2.22 
C -2.81 -1.63 -3.15 -0.83 -3.15 0 
C -3.15 0.83 -2.81 1.63 -2.22 2.22 
C -1.63 2.81 -0.83 3.15 0 3.15 
z
" transform="translate(62.33 273.4)" style="fill: #1b80c4; stroke: #000000; stroke-width: 1.1"/>
<path d="M 0 3.15 
C 0.83 3.15 1.63 2.81 2.22 2.22 
C 2.81 1.63 3.15 0.83 3.15 0 
C 3.15 -0.83 2.81 -1.63 2.22 -2.22 
C 1.63 -2.81 0.83 -3.15 0 -3.15 
C -0.83 -3.15 -1.63 -2.81 -2.22 -2.22 
C -2.81 -1.63 -3.15 -0.83 -3.15 0 
C -3.15 0.83 -2.81 1.63 -2.22 2.22 
C -1.63 2.81 -0.83 3.15 0 3.15 
z
" transform="translate(74.46 269.6)" style="fill: #1b80c4; stroke: #000000; stroke-width: 1.1"/>
<path d="M 0 3.15 
C 0.83 3.15 1.63 2.81 2.22 2.22 
C 2.81 1.63 3.15 0.83 3.15 0 
C 3.15 -0.83 2.81 -1.63 2.22 -2.22 
C 1.63 -2.81 0.83 -3.15 0 -3.15 
C -0.83 -3.15 -1.63 -2.81 -2.22 -2.22 
C -2.81 -1.63 -3.15 -0.83 -3.15 0 
C -3.15 0.83 -2.81 1.63 -2.22 2.22 
C -1.63 2.81 -0.83 3.15 0 3.15 
z
" transform="translate(86.59 273)" style="fill: #1b80c4; stroke: #000000; stroke-width: 1.1"/>
<path d="M 0 3.15 
C 0.83 3.15 1.63 2.81 2.22 2.22 
C 2.81 1.63 3.15 0.83 3.15 0 
C 3.15 -0.83 2.81 -1.63 2.22 -2.22 
C 1.63 -2.81 0.83 -3.15 0 -3.15 
C -0.83 -3.15 -1.63 -2.81 -2.22 -2.22 
C -2.81 -1.63 -3.15 -0.83 -3.15 0 
C -3.15 0.83 -2.81 1.63 -2.22 2.22 
C -1.63 2.81 -0.83 3.15 0 3.15 
z
" transform="translate(98.73 267.6)" style="fill: #1b80c4; stroke: #000000; stroke-width: 1.1"/>
<path d="M 0 3.15 
C 0.83 3.15 1.63 2.81 2.22 2.22 
C 2.81 1.63 3.15 0.83 3.15 0 
C 3.15 -0.83 2.81 -1.63 2.22 -2.22 
C 1.63 -2.81 0.83 -3.15 0 -3.15 
C -0.83 -3.15 -1.63 -2.81 -2.22 -2.22 
C -2.81 -1.63 -3.15 -0.83 -3.15 0 
C -3.15 0.83 -2.81 1.63 -2.22 2.22 
C -1.63 2.81 -0.83 3.15 0 3.15 
z
" transform="translate(110.86 259.6)" style="fill: #1b80c4; stroke: #000000; stroke-width: 1.1"/>
<path d="M 0 3.15 
C 0.83 3.15 1.63 2.81 2.22 2.22 
C 2.81 1.63 3.15 0.83 3.15 0 
C 3.15 -0.83 2.81 -1.63 2.22 -2.22 
C 1.63 -2.81 0.83 -3.15 0 -3.15 
C -0.83 -3.15 -1.63 -2.81 -2.22 -2.22 
C -2.81 -1.63 -3.15 -0.83 -3.15 0 
C -3.15 0.83 -2.81 1.63 -2.22 2.22 
C -1.63 2.81 -0.83 3.15 0 3.15 
z
" transform="translate(122.99 289)" style="fill: #1b80c4; stroke: #000000; stroke-width: 1.1"/>
<path d="M 0 3.15 
C 0.83 3.15 1.63 2.81 2.22 2.22 
C 2.81 1.63 3.15 0.83 3.15 0 
C 3.15 -0.83 2.81 -1.63 2.22 -2.22 
C 1.63 -2.81 0.83 -3.15 0 -3.15 
C -0.83 -3.15 -1.63 -2.81 -2.22 -2.22 
C -2.81 -1.63 -3.15 -0.83 -3.15 0 
C -3.15 0.83 -2.81 1.63 -2.22 2.22 
C -1.63 2.81 -0.83 3.15 0 3.15 
z
" transform="translate(135.12 279.6)" style="fill: #1b80c4; stroke: #000000; stroke-width: 1.1"/>
<path d="M 0 3.15 
C 0.83 3.15 1.63 2.81 2.22 2.22 
C 2.81 1.63 3.15 0.83 3.15 0 
C 3.15 -0.83 2.81 -1.63 2.22 -2.22 
C 1.63 -2.81 0.83 -3.15 0 -3.15 
C -0.83 -3.15 -1.63 -2.81 -2.22 -2.22 
C -2.81 -1.63 -3.15 -0.83 -3.15 0 
C -3.15 0.83 -2.81 1.63 -2.22 2.22 
C -1.63 2.81 -0.83 3.15 0 3.15 
z
" transform="translate(147.26 260.4)" style="fill: #1b80c4; stroke: #000000; stroke-width: 1.1"/>
<path d="M 0 3.15 
C 0.83 3.15 1.63 2.81 2.22 2.22 
C 2.81 1.63 3.15 0.83 3.15 0 
C 3.15 -0.83 2.81 -1.63 2.22 -2.22 
C 1.63 -2.81 0.83 -3.15 0 -3.15 
C -0.83 -3.15 -1.63 -2.81 -2.22 -2.22 
C -2.81 -1.63 -3.15 -0.83 -3.15 0 
C -3.15 0.83 -2.81 1.63 -2.22 2.22 
C -1.63 2.81 -0.83 3.15 0 3.15 
z
" transform="translate(159.39 267)" style="fill: #1b80c4; stroke: #000000; stroke-width: 1.1"/>
<path d="M 0 3.15 
C 0.83 3.15 1.63 2.81 2.22 2.22 
C 2.81 1.63 3.15 0.83 3.15 0 
C 3.15 -0.83 2.81 -1.63 2.22 -2.22 
C 1.63 -2.81 0.83 -3.15 0 -3.15 
C -0.83 -3.15 -1.63 -2.81 -2.22 -2.22 
C -2.81 -1.63 -3.15 -0.83 -3.15 0 
C -3.15 0.83 -2.81 1.63 -2.22 2.22 
C -1.63 2.81 -0.83 3.15 0 3.15 
z
" transform="translate(171.52 240.4)" style="fill: #1b80c4; stroke: #000000; stroke-width: 1.1"/>
<path d="M 0 3.15 
C 0.83 3.15 1.63 2.81 2.22 2.22 
C 2.81 1.63 3.15 0.83 3.15 0 
C 3.15 -0.83 2.81 -1.63 2.22 -2.22 
C 1.63 -2.81 0.83 -3.15 0 -3.15 
C -0.83 -3.15 -1.63 -2.81 -2.22 -2.22 
C -2.81 -1.63 -3.15 -0.83 -3.15 0 
C -3.15 0.83 -2.81 1.63 -2.22 2.22 
C -1.63 2.81 -0.83 3.15 0 3.15 
z
" transform="translate(183.65 251)" style="fill: #1b80c4; stroke: #000000; stroke-width: 1.1"/>
<path d="M 0 3.15 
C 0.83 3.15 1.63 2.81 2.22 2.22 
C 2.81 1.63 3.15 0.83 3.15 0 
C 3.15 -0.83 2.81 -1.63 2.22 -2.22 
C 1.63 -2.81 0.83 -3.15 0 -3.15 
C -0.83 -3.15 -1.63 -2.81 -2.22 -2.22 
C -2.81 -1.63 -3.15 -0.83 -3.15 0 
C -3.15 0.83 -2.81 1.63 -2.22 2.22 
C -1.63 2.81 -0.83 3.15 0 3.15 
z
" transform="translate(195.79 280.4)" style="fill: #1b80c4; stroke: #000000; stroke-width: 1.1"/>
<path d="M 0 3.15 
C 0.83 3.15 1.63 2.81 2.22 2.22 
C 2.81 1.63 3.15 0.83 3.15 0 
C 3.15 -0.83 2.81 -1.63 2.22 -2.22 
C 1.63 -2.81 0.83 -3.15 0 -3.15 
C -0.83 -3.15 -1.63 -2.81 -2.22 -2.22 
C -2.81 -1.63 -3.15 -0.83 -3.15 0 
C -3.15 0.83 -2.81 1.63 -2.22 2.22 
C -1.63 2.81 -0.83 3.15 0 3.15 
z
" transform="translate(207.92 317.9)" style="fill: #1b80c4; stroke: #000000; stroke-width: 1.1"/>
<path d="M 0 3.15 
C 0.83 3.15 1.63 2.81 2.22 2.22 
C 2.81 1.63 3.15 0.83 3.15 0 
C 3.15 -0.83 2.81 -1.63 2.22 -2.22 
C 1.63 -2.81 0.83 -3.15 0 -3.15 
C -0.83 -3.15 -1.63 -2.81 -2.22 -2.22 
C -2.81 -1.63 -3.15 -0.83 -3.15 0 
C -3.15 0.83 -2.81 1.63 -2.22 2.22 
C -1.63 2.81 -0.83 3.15 0 3.15 
z
" transform="translate(220.05 345.4)" style="fill: #1b80c4; stroke: #000000; stroke-width: 1.1"/>
<path d="M 0 3.15 
C 0.83 3.15 1.63 2.81 2.22 2.22 
C 2.81 1.63 3.15 0.83 3.15 0 
C 3.15 -0.83 2.81 -1.63 2.22 -2.22 
C 1.63 -2.81 0.83 -3.15 0 -3.15 
C -0.83 -3.15 -1.63 -2.81 -2.22 -2.22 
C -2.81 -1.63 -3.15 -0.83 -3.15 0 
C -3.15 0.83 -2.81 1.63 -2.22 2.22 
C -1.63 2.81 -0.83 3.15 0 3.15 
z
" transform="translate(232.18 350.2)" style="fill: #1b80c4; stroke: #000000; stroke-width: 1.1"/>
<path d="M 0 3.15 
C 0.83 3.15 1.63 2.81 2.22 2.22 
C 2.81 1.63 3.15 0.83 3.15 0 
C 3.15 -0.83 2.81 -1.63 2.22 -2.22 
C 1.63 -2.81 0.83 -3.15 0 -3.15 
C -0.83 -3.15 -1.63 -2.81 -2.22 -2.22 
C -2.81 -1.63 -3.15 -0.83 -3.15 0 
C -3.15 0.83 -2.81 1.63 -2.22 2.22 
C -1.63 2.81 -0.83 3.15 0 3.15 
z
" transform="translate(244.32 323.6)" style="fill: #1b80c4; stroke: #000000; stroke-width: 1.1"/>
<path d="M 0 3.15 
C 0.83 3.15 1.63 2.81 2.22 2.22 
C 2.81 1.63 3.15 0.83 3.15 0 
C 3.15 -0.83 2.81 -1.63 2.22 -2.22 
C 1.63 -2.81 0.83 -3.15 0 -3.15 
C -0.83 -3.15 -1.63 -2.81 -2.22 -2.22 
C -2.81 -1.63 -3.15 -0.83 -3.15 0 
C -3.15 0.83 -2.81 1.63 -2.22 2.22 
C -1.63 2.81 -0.83 3.15 0 3.15 
z
" transform="translate(256.45 297)" style="fill: #1b80c4; stroke: #000000; stroke-width: 1.1"/>
<path d="M 0 3.15 
C 0.83 3.15 1.63 2.81 2.22 2.22 
C 2.81 1.63 3.15 0.83 3.15 0 
C 3.15 -0.83 2.81 -1.63 2.22 -2.22 
C 1.63 -2.81 0.83 -3.15 0 -3.15 
C -0.83 -3.15 -1.63 -2.81 -2.22 -2.22 
C -2.81 -1.63 -3.15 -0.83 -3.15 0 
C -3.15 0.83 -2.81 1.63 -2.22 2.22 
C -1.63 2.81 -0.83 3.15 0 3.15 
z
" transform="translate(268.58 280)" style="fill: #1b80c4; stroke: #000000; stroke-width: 1.1"/>
<path d="M 0 3.15 
C 0.83 3.15 1.63 2.81 2.22 2.22 
C 2.81 1.63 3.15 0.83 3.15 0 
C 3.15 -0.83 2.81 -1.63 2.22 -2.22 
C 1.63 -2.81 0.83 -3.15 0 -3.15 
C -0.83 -3.15 -1.63 -2.81 -2.22 -2.22 
C -2.81 -1.63 -3.15 -0.83 -3.15 0 
C -3.15 0.83 -2.81 1.63 -2.22 2.22 
C -1.63 2.81 -0.83 3.15 0 3.15 
z
" transform="translate(280.71 264)" style="fill: #1b80c4; stroke: #000000; stroke-width: 1.1"/>
<path d="M 0 3.15 
C 0.83 3.15 1.63 2.81 2.22 2.22 
C 2.81 1.63 3.15 0.83 3.15 0 
C 3.15 -0.83 2.81 -1.63 2.22 -2.22 
C 1.63 -2.81 0.83 -3.15 0 -3.15 
C -0.83 -3.15 -1.63 -2.81 -2.22 -2.22 
C -2.81 -1.63 -3.15 -0.83 -3.15 0 
C -3.15 0.83 -2.81 1.63 -2.22 2.22 
C -1.63 2.81 -0.83 3.15 0 3.15 
z
" transform="translate(292.85 263.6)" style="fill: #1b80c4; stroke: #000000; stroke-width: 1.1"/>
<path d="M 0 3.15 
C 0.83 3.15 1.63 2.81 2.22 2.22 
C 2.81 1.63 3.15 0.83 3.15 0 
C 3.15 -0.83 2.81 -1.63 2.22 -2.22 
C 1.63 -2.81 0.83 -3.15 0 -3.15 
C -0.83 -3.15 -1.63 -2.81 -2.22 -2.22 
C -2.81 -1.63 -3.15 -0.83 -3.15 0 
C -3.15 0.83 -2.81 1.63 -2.22 2.22 
C -1.63 2.81 -0.83 3.15 0 3.15 
z
" transform="translate(304.98 262.6)" style="fill: #1b80c4; stroke: #000000; stroke-width: 1.1"/>
<path d="M 0 3.15 
C 0.83 3.15 1.63 2.81 2.22 2.22 
C 2.81 1.63 3.15 0.83 3.15 0 
C 3.15 -0.83 2.81 -1.63 2.22 -2.22 
C 1.63 -2.81 0.83 -3.15 0 -3.15 
C -0.83 -3.15 -1.63 -2.81 -2.22 -2.22 
C -2.81 -1.63 -3.15 -0.83 -3.15 0 
C -3.15 0.83 -2.81 1.63 -2.22 2.22 
C -1.63 2.81 -0.83 3.15 0 3.15 
z
" transform="translate(317.11 290.8)" style="fill: #1b80c4; stroke: #000000; stroke-width: 1.1"/>
<path d="M 0 3.15 
C 0.83 3.15 1.63 2.81 2.22 2.22 
C 2.81 1.63 3.15 0.83 3.15 0 
C 3.15 -0.83 2.81 -1.63 2.22 -2.22 
C 1.63 -2.81 0.83 -3.15 0 -3.15 
C -0.83 -3.15 -1.63 -2.81 -2.22 -2.22 
C -2.81 -1.63 -3.15 -0.83 -3.15 0 
C -3.15 0.83 -2.81 1.63 -2.22 2.22 
C -1.63 2.81 -0.83 3.15 0 3.15 
z
" transform="translate(329.24 289.6)" style="fill: #1b80c4; stroke: #000000; stroke-width: 1.1"/>
<path d="M 0 3.15 
C 0.83 3.15 1.63 2.81 2.22 2.22 
C 2.81 1.63 3.15 0.83 3.15 0 
C 3.15 -0.83 2.81 -1.63 2.22 -2.22 
C 1.63 -2.81 0.83 -3.15 0 -3.15 
C -0.83 -3.15 -1.63 -2.81 -2.22 -2.22 
C -2.81 -1.63 -3.15 -0.83 -3.15 0 
C -3.15 0.83 -2.81 1.63 -2.22 2.22 
C -1.63 2.81 -0.83 3.15 0 3.15 
z
" transform="translate(341.38 303.7)" style="fill: #1b80c4; stroke: #000000; stroke-width: 1.1"/>
<path d="M 0 3.15 
C 0.83 3.15 1.63 2.81 2.22 2.22 
C 2.81 1.63 3.15 0.83 3.15 0 
C 3.15 -0.83 2.81 -1.63 2.22 -2.22 
C 1.63 -2.81 0.83 -3.15 0 -3.15 
C -0.83 -3.15 -1.63 -2.81 -2.22 -2.22 
C -2.81 -1.63 -3.15 -0.83 -3.15 0 
C -3.15 0.83 -2.81 1.63 -2.22 2.22 
C -1.63 2.81 -0.83 3.15 0 3.15 
z
" transform="translate(353.51 310.7)" style="fill: #1b80c4; stroke: #000000; stroke-width: 1.1"/>
<path d="M 0 3.15 
C 0.83 3.15 1.63 2.81 2.22 2.22 
C 2.81 1.63 3.15 0.83 3.15 0 
C 3.15 -0.83 2.81 -1.63 2.22 -2.22 
C 1.63 -2.81 0.83 -3.15 0 -3.15 
C -0.83 -3.15 -1.63 -2.81 -2.22 -2.22 
C -2.81 -1.63 -3.15 -0.83 -3.15 0 
C -3.15 0.83 -2.81 1.63 -2.22 2.22 
C -1.63 2.81 -0.83 3.15 0 3.15 
z
" transform="translate(365.64 286.3)" style="fill: #1b80c4; stroke: #000000; stroke-width: 1.1"/>
<path d="M 0 3.15 
C 0.83 3.15 1.63 2.81 2.22 2.22 
C 2.81 1.63 3.15 0.83 3.15 0 
C 3.15 -0.83 2.81 -1.63 2.22 -2.22 
C 1.63 -2.81 0.83 -3.15 0 -3.15 
C -0.83 -3.15 -1.63 -2.81 -2.22 -2.22 
C -2.81 -1.63 -3.15 -0.83 -3.15 0 
C -3.15 0.83 -2.81 1.63 -2.22 2.22 
C -1.63 2.81 -0.83 3.15 0 3.15 
z
" transform="translate(377.77 291.6)" style="fill: #1b80c4; stroke: #000000; stroke-width: 1.1"/>
<path d="M 0 3.15 
C 0.83 3.15 1.63 2.81 2.22 2.22 
C 2.81 1.63 3.15 0.83 3.15 0 
C 3.15 -0.83 2.81 -1.63 2.22 -2.22 
C 1.63 -2.81 0.83 -3.15 0 -3.15 
C -0.83 -3.15 -1.63 -2.81 -2.22 -2.22 
C -2.81 -1.63 -3.15 -0.83 -3.15 0 
C -3.15 0.83 -2.81 1.63 -2.22 2.22 
C -1.63 2.81 -0.83 3.15 0 3.15 
z
" transform="translate(389.91 288.8)" style="fill: #1b80c4; stroke: #000000; stroke-width: 1.1"/>
<path d="M 0 3.15 
C 0.83 3.15 1.63 2.81 2.22 2.22 
C 2.81 1.63 3.15 0.83 3.15 0 
C 3.15 -0.83 2.81 -1.63 2.22 -2.22 
C 1.63 -2.81 0.83 -3.15 0 -3.15 
C -0.83 -3.15 -1.63 -2.81 -2.22 -2.22 
C -2.81 -1.63 -3.15 -0.83 -3.15 0 
C -3.15 0.83 -2.81 1.63 -2.22 2.22 
C -1.63 2.81 -0.83 3.15 0 3.15 
z
" transform="translate(402.04 284)" style="fill: #1b80c4; stroke: #000000; stroke-width: 1.1"/>
<path d="M 0 3.15 
C 0.83 3.15 1.63 2.81 2.22 2.22 
C 2.81 1.63 3.15 0.83 3.15 0 
C 3.15 -0.83 2.81 -1.63 2.22 -2.22 
C 1.63 -2.81 0.83 -3.15 0 -3.15 
C -0.83 -3.15 -1.63 -2.81 -2.22 -2.22 
C -2.81 -1.63 -3.15 -0.83 -3.15 0 
C -3.15 0.83 -2.81 1.63 -2.22 2.22 
C -1.63 2.81 -0.83 3.15 0 3.15 
z
" transform="translate(414.17 293.2)" style="fill: #1b80c4; stroke: #000000; stroke-width: 1.1"/>
<path d="M 0 3.15 
C 0.83 3.15 1.63 2.81 2.22 2.22 
C 2.81 1.63 3.15 0.83 3.15 0 
C 3.15 -0.83 2.81 -1.63 2.22 -2.22 
C 1.63 -2.81 0.83 -3.15 0 -3.15 
C -0.83 -3.15 -1.63 -2.81 -2.22 -2.22 
C -2.81 -1.63 -3.15 -0.83 -3.15 0 
C -3.15 0.83 -2.81 1.63 -2.22 2.22 
C -1.63 2.81 -0.83 3.15 0 3.15 
z
" transform="translate(426.30 296.3)" style="fill: #1b80c4; stroke: #000000; stroke-width: 1.1"/>
<path d="M 0 3.15 
C 0.83 3.15 1.63 2.81 2.22 2.22 
C 2.81 1.63 3.15 0.83 3.15 0 
C 3.15 -0.83 2.81 -1.63 2.22 -2.22 
C 1.63 -2.81 0.83 -3.15 0 -3.15 
C -0.83 -3.15 -1.63 -2.81 -2.22 -2.22 
C -2.81 -1.63 -3.15 -0.83 -3.15 0 
C -3.15 0.83 -2.81 1.63 -2.22 2.22 
C -1.63 2.81 -0.83 3.15 0 3.15 
z
" transform="translate(438.44 301.7)" style="fill: #1b80c4; stroke: #000000; stroke-width: 1.1"/>
<path d="M 0 3.15 
C 0.83 3.15 1.63 2.81 2.22 2.22 
C 2.81 1.63 3.15 0.83 3.15 0 
C 3.15 -0.83 2.81 -1.63 2.22 -2.22 
C 1.63 -2.81 0.83 -3.15 0 -3.15 
C -0.83 -3.15 -1.63 -2.81 -2.22 -2.22 
C -2.81 -1.63 -3.15 -0.83 -3.15 0 
C -3.15 0.83 -2.81 1.63 -2.22 2.22 
C -1.63 2.81 -0.83 3.15 0 3.15 
z
" transform="translate(450.57 311.9)" style="fill: #1b80c4; stroke: #000000; stroke-width: 1.1"/>
<path d="M 0 3.15 
C 0.83 3.15 1.63 2.81 2.22 2.22 
C 2.81 1.63 3.15 0.83 3.15 0 
C 3.15 -0.83 2.81 -1.63 2.22 -2.22 
C 1.63 -2.81 0.83 -3.15 0 -3.15 
C -0.83 -3.15 -1.63 -2.81 -2.22 -2.22 
C -2.81 -1.63 -3.15 -0.83 -3.15 0 
C -3.15 0.83 -2.81 1.63 -2.22 2.22 
C -1.63 2.81 -0.83 3.15 0 3.15 
z
" transform="translate(462.70 315.2)" style="fill: #1b80c4; stroke: #000000; stroke-width: 1.1"/>
<path d="M 0 3.15 
C 0.83 3.15 1.63 2.81 2.22 2.22 
C 2.81 1.63 3.15 0.83 3.15 0 
C 3.15 -0.83 2.81 -1.63 2.22 -2.22 
C 1.63 -2.81 0.83 -3.15 0 -3.15 
C -0.83 -3.15 -1.63 -2.81 -2.22 -2.22 
C -2.81 -1.63 -3.15 -0.83 -3.15 0 
C -3.15 0.83 -2.81 1.63 -2.22 2.22 
C -1.63 2.81 -0.83 3.15 0 3.15 
z
" transform="translate(474.83 309.7)" style="fill: #1b80c4; stroke: #000000; stroke-width: 1.1"/>
<path d="M 0 3.15 
C 0.83 3.15 1.63 2.81 2.22 2.22 
C 2.81 1.63 3.15 0.83 3.15 0 
C 3.15 -0.83 2.81 -1.63 2.22 -2.22 
C 1.63 -2.81 0.83 -3.15 0 -3.15 
C -0.83 -3.15 -1.63 -2.81 -2.22 -2.22 
C -2.81 -1.63 -3.15 -0.83 -3.15 0 
C -3.15 0.83 -2.81 1.63 -2.22 2.22 
C -1.63 2.81 -0.83 3.15 0 3.15 
z
" transform="translate(486.97 310.4)" style="fill: #1b80c4; stroke: #000000; stroke-width: 1.1"/>
<path d="M 0 3.15 
C 0.83 3.15 1.63 2.81 2.22 2.22 
C 2.81 1.63 3.15 0.83 3.15 0 
C 3.15 -0.83 2.81 -1.63 2.22 -2.22 
C 1.63 -2.81 0.83 -3.15 0 -3.15 
C -0.83 -3.15 -1.63 -2.81 -2.22 -2.22 
C -2.81 -1.63 -3.15 -0.83 -3.15 0 
C -3.15 0.83 -2.81 1.63 -2.22 2.22 
C -1.63 2.81 -0.83 3.15 0 3.15 
z
" transform="translate(499.10 327.7)" style="fill: #1b80c4; stroke: #000000; stroke-width: 1.1"/>
<path d="M 0 3.15 
C 0.83 3.15 1.63 2.81 2.22 2.22 
C 2.81 1.63 3.15 0.83 3.15 0 
C 3.15 -0.83 2.81 -1.63 2.22 -2.22 
C 1.63 -2.81 0.83 -3.15 0 -3.15 
C -0.83 -3.15 -1.63 -2.81 -2.22 -2.22 
C -2.81 -1.63 -3.15 -0.83 -3.15 0 
C -3.15 0.83 -2.81 1.63 -2.22 2.22 
C -1.63 2.81 -0.83 3.15 0 3.15 
z
" transform="translate(511.23 313)" style="fill: #1b80c4; stroke: #000000; stroke-width: 1.1"/>
<path d="M 0 3.15 
C 0.83 3.15 1.63 2.81 2.22 2.22 
C 2.81 1.63 3.15 0.83 3.15 0 
C 3.15 -0.83 2.81 -1.63 2.22 -2.22 
C 1.63 -2.81 0.83 -3.15 0 -3.15 
C -0.83 -3.15 -1.63 -2.81 -2.22 -2.22 
C -2.81 -1.63 -3.15 -0.83 -3.15 0 
C -3.15 0.83 -2.81 1.63 -2.22 2.22 
C -1.63 2.81 -0.83 3.15 0 3.15 
z
" transform="translate(523.36 340.4)" style="fill: #1b80c4; stroke: #000000; stroke-width: 1.1"/>
<path d="M 0 3.15 
C 0.83 3.15 1.63 2.81 2.22 2.22 
C 2.81 1.63 3.15 0.83 3.15 0 
C 3.15 -0.83 2.81 -1.63 2.22 -2.22 
C 1.63 -2.81 0.83 -3.15 0 -3.15 
C -0.83 -3.15 -1.63 -2.81 -2.22 -2.22 
C -2.81 -1.63 -3.15 -0.83 -3.15 0 
C -3.15 0.83 -2.81 1.63 -2.22 2.22 
C -1.63 2.81 -0.83 3.15 0 3.15 
z
" transform="translate(535.5 342.6)" style="fill: #1b80c4; stroke: #000000; stroke-width: 1.1"/>
</g>
</g>
<g id="line2d_87">
<path d="M 312.35 377.6 
L 312.35 155.2 
" clip-path="url(#pb78dd19eea)" style="fill: none; stroke: #333333; stroke-width: 4; stroke-linecap: square"/>
<path d="M 312.35 377.6 
L 312.35 155.2 
" clip-path="url(#pb78dd19eea)" style="fill: none; stroke: #f0502a; stroke-width: 2.2; stroke-linecap: square"/>
</g>
<g id="text_30">
<text style="font-weight: 700; font-size: 14px; font-family: 'DejaVu Sans', sans-serif; text-anchor: start; fill: #ffffff; stroke: #ffffff; stroke-width: 0.3px" x="55.2" y="176.93" transform="rotate(-0 55.2 176.93)">C</text>
</g>
<g id="text_31">
<text style="font-weight: 700; font-size: 9.85px; font-family: 'DejaVu Sans', sans-serif; fill: #ffffff; stroke: #ffffff; stroke-width: 0.3px" transform="translate(366 173.88)">Asphalt pavement</text>
<text style="font-weight: 700; font-size: 9.85px; font-family: 'DejaVu Sans', sans-serif; fill: #ffffff; stroke: #ffffff; stroke-width: 0.3px" transform="translate(366 184.16)">thickness from FWD</text>
</g>
<g id="patch_18">
<path d="M 402.7 189.1 
Q 383.65 202.65 366.88 214.57 
" style="fill: none; stroke: #000000; stroke-width: 1.9; stroke-linecap: round"/>
<path d="M 373.02 212.85 
L 366.88 214.57 
L 370.52 209.33 
z
" style="stroke: #000000; stroke-width: 1.9; stroke-linecap: round"/>
</g>
<g id="text_32">
<text style="font-weight: 700; font-size: 9.85px; font-family: 'DejaVu Sans', sans-serif; stroke: #000000; stroke-width: 0.3px" transform="translate(344 344.48)">Total pavement</text>
<text style="font-weight: 700; font-size: 9.85px; font-family: 'DejaVu Sans', sans-serif; stroke: #000000; stroke-width: 0.3px" transform="translate(344 354.91)">thickness from FWD</text>
</g>
<g id="patch_19">
<path d="M 408.2 333.4 
Q 418.45 318.4 427.11 305.71 
" style="fill: none; stroke: #000000; stroke-width: 1.9; stroke-linecap: round"/>
<path d="M 421.94 309.45 
L 427.11 305.71 
L 425.51 311.88 
z
" style="stroke: #000000; stroke-width: 1.9; stroke-linecap: round"/>
</g>
<g id="patch_20">
<path d="M 55 371.7 
L 193.8 371.7 
L 193.8 297.2 
L 55 297.2 
z
" style="fill: #ffffff; opacity: 0.8"/>
</g>
<g id="legend_2">
<g id="patch_21">
<path d="M 58.95 307.56 
L 78.65 307.56 
L 78.65 300.66 
L 58.95 300.66 
z
" style="fill: #696969; stroke: #1a1a1a; stroke-width: 0.9; stroke-linejoin: miter"/>
</g>
<g id="text_33">
<text style="font-size: 9.85px; font-family: 'DejaVu Sans', sans-serif; text-anchor: start; stroke: #000000; stroke-width: 0.3px" x="85.74" y="307.56" transform="rotate(-0 85.74 307.56)">Asphalt concrete</text>
</g>
<g id="patch_22">
<path d="M 58.95 322.02 
L 78.65 322.02 
L 78.65 315.12 
L 58.95 315.12 
z
" style="fill: #6c8297; stroke: #1a1a1a; stroke-width: 0.9; stroke-linejoin: miter"/>
</g>
<g id="text_34">
<text style="font-size: 9.85px; font-family: 'DejaVu Sans', sans-serif; text-anchor: start; stroke: #000000; stroke-width: 0.3px" x="85.74" y="322.02" transform="rotate(-0 85.74 322.02)">Asphalt macadam</text>
</g>
<g id="patch_23">
<path d="M 58.95 336.48 
L 78.65 336.48 
L 78.65 329.58 
L 58.95 329.58 
z
" style="fill: #adadad; stroke: #1a1a1a; stroke-width: 0.9; stroke-linejoin: miter"/>
</g>
<g id="text_35">
<text style="font-size: 9.85px; font-family: 'DejaVu Sans', sans-serif; text-anchor: start; stroke: #000000; stroke-width: 0.3px" x="85.74" y="336.48" transform="rotate(-0 85.74 336.48)">Macadam base</text>
</g>
<g id="patch_24">
<path d="M 58.95 350.93 
L 78.65 350.93 
L 78.65 344.04 
L 58.95 344.04 
z
" style="fill: #c0b96a; stroke: #1a1a1a; stroke-width: 0.9; stroke-linejoin: miter"/>
</g>
<g id="text_36">
<text style="font-size: 9.85px; font-family: 'DejaVu Sans', sans-serif; text-anchor: start; stroke: #000000; stroke-width: 0.3px" x="85.74" y="350.93" transform="rotate(-0 85.74 350.93)">Cement treated base</text>
</g>
<g id="patch_25">
<path d="M 58.95 365.39 
L 78.65 365.39 
L 78.65 358.50 
L 58.95 358.50 
z
" style="fill: #eca800; stroke: #1a1a1a; stroke-width: 0.9; stroke-linejoin: miter"/>
</g>
<g id="text_37">
<text style="font-size: 9.85px; font-family: 'DejaVu Sans', sans-serif; text-anchor: start; stroke: #000000; stroke-width: 0.3px" x="85.74" y="365.39" transform="rotate(-0 85.74 365.39)">Subgrade</text>
</g>
</g>
</g>
</g>
<defs>
<clipPath id="p1112a721fc">
<rect x="50.2" y="3.3" width="485.3" height="55.2"/>
</clipPath>
<clipPath id="p58a53e73a0">
<rect x="50.2" y="79.6" width="485.3" height="55.2"/>
</clipPath>
<clipPath id="pb78dd19eea">
<rect x="50.2" y="155.2" width="485.3" height="222.4"/>
</clipPath>
</defs>
</svg>

</body></html>
